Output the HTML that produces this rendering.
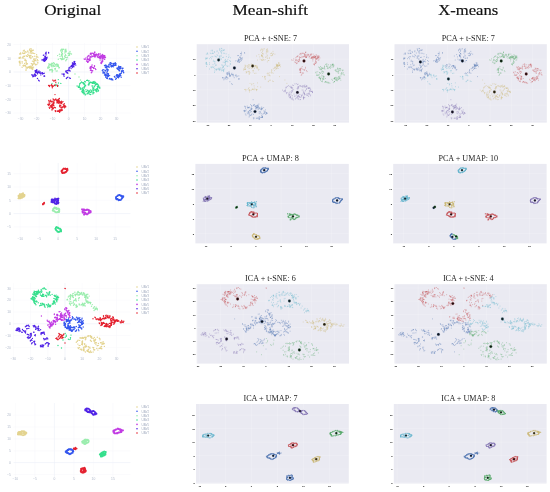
<!DOCTYPE html>
<html lang="en"><head><meta charset="utf-8"><title>Clustering comparison</title>
<style>html,body{margin:0;padding:0;background:#fff}svg{display:block}</style></head>
<body>
<svg width="550" height="492" viewBox="0 0 550 492">
<rect width="550" height="492" fill="#fff"/>
<g font-family="'Liberation Serif', serif" font-size="15.2" fill="#111" stroke="#111" stroke-width="0.18">
<text x="44.2" y="15.2" textLength="57" lengthAdjust="spacingAndGlyphs">Original</text>
<text x="232.6" y="15.2" textLength="75.4" lengthAdjust="spacingAndGlyphs">Mean-shift</text>
<text x="438.2" y="15.2" textLength="60" lengthAdjust="spacingAndGlyphs">X-means</text>
</g>
<g>
<g stroke="#f6f7fb" stroke-width="0.5">
<line x1="20.6" y1="43" x2="20.6" y2="117"/>
<line x1="36.6" y1="43" x2="36.6" y2="117"/>
<line x1="52.6" y1="43" x2="52.6" y2="117"/>
<line x1="84.6" y1="43" x2="84.6" y2="117"/>
<line x1="100.6" y1="43" x2="100.6" y2="117"/>
<line x1="116.6" y1="43" x2="116.6" y2="117"/>
<line x1="13.5" y1="44.6" x2="130.5" y2="44.6"/>
<line x1="13.5" y1="58.3" x2="130.5" y2="58.3"/>
<line x1="13.5" y1="85.7" x2="130.5" y2="85.7"/>
<line x1="13.5" y1="99.4" x2="130.5" y2="99.4"/>
<line x1="13.5" y1="113.1" x2="130.5" y2="113.1"/>
</g>
<g stroke="#ebeff7" stroke-width="0.6">
<line x1="68.6" y1="43" x2="68.6" y2="117"/>
<line x1="13.5" y1="72" x2="130.5" y2="72"/>
</g>
<g font-family="'Liberation Sans', sans-serif" font-size="3.3" fill="#b0b9ca">
<text x="20.6" y="119.8" text-anchor="middle">−30</text>
<text x="36.6" y="119.8" text-anchor="middle">−20</text>
<text x="52.6" y="119.8" text-anchor="middle">−10</text>
<text x="68.6" y="119.8" text-anchor="middle">0</text>
<text x="84.6" y="119.8" text-anchor="middle">10</text>
<text x="100.6" y="119.8" text-anchor="middle">20</text>
<text x="116.6" y="119.8" text-anchor="middle">30</text>
<text x="10.8" y="45.8" text-anchor="end">20</text>
<text x="10.8" y="59.5" text-anchor="end">10</text>
<text x="10.8" y="73.2" text-anchor="end">0</text>
<text x="10.8" y="86.9" text-anchor="end">−10</text>
<text x="10.8" y="100.6" text-anchor="end">−20</text>
<text x="10.8" y="114.3" text-anchor="end">−30</text>
</g>
<path d="M36.8 64.5h0M20.1 63.3h0M36 58.6h0M25 59.3h0M27.5 67.5h0M24.2 50.3h0M24.3 51.1h0M26 62h0M26.4 62.9h0M26 70.2h0M26.1 68.9h0M29.8 67.2h0M29.4 66.5h0M30.9 58.6h0M20.4 53.2h0M29.4 68h0M32.1 56.9h0M19.2 58.4h0M20.2 58h0M24.6 53h0M30.2 67.3h0M30.8 68h0M23.1 65.5h0M23.6 66.1h0M22.1 67.2h0M28.9 52.9h0M22.9 56.9h0M22.1 61.7h0M24.8 53.3h0M24.2 53.2h0M19.7 61.9h0M19.8 61.3h0M19.9 65h0M32.4 68.3h0M31.3 68.8h0M22.2 63.1h0M23.2 53.5h0M22.6 53h0M26.2 60.7h0M25.8 60.3h0M35.5 64.9h0M35.3 64.2h0M19.8 58h0M20.1 57.4h0M36.5 57h0M36.9 56.3h0M34.1 61.6h0M33.4 61.6h0M23.9 56.3h0M24.6 56.2h0M37.9 57.2h0M32.5 53h0M33.4 53.2h0M30.7 55.7h0M25.9 66.9h0M27.8 51.7h0M27.8 50.9h0M32.4 64.8h0M32.4 65.6h0M25.5 65.2h0M25.1 65.9h0M31.9 66.1h0M32.4 65.5h0M19.5 62.8h0M19.9 61.8h0M30.4 51.8h0M31.5 51.4h0M19.2 61.8h0M34.7 53.6h0M31.4 49.1h0M30.9 48.8h0M37.8 62.3h0M37.8 63h0M27 67.1h0M27.5 68.1h0M31.1 50.7h0M29.9 50.4h0M33.6 67.1h0M32.8 67.5h0M34.1 62.6h0M34.2 63.5h0M31 52.4h0M31.1 53.5h0M20.8 54h0M32.2 50.4h0M32.9 50.4h0M35.4 60h0M24.9 60.4h0M20.4 57.2h0M33.4 50.1h0M32.5 50.5h0M32 63.8h0M31.3 63.6h0M26.2 55.6h0M29.6 68.1h0M32.7 68.2h0M32.1 68.3h0M30 57.1h0M29.5 57.6h0M19.2 57.4h0M34.1 58.6h0M32.9 68.7h0M32.6 69.5h0M32.7 56.8h0M20.3 62.9h0M30.9 55.5h0M23.3 50.9h0M23.7 58.1h0M34 60.9h0M29.5 56.2h0M29.7 55.5h0M34.5 60h0M34.5 60.5h0M32.4 61.1h0M36 60.8h0M35.2 60.4h0M26.1 52.3h0M25.7 51.7h0M32.7 64.8h0M19.7 54h0M33.7 59.3h0M37.9 60.4h0M37.4 59.6h0M34.8 56.2h0M29.6 49.2h0M29.9 50.2h0M20.6 53h0M34 60.7h0M27.4 63.7h0M26.7 64.2h0M30.9 58h0M26.5 56.1h0M27.5 56.4h0M23.9 65.3h0M24.5 65.4h0M31.5 67.2h0M22.2 58h0M27.8 54.5h0M28.3 55.2h0M30.6 66.1h0M24.7 63.4h0M36.6 54.6h0M33.5 63.9h0M29.2 67.6h0M28.9 66.7h0M27 67.7h0M28.1 67.2h0" stroke="#e3d38f" stroke-width="1.4" stroke-linecap="round" fill="none"/>
<path d="M110.6 79.1h0M122.1 70.5h0M108.8 66.4h0M113.6 64.7h0M105.2 75.1h0M104.5 75h0M116.3 75.9h0M123.3 70.7h0M118.2 76.3h0M117.5 75.5h0M118.2 76.8h0M120 75.7h0M105.7 67.4h0M116.4 78.5h0M120.3 73.7h0M121.3 73.3h0M123 68.3h0M122.2 68.1h0M106.8 66.9h0M106.7 67.6h0M114.4 76.4h0M108.3 70h0M107.8 69.4h0M109.2 79.1h0M109.5 78.7h0M105.2 67.1h0M106 67.1h0M105.8 77.2h0M106 76.3h0M106.2 67.9h0M117.2 68h0M110.2 64.7h0M110.8 64.8h0M116.3 75.9h0M119.2 67.5h0M120.1 68.1h0M118.9 77h0M119.4 76.4h0M120.8 66.7h0M108.9 65.1h0M107.7 66.3h0M121.5 71.3h0M102.6 69.9h0M102.3 70.5h0M108 66.8h0M107.4 75.8h0M108 76.6h0M108.9 64.5h0M114.9 77.2h0M107 66.2h0M121.5 72h0M120.6 68.7h0M120.5 66.7h0M119.8 66.6h0M115.3 63.5h0M114.8 63.1h0M107.3 66.6h0M111.9 63.4h0M117.3 68.8h0M116.9 68.2h0M116 63.7h0M106 71.1h0M105.4 70.5h0M111.3 65.5h0M111 66.5h0M120.9 67.9h0M115.6 79.3h0M104.6 73h0M103.7 73h0M107.6 69.8h0M106.7 69.8h0M119.4 69h0M118.4 69.2h0M110.8 62.8h0M118.7 75.4h0M106 75.9h0M114.8 63.3h0M115.1 63.8h0M117.5 77.3h0M117.8 69.2h0M106.9 72.7h0M107.7 73.4h0M108.8 66.2h0M109.2 67.3h0M116.4 75.4h0M118.6 66.3h0M118.8 66.9h0M106.3 74.2h0M105.2 74.2h0M105.2 65.8h0M104.5 65.5h0M118.3 67.8h0M107.1 68.9h0M112.9 79.9h0M120.5 75h0M110.7 64.3h0M116.2 75.9h0M103.1 71.7h0M102.8 72.9h0M123.6 72.2h0M123.7 72.7h0M108.4 76.3h0M112.5 65.3h0M113.5 65.4h0M116.4 78.6h0M111.5 78.8h0M115.3 63.3h0M115.3 62.6h0M106.4 65.7h0M105.8 64.9h0M108.5 74.2h0M119.7 76.2h0M120 75.8h0M118.5 69.7h0M119.4 69.1h0M111 79.5h0M115.4 64.9h0M115.9 64.4h0M120.8 75.6h0M109.6 75.6h0M119.3 74.7h0M120 74.6h0M114.6 65.6h0M104 72.4h0M104.8 72.1h0M108.1 75.4h0M105.2 75h0M117 75h0M117.6 74.6h0M121.2 77.2h0M108.4 75.3h0M115.9 65.4h0M116.2 78.2h0M119.5 74h0M117.2 76.4h0M112 79.8h0M112.3 79.2h0M107.8 74.4h0M108.5 73.9h0M118.1 75.2h0M107.5 71.2h0M117.8 77.2h0M118.5 77.8h0M103.8 69.7h0M105.1 70.4h0M113.4 63.5h0M114.3 63.8h0M116.2 75.7h0M116.7 74.8h0M119.6 70.8h0M119.2 70.7h0M108.3 73.7h0M106.2 75.3h0M105.7 75.9h0M107.4 78.5h0M107.2 77.7h0M110.5 62.8h0M109.6 63.1h0M112.8 65.8h0M107.5 76.3h0M113.3 66.7h0M112.1 66.3h0M111.5 66.9h0M121.8 70.6h0M122.4 71.6h0M122.4 68.7h0M106.7 78.2h0M105.6 75.6h0M109.7 78.4h0M110.1 78.6h0" stroke="#3557ee" stroke-width="1.4" stroke-linecap="round" fill="none"/>
<path d="M67.4 57.2h0M67.2 57.7h0M64.9 53.1h0M60.7 50.9h0M60.9 50h0M62.5 57.2h0M65.6 57.4h0M61.5 49.3h0M66.2 50.9h0M65.2 50.4h0M57.6 55.6h0M66.2 51.8h0M65.6 51.9h0M65.8 50.3h0M65.3 49.7h0M62.2 53.5h0M62.6 53.9h0M64.2 58.8h0M69.1 52.9h0M62.1 51.4h0M62.4 50.7h0M62.1 55h0M61.7 56h0M61.5 55.1h0M61.9 55.8h0M59.4 54.3h0M62.3 53.3h0M64.6 56.9h0M64.8 56h0M69 55.3h0M62.1 59.6h0M61.3 59.5h0M63.2 59.3h0M62.9 58.8h0M68.1 53.5h0M68.8 53.2h0M60 56.4h0M61.6 52.5h0M66.1 57.6h0M65 51.2h0M65.1 51.9h0M68.4 55.2h0M60.3 58.4h0M69.6 54.3h0M69.5 55.2h0M66.4 59.6h0M66.8 59.6h0M62 49.7h0M62.7 49.3h0M69.9 54h0M70.2 53.2h0M63.7 49.2h0M61.4 55.3h0M61.4 54.5h0M58.3 59.2h0M65.8 60.8h0M61.5 55.3h0M62.3 56.3h0M65.5 54.7h0M65.9 55.5h0M65.9 49.3h0M61.3 58.8h0M62.2 58.6h0M57.3 65.1h0M50 70.3h0M49.8 70.6h0M49.8 69.4h0M51.9 64.9h0M51.3 65.4h0M51 64.3h0M50.4 64.4h0M50.9 65.7h0M53.3 65.4h0M54 64.7h0M49.1 67.5h0M48.5 67h0M59.4 67.6h0M59 68.1h0M52 66.8h0M56.5 64.1h0M57.2 64.2h0M58.2 65.2h0M47.7 67.2h0M50.6 69.7h0M51.5 69.4h0M52.2 69.7h0M57.6 66.3h0M49.4 67.3h0M52 69.1h0M58.4 66h0M58.6 66.9h0M48.7 67.7h0M49.3 67.3h0M55.6 64.7h0M55.8 65.2h0M52.7 70.4h0M47.9 68.2h0M58 64.5h0M56.9 64.4h0M51.9 63.9h0M56.2 71.1h0M56.6 64.3h0M57 64.7h0M53.6 62.7h0M54.5 63.5h0M51.9 70.8h0M52.4 71.3h0M56.1 66.6h0M57.2 70.9h0M54.5 66.2h0M53.7 66.6h0M49 65.4h0M49 64.6h0M52.6 63.5h0M51.8 63.2h0M48.7 65.8h0M52.1 66.3h0M55.1 69.7h0M54.8 68.6h0M57.4 65.7h0M58.2 66h0M49 63.8h0M49.5 64.5h0M55.4 68.5h0M52.1 72.1h0M75 74h0M79 77h0M80.5 80h0M70 51.5h0M71.5 54h0" stroke="#9bedae" stroke-width="1.4" stroke-linecap="round" fill="none"/>
<path d="M90.7 94.4h0M94.2 86.9h0M78.9 86.3h0M78.3 87h0M90.4 90h0M89.1 84.3h0M88.8 85.1h0M96.7 91.7h0M97.1 88.7h0M84 84.1h0M83.4 83.7h0M86.4 91.5h0M93.8 89.2h0M94.9 83.3h0M83.3 91.7h0M82.4 90.7h0M84.7 81.5h0M85.5 81.9h0M88.9 92.2h0M88.8 91.2h0M84.6 93.9h0M83.9 93.9h0M84.1 88.3h0M84.2 87.6h0M92.7 86h0M92 85.9h0M94.7 82.9h0M82.9 87.6h0M82.1 89.7h0M91.7 90.7h0M92.1 90.1h0M94.2 90h0M96 84.2h0M95.3 84.8h0M84.8 91.1h0M87.7 90.3h0M86.8 91.3h0M93.6 90.4h0M88.5 81.1h0M89 80.7h0M95.3 82.1h0M90.3 92.3h0M89.9 91.9h0M89.4 82.9h0M95.7 82.4h0M95.5 82.7h0M85.2 94.2h0M85.3 94.9h0M93.8 82.5h0M94 83.4h0M82.8 92.8h0M83.3 92.9h0M79.7 84.2h0M86.6 80.4h0M87.6 80.3h0M87 94h0M87.4 93.4h0M79.6 87.5h0M78.5 87.4h0M88.5 91.7h0M89.4 91.1h0M90.3 92.1h0M91.1 92.6h0M88.8 83.1h0M88.9 83.7h0M94 89.6h0M93.8 88.8h0M83.6 90.5h0M81.8 91.2h0M95.5 89.6h0M96.4 89h0M95.8 90.5h0M96.5 90.4h0M96.8 84.5h0M97.5 84.4h0M89 93.8h0M93.3 82h0M92.3 82.1h0M83 92.3h0M82.3 92.2h0M93.2 93.1h0M92.9 93.9h0M97.4 86.4h0M97.6 87.3h0M89.2 94h0M84.9 84.2h0M84.5 83.9h0M93.1 92.1h0M98.5 90.4h0M97.7 89.8h0M92.9 92.7h0M93.3 92h0M91.5 91.6h0M79.3 86.6h0M79.4 85.8h0M96.9 84.4h0M83.7 84h0M84.1 83.3h0M94 92.7h0M93.4 92.9h0M80.8 88.3h0M80.3 89.2h0M92 90.9h0M90.1 82.1h0M94.6 86.2h0M98 84.4h0M92.1 83h0M95.7 90.9h0M82.3 88.4h0M89.4 91.7h0M89.1 90.6h0M99.8 88.3h0M82 89.6h0M82.5 90.2h0M97.7 88.7h0M96.9 89.4h0M95.2 85.4h0M93.6 88.5h0M92.8 88.9h0M96.7 83.7h0M97.5 84h0M83.5 89.5h0M84.6 87h0M81.6 82h0M80.9 82.7h0M98.1 91.2h0M88.7 92.9h0M87.9 92.6h0M84.7 93h0M83.5 92.5h0M83.5 82.6h0M82.7 82.7h0M90.8 82.2h0M84.6 86.5h0M89.5 83.3h0M99.7 87.7h0M99.1 87.3h0M94.1 81.5h0M85.9 89.6h0M90.4 94.6h0M79.9 83.5h0M80.3 83.3h0M98.2 87.1h0M98.6 85.8h0M98.2 85.2h0M92.6 83.4h0M93.3 82.7h0M88.3 84.8h0M88.8 84.3h0M99 87.1h0M80.4 88.1h0M98.1 86.8h0M99.7 87.1h0M99.8 87.9h0M93 93.8h0M84.2 86.6h0M90.7 82.5h0M91.6 82.6h0M85.6 85.7h0M84.8 85.2h0M77.1 86h0M93.2 88.2h0M92.9 87.4h0M58.1 85.5h0M60.8 83.4h0M55.9 85.6h0M52 83.8h0M58.3 79.6h0M56 84.3h0M55.2 85.5h0M58.5 83h0" stroke="#36df8d" stroke-width="1.4" stroke-linecap="round" fill="none"/>
<path d="M89.9 59.1h0M90.3 60h0M98.5 54.6h0M98.7 55.3h0M88.4 61.8h0M87.6 59.8h0M87 59.5h0M88.1 58.9h0M99 54h0M99.4 57.6h0M100 58.4h0M92.7 53.2h0M102.5 57.9h0M93 56.3h0M93.6 56h0M99 56.7h0M99.8 56.5h0M88.8 59.8h0M89 60.3h0M98.7 53.8h0M85.1 59.4h0M84.2 59h0M99.1 56.6h0M87 61.3h0M94.2 54.9h0M99.9 56.9h0M99.1 57.1h0M93.8 54.1h0M93.7 54.6h0M98.1 57.6h0M100.6 56.6h0M100.8 57h0M101.3 57.1h0M94.6 52.5h0M94.8 52h0M96.2 54.1h0M101.7 56.1h0M102 55.8h0M87.2 57.2h0M89.3 60.5h0M96.4 54.8h0M95.7 55.3h0M100.5 58.2h0M101.9 56.6h0M102.4 56.5h0M89.9 56.9h0M98.5 54.4h0M95 56.4h0M95.1 56.9h0M100.1 56.1h0M96.8 54.2h0M97.1 55.4h0M90.2 54h0M93.6 53.4h0M93.5 55.9h0M94.3 55.8h0M89.6 60.6h0M90.1 57.9h0M100.2 56.5h0M95 54.4h0M97.2 54.7h0M102.9 58.4h0M85.7 58.1h0M91.9 53.1h0M92.7 53.1h0M95.2 56.9h0M94.9 56.2h0M87.7 62.4h0M87.8 61.8h0M100.6 56.5h0M100.9 55.7h0M86.5 61h0M89.8 59.2h0M90.7 56.9h0M90.2 56.4h0M87.4 58.7h0M100.3 53.9h0M97.3 56.7h0M97.6 56.1h0M95.6 55.9h0M88.9 55.5h0M88.2 56h0M100.1 57.4h0M99.3 57.8h0M89.7 58.7h0M94.8 52.7h0M94.4 56.8h0M95.1 56.3h0M88.4 55.7h0M88 56.5h0M100.1 60h0M101.6 56.8h0M101.9 56h0M90.7 53.3h0M94.1 54.9h0M94.8 54.7h0M91.9 55.9h0M92.5 56.6h0M91.1 54.5h0M91.2 53.6h0M91.3 57.1h0M102.9 58.3h0M104.7 56h0M102.6 54.4h0M103 55.4h0M103.2 56.5h0M103.8 56.8h0M104 55.5h0M104.8 55.7h0M101.4 56.6h0M101.8 57.3h0M103.8 56.2h0M103.2 58h0M105.5 57.3h0M104.6 57.1h0M102.1 58.5h0M102.4 57.6h0M101.8 56.4h0M101.2 55.3h0M104.1 55.6h0M102 62.2h0M101.7 61.8h0M102.3 61.7h0M102.7 61.6h0M102.7 60.7h0M103.6 58h0M103.7 57.6h0M103.9 57.1h0M104.2 59.4h0M104.8 59h0M102.2 60.4h0M102.2 59.8h0M104.6 57.2h0M104.3 56.7h0M101.4 63.6h0M101.1 62.3h0M101.5 63.2h0M100.8 63.1h0M90.8 68.1h0M93.3 67.6h0M93.6 68.4h0M90.4 70.2h0M91 69.9h0M95.8 69.5h0M90 68.3h0M94.1 67.9h0M92.4 67.3h0M91 70.4h0M91 68.8h0M90.7 67.9h0M92.7 70.8h0M92 70.8h0M90.1 67.7h0M90.3 66.9h0M94.5 66.4h0M94.5 65.7h0M91.8 72.2h0M91.3 72.8h0M92.1 65h0M91 67.4h0M91.2 66.5h0M95.3 68.6h0M90.9 67.1h0M91.4 66.5h0M92.7 70.8h0" stroke="#c13be3" stroke-width="1.4" stroke-linecap="round" fill="none"/>
<path d="M44.2 58.1h0M44.2 58.7h0M44 59.2h0M44.8 60.7h0M44.7 61.4h0M43.4 60.5h0M46.4 58.1h0M45.4 60.4h0M44.9 59h0M48.6 53.1h0M48.6 52.5h0M43.4 55.2h0M46 53.4h0M46.2 52.2h0M44 60.2h0M44 55.1h0M43.4 60.8h0M44.2 61.1h0M46 57.4h0M45.9 58.4h0M46.1 53.8h0M45.5 53.3h0M45.9 55h0M45.2 56.8h0M44.8 56.7h0M44.7 59.3h0M47.1 57.3h0M45.4 56.6h0M46.4 59.6h0M45.6 59.1h0M41.9 59.9h0M42.9 59.7h0M45.5 58h0M46.8 58.5h0M43.8 59.3h0M44.1 59.8h0M35.5 72.4h0M39.4 72.1h0M36.8 71.2h0M37 70.6h0M37.3 72.4h0M40.2 72h0M41.8 73.2h0M42.4 72.7h0M43.3 73.6h0M44.2 73.3h0M39.4 72.4h0M39 71h0M38.6 71.8h0M42.5 74.1h0M36.6 70.6h0M36.8 69.6h0M35.5 71.8h0M36.1 72.2h0M40.5 73.3h0M39.9 73.3h0M37 71.3h0M37.2 72h0M37.5 73.8h0M37.2 72.9h0M41.9 72.6h0M38.5 72.3h0M37.8 73.1h0M44.2 75.7h0M44.1 76.4h0M40.8 74.9h0M35.3 71.5h0M35.1 70.8h0M35.7 70.9h0M35.9 70.5h0M44.7 76.1h0M37.8 72.9h0M37.6 73.8h0M34.7 74.5h0M35.4 74.9h0M31.9 74.8h0M34.5 74.3h0M35.1 73.9h0M32.9 76.8h0M36.1 75.4h0M35.2 74.7h0M32.3 74.9h0M32.3 75.5h0M34 75.4h0M33.8 76.2h0M35.2 76.3h0M33.7 75.2h0M38.6 80.3h0M39.3 80.9h0M37.5 78.5h0M71.6 66h0M72.2 65.3h0M69.3 70.3h0M68.9 70.8h0M62.1 74h0M63.9 73.7h0M63.5 74.5h0M74.4 64.7h0M73.7 64.4h0M70.1 71h0M73.2 63.5h0M69.1 67.7h0M64.1 74.4h0M63.9 73.8h0M73.9 64.1h0M74.5 64.1h0M74.5 62.9h0M74.8 63.6h0M74.2 62.4h0M74.1 61.5h0M75.8 65.1h0M67.1 72.8h0M66.2 72.6h0M65.7 71.3h0M66.2 70.8h0M71.6 66.2h0M71.4 65.5h0M73 66.5h0M72.8 66.7h0M72.3 67.5h0M73.3 65.2h0M72.9 64.4h0M69.1 68.6h0M68.8 69.3h0M67.8 73.3h0M67.3 72.6h0M73.2 63.7h0M66.8 71.2h0M67.7 70.4h0M70.2 67h0M70.9 66.6h0M73.1 66.1h0M73.9 66.7h0M72.7 64.3h0M73.6 64.6h0M74.9 64.1h0M75.4 63.6h0M71.1 68.6h0M74.8 64.2h0M74.6 63.6h0M72.4 63h0M72.9 64.2h0M73 64.6h0M74.8 61.8h0M73.1 64.5h0M73.5 63.8h0M72.8 62.9h0M73.4 63.4h0M67.9 77.1h0M64.3 76.1h0M69.6 77.9h0M66.7 78h0M66.4 78.5h0M70.3 78.4h0M63.9 76h0M67.7 77.4h0" stroke="#5023e6" stroke-width="1.4" stroke-linecap="round" fill="none"/>
<path d="M53.8 99.7h0M65 106.7h0M65.3 106h0M52.5 104.4h0M58.8 102.1h0M58.1 111.2h0M57.6 101.6h0M58 102.4h0M61.9 110h0M61.4 110.5h0M53.5 108.3h0M55.1 99.8h0M50.5 105.7h0M55.4 107.7h0M54.2 107.2h0M53.6 107.9h0M51.5 107.2h0M50.7 107.1h0M63.6 104.9h0M63.2 104.6h0M57.2 101.2h0M59 100.2h0M58.3 100.2h0M57.1 103.1h0M57 102.4h0M53.1 99h0M61.3 107.2h0M65.8 106.7h0M50.7 101.5h0M51.3 101.9h0M58.3 101.5h0M64.3 103.7h0M52.3 107.2h0M52 105.8h0M51.4 106.2h0M57.4 111.2h0M58.1 110.8h0M57.7 101.9h0M53.1 108.7h0M52.4 108.2h0M57.7 99.9h0M57.4 100.8h0M55.8 110.9h0M59.1 111.2h0M58.6 99.3h0M59.4 98.5h0M55.5 111.6h0M55.2 110.7h0M58.7 101.4h0M59.2 100.7h0M61.2 109h0M61.9 109.3h0M64 106.4h0M64.3 105.4h0M59.6 105.3h0M63 101.6h0M60.3 105.3h0M60.8 105.8h0M53 105.7h0M53.9 105.2h0M52.7 101.9h0M63.6 106.7h0M63.9 106h0M59.6 106.6h0M60.2 107.1h0M53.8 103.4h0M54.1 102.7h0M60 109.6h0M62 109.4h0M52 110h0M53.6 102.6h0M54.1 102.7h0M48.5 105.3h0M48.9 104.2h0M64.5 107.7h0M58 101.6h0M62 102.3h0M61.5 101.2h0M59.5 101.8h0M62.8 106.8h0M62.4 107.6h0M60.2 101.8h0M59.8 102.4h0M48.9 100.9h0M48.8 100.4h0M65.1 107h0M65.1 106.4h0M60.5 110.5h0M61.7 110.5h0M52.1 101.1h0M51.6 101.5h0M61.9 102.7h0M61.3 102.8h0M62.1 110.4h0M55.5 99.6h0M55.9 99.2h0M53.6 102.9h0M53 103.6h0M59.4 102.8h0M58.8 103.4h0M52.1 109.2h0M61.5 103.5h0M61.5 102.2h0M48.5 104.1h0M60 111.6h0M59.7 110.8h0M56.4 100.3h0M56.7 101h0M55.8 98.9h0M50.6 100.3h0M59.3 110.1h0M49.8 103.8h0M53.9 101.3h0M54.1 100.4h0M61.1 103.6h0M61.2 102.6h0M51.6 105h0M60.7 103h0M58.5 99.8h0M58.3 100.5h0M49.2 107.3h0M49.6 108.3h0M62.2 110.1h0M53.1 104.4h0M52.2 104.1h0M47.9 104.5h0M51.8 105.5h0M56.8 100.5h0M57.2 100h0M59.7 111.7h0M59.6 112.3h0M48.5 104.8h0M49.3 104.7h0M49.2 102.2h0M51.9 101.5h0M51 101.9h0M49.4 101.1h0M55 94.6h0M49.2 85.4h0M48.6 85.5h0M54.5 85.4h0M54.9 85h0M49.7 85.7h0M49.5 86.6h0M52.7 86.1h0M52.4 85.7h0M54.3 85.4h0M52 86.3h0M54 81.2h0M54.1 80.5h0M55.5 80.2h0M57.5 85.5h0M57.1 85.2h0M53.6 86.1h0M57.4 85.5h0M55.8 82.2h0M52.7 80.1h0M51.5 84.6h0M51.2 85.4h0M57.6 86.4h0M52.5 86.6h0M52.3 87.7h0" stroke="#e4212f" stroke-width="1.4" stroke-linecap="round" fill="none"/>
<g font-family="'Liberation Sans', sans-serif" font-size="3.0" fill="#a7b0c3">
<circle cx="137" cy="47" r="0.8" fill="#e3d38f"/>
<text x="141.5" y="48.3">UAV1</text>
<circle cx="137" cy="51.3" r="0.8" fill="#3557ee"/>
<text x="141.5" y="52.6">UAV2</text>
<circle cx="137" cy="55.7" r="0.8" fill="#9bedae"/>
<text x="141.5" y="57">UAV3</text>
<circle cx="137" cy="60" r="0.8" fill="#36df8d"/>
<text x="141.5" y="61.3">UAV4</text>
<circle cx="137" cy="64.4" r="0.8" fill="#c13be3"/>
<text x="141.5" y="65.7">UAV5</text>
<circle cx="137" cy="68.7" r="0.8" fill="#5023e6"/>
<text x="141.5" y="70">UAV6</text>
<circle cx="137" cy="73" r="0.8" fill="#e4212f"/>
<text x="141.5" y="74.3">UAV7</text>
</g>
</g>
<g>
<rect x="196.7" y="44.2" width="152.3" height="78.4" fill="#eaeaf2"/>
<g stroke="#fff" stroke-width="0.5" stroke-opacity="0.36">
<line x1="207.5" y1="44.2" x2="207.5" y2="122.6"/>
<line x1="228.7" y1="44.2" x2="228.7" y2="122.6"/>
<line x1="249.9" y1="44.2" x2="249.9" y2="122.6"/>
<line x1="271.1" y1="44.2" x2="271.1" y2="122.6"/>
<line x1="292.3" y1="44.2" x2="292.3" y2="122.6"/>
<line x1="313.5" y1="44.2" x2="313.5" y2="122.6"/>
<line x1="334.7" y1="44.2" x2="334.7" y2="122.6"/>
<line x1="196.7" y1="59.1" x2="349" y2="59.1"/>
<line x1="196.7" y1="74.4" x2="349" y2="74.4"/>
<line x1="196.7" y1="89.8" x2="349" y2="89.8"/>
<line x1="196.7" y1="105.1" x2="349" y2="105.1"/>
<line x1="196.7" y1="120.5" x2="349" y2="120.5"/>
</g>
<text x="243.9" y="40.8" textLength="53.2" lengthAdjust="spacingAndGlyphs" font-family="'Liberation Serif', serif" font-size="8" fill="#222">PCA + t-SNE: 7</text>
<g font-family="'Liberation Sans', sans-serif" font-size="2.4" font-weight="bold" fill="#111">
<text x="207.5" y="126" text-anchor="middle">-30</text>
<text x="228.7" y="126" text-anchor="middle">-20</text>
<text x="249.9" y="126" text-anchor="middle">-10</text>
<text x="271.1" y="126" text-anchor="middle">0</text>
<text x="292.3" y="126" text-anchor="middle">10</text>
<text x="313.5" y="126" text-anchor="middle">20</text>
<text x="334.7" y="126" text-anchor="middle">30</text>
<text x="195.5" y="60.2" text-anchor="end">10</text>
<text x="195.5" y="75.5" text-anchor="end">0</text>
<text x="195.5" y="90.8" text-anchor="end">-10</text>
<text x="195.5" y="106.2" text-anchor="end">-20</text>
<text x="195.5" y="121.5" text-anchor="end">-30</text>
</g>
<path d="M238.8 58.8h0M238.7 59.5h0M238.4 60.1h0M239.5 61.7h0M239.4 62.5h0M237.7 61.5h0M241.6 58.8h0M240.3 61.4h0M239.7 59.8h0M244.7 53.2h0M244.6 52.6h0M237.7 55.6h0M241.2 53.6h0M241.4 52.2h0M238.5 61.1h0M238.5 55.5h0M237.7 61.9h0M238.7 62.2h0M241.2 58h0M241 59.1h0M241.3 54h0M240.4 53.5h0M241 55.4h0M240.2 57.3h0M239.5 57.2h0M239.4 60.1h0M242.6 57.9h0M240.3 57.2h0M241.6 60.6h0M240.7 59.9h0M235.7 60.9h0M237.1 60.6h0M240.6 58.7h0M242.2 59.2h0M238.2 60.1h0M238.6 60.7h0M227.2 74.9h0M232.4 74.6h0M228.9 73.5h0M229.3 72.9h0M229.6 74.9h0M233.4 74.4h0M235.5 75.8h0M236.3 75.2h0M237.6 76.2h0M238.8 75.9h0M232.4 74.8h0M231.9 73.3h0M231.4 74.2h0M236.5 76.8h0M228.7 72.9h0M229 71.7h0M227.2 74.2h0M228.1 74.6h0M233.8 75.8h0M233.1 75.9h0M229.3 73.6h0M229.4 74.4h0M229.9 76.4h0M229.5 75.4h0M235.8 75h0M231.2 74.7h0M230.3 75.6h0M238.8 78.5h0M238.6 79.3h0M234.2 77.7h0M227 73.8h0M226.7 73h0M227.6 73.2h0M227.7 72.7h0M239.4 79h0M230.3 75.4h0M230 76.4h0M226.2 77.2h0M227.1 77.7h0M222.5 77.5h0M225.9 77h0M226.7 76.6h0M223.8 79.8h0M228 78.2h0M226.9 77.4h0M223.1 77.6h0M223 78.3h0M225.3 78.2h0M225 79.1h0M226.9 79.2h0M224.9 78h0M231.4 83.7h0M232.3 84.4h0M229.9 81.7h0" stroke="#4c72b0" stroke-width="0.9" stroke-linecap="round" fill="none" stroke-opacity="0.5"/>
<path d="M251.5 105.5h0M266.3 113.3h0M266.7 112.5h0M249.7 110.7h0M258.2 108.1h0M257.2 118.4h0M256.5 107.6h0M257 108.4h0M262.2 116.9h0M261.5 117.5h0M251 115.1h0M253.3 105.6h0M247.2 112.1h0M253.6 114.4h0M252 113.9h0M251.3 114.7h0M248.4 113.8h0M247.3 113.7h0M264.5 111.3h0M263.9 110.9h0M256 107.1h0M258.3 105.9h0M257.4 106h0M255.9 109.2h0M255.7 108.4h0M250.6 104.6h0M261.5 113.8h0M267.4 113.3h0M247.4 107.4h0M248.2 107.9h0M257.5 107.5h0M265.4 109.9h0M249.6 113.8h0M249.1 112.3h0M248.3 112.7h0M256.3 118.3h0M257.2 117.9h0M256.6 107.9h0M250.6 115.5h0M249.6 114.9h0M256.6 105.7h0M256.3 106.7h0M254.1 118h0M258.5 118.3h0M257.9 104.9h0M258.9 104.1h0M253.7 118.8h0M253.3 117.8h0M258 107.4h0M258.6 106.6h0M261.4 115.8h0M262.3 116.2h0M265 113h0M265.4 111.8h0M259.2 111.7h0M263.7 107.6h0M260.2 111.7h0M260.7 112.3h0M250.4 112.1h0M251.6 111.6h0M250 107.9h0M264.5 113.3h0M264.8 112.5h0M259.1 113.1h0M260 113.7h0M251.5 109.6h0M251.9 108.7h0M259.7 116.6h0M262.3 116.3h0M249.1 117h0M251.2 108.7h0M251.9 108.8h0M244.4 111.7h0M245 110.5h0M265.7 114.4h0M257 107.5h0M262.4 108.3h0M261.7 107.1h0M259 107.7h0M263.4 113.3h0M262.9 114.2h0M259.9 107.8h0M259.5 108.4h0M245 106.8h0M244.8 106.2h0M266.4 113.7h0M266.4 112.9h0M260.3 117.5h0M261.9 117.5h0M249.2 107h0M248.6 107.5h0M262.2 108.9h0M261.4 108.9h0M262.5 117.5h0M253.7 105.3h0M254.3 104.9h0M251.2 109h0M250.5 109.8h0M258.9 108.9h0M258.1 109.6h0M249.3 116h0M261.7 109.6h0M261.7 108.2h0M244.5 110.4h0M259.7 118.7h0M259.3 117.9h0M254.9 106.2h0M255.3 106.9h0M254.1 104.5h0M247.2 106.1h0M258.8 117.1h0M246.2 110h0M251.6 107.2h0M251.9 106.2h0M261.1 109.8h0M261.3 108.7h0M248.6 111.4h0M260.6 109.1h0M257.7 105.5h0M257.5 106.4h0M245.3 114h0M246 115.1h0M262.6 117.1h0M250.5 110.7h0M249.4 110.4h0M243.7 110.8h0M248.8 112h0M255.4 106.3h0M256 105.8h0M259.3 118.9h0M259.1 119.5h0M244.5 111.2h0M245.5 111.1h0M245.4 108.3h0M249 107.5h0M247.8 108h0M245.7 107h0M253.1 99.7h0" stroke="#4c72b0" stroke-width="0.9" stroke-linecap="round" fill="none" stroke-opacity="0.5"/>
<path d="M229 66h0M206.8 64.7h0M227.9 59.4h0M213.4 60.2h0M216.7 69.4h0M212.2 50.1h0M212.4 50.9h0M214.7 63.2h0M215.2 64.2h0M214.6 72.4h0M214.8 71h0M219.7 69h0M219.2 68.2h0M221.1 59.4h0M207.2 53.3h0M219.2 69.9h0M222.7 57.5h0M205.6 59.1h0M207 58.7h0M212.9 53.1h0M220.2 69.1h0M221 69.9h0M210.8 67.1h0M211.4 67.7h0M209.5 69h0M218.5 53h0M210.6 57.4h0M209.5 62.8h0M213.1 53.5h0M212.3 53.3h0M206.4 63.1h0M206.4 62.4h0M206.6 66.5h0M223.1 70.2h0M221.6 70.8h0M209.6 64.4h0M211 53.6h0M210.2 53.1h0M215 61.8h0M214.4 61.3h0M227.3 66.5h0M227 65.7h0M206.4 58.7h0M206.8 58.1h0M228.6 57.6h0M229 56.8h0M225.4 62.8h0M224.5 62.7h0M211.8 56.8h0M212.8 56.7h0M230.4 57.8h0M223.3 53.2h0M224.4 53.3h0M220.9 56.1h0M214.5 68.7h0M217 51.7h0M217.1 50.8h0M223.1 66.3h0M223.1 67.3h0M214 66.8h0M213.5 67.6h0M222.5 67.8h0M223.2 67.2h0M206.1 64.1h0M206.6 63h0M220.5 51.7h0M221.9 51.3h0M205.7 63h0M226.1 53.8h0M221.8 48.7h0M221.2 48.4h0M230.3 63.6h0M230.3 64.3h0M216 68.9h0M216.6 70.1h0M221.4 50.5h0M219.8 50.2h0M224.7 68.9h0M223.7 69.4h0M225.4 63.9h0M225.5 64.9h0M221.3 52.5h0M221.4 53.7h0M207.8 54.2h0M222.9 50.2h0M223.8 50.2h0M227.1 61h0M213.3 61.4h0M207.2 57.9h0M224.5 49.9h0M223.3 50.3h0M222.7 65.2h0M221.7 65h0M214.9 56h0M219.5 70.1h0M223.6 70.2h0M222.7 70.3h0M219.9 57.7h0M219.3 58.3h0M205.6 58.1h0M225.4 59.4h0M223.8 70.8h0M223.4 71.6h0M223.5 57.3h0M207.1 64.2h0M221.1 55.9h0M211.1 50.8h0M211.6 58.8h0M225.2 61.9h0M219.3 56.7h0M219.5 56h0M225.9 60.9h0M225.9 61.5h0M223.2 62.2h0M227.9 61.9h0M226.8 61.4h0M214.7 52.4h0M214.3 51.6h0M223.5 66.3h0M206.3 54.2h0M224.9 60.2h0M230.5 61.4h0M229.8 60.5h0M226.3 56.6h0M219.4 48.8h0M219.9 49.9h0M207.5 53.1h0M225.3 61.8h0M216.5 65.1h0M215.5 65.6h0M221.1 58.7h0M215.4 56.6h0M216.6 56.9h0M211.9 66.9h0M212.6 67h0M221.9 69h0M209.6 58.7h0M217 54.8h0M217.8 55.6h0M220.8 67.8h0M213 64.7h0M228.8 54.9h0M224.5 65.3h0M218.8 69.5h0M218.6 68.4h0M215.9 69.6h0M217.4 69h0" stroke="#64b5cd" stroke-width="0.9" stroke-linecap="round" fill="none" stroke-opacity="0.5"/>
<path d="M326.7 82.3h0M342 72.7h0M324.3 68.1h0M330.8 66.2h0M319.6 77.9h0M318.7 77.7h0M334.3 78.8h0M343.5 72.9h0M336.8 79.2h0M335.9 78.3h0M336.8 79.7h0M339.2 78.5h0M320.2 69.2h0M334.5 81.6h0M339.7 76.3h0M340.9 75.9h0M343.2 70.2h0M342.1 70h0M321.7 68.7h0M321.6 69.5h0M331.8 79.3h0M323.7 72.2h0M323.1 71.5h0M324.9 82.3h0M325.3 81.9h0M319.5 68.9h0M320.7 68.9h0M320.4 80.2h0M320.6 79.2h0M320.9 69.8h0M335.4 69.9h0M326.3 66.3h0M327 66.3h0M334.3 78.8h0M338.2 69.4h0M339.4 70h0M337.7 80h0M338.4 79.3h0M340.3 68.5h0M324.5 66.7h0M322.9 68h0M341.1 73.6h0M316.2 72h0M315.7 72.7h0M323.2 68.6h0M322.5 78.6h0M323.3 79.5h0M324.5 66h0M332.4 80.3h0M322 67.9h0M341.2 74.4h0M340 70.7h0M339.8 68.5h0M339 68.4h0M333 64.9h0M332.3 64.4h0M322.4 68.4h0M328.4 64.8h0M335.7 70.9h0M335 70.2h0M333.9 65.1h0M320.7 73.4h0M319.9 72.7h0M327.6 67.1h0M327.3 68.2h0M340.4 69.8h0M333.3 82.6h0M318.8 75.6h0M317.6 75.5h0M322.7 71.9h0M321.6 72h0M338.4 71h0M337.1 71.3h0M327 64.1h0M337.5 78.2h0M320.6 78.7h0M332.3 64.7h0M332.7 65.2h0M335.9 80.3h0M336.3 71.2h0M321.8 75.2h0M322.9 75.9h0M324.3 67.9h0M324.9 69.1h0M334.5 78.2h0M337.4 68.1h0M337.7 68.7h0M321.1 76.9h0M319.6 76.9h0M319.6 67.5h0M318.7 67.1h0M336.9 69.7h0M322.1 70.9h0M329.9 83.3h0M339.8 77.7h0M326.9 65.8h0M334.2 78.8h0M316.8 74.1h0M316.5 75.4h0M343.9 74.6h0M344.2 75.1h0M323.9 79.2h0M329.2 66.9h0M330.6 67h0M334.5 81.7h0M327.9 82.1h0M333 64.6h0M333 63.9h0M321.2 67.4h0M320.4 66.5h0M324 76.9h0M338.9 79.1h0M339.2 78.7h0M337.2 71.8h0M338.4 71.2h0M327.3 82.8h0M333.1 66.4h0M333.8 65.9h0M340.2 78.4h0M325.4 78.5h0M338.2 77.4h0M339.2 77.3h0M332 67.3h0M318 74.8h0M319.1 74.5h0M323.4 78.2h0M319.6 77.7h0M335.2 77.8h0M336 77.3h0M340.8 80.2h0M323.8 78.1h0M333.7 67h0M334.2 81.4h0M338.6 76.6h0M335.5 79.4h0M328.6 83.1h0M328.9 82.5h0M323 77.1h0M323.9 76.6h0M336.7 78h0M322.7 73.5h0M336.3 80.3h0M337.2 80.8h0M317.8 71.8h0M319.4 72.7h0M330.5 64.9h0M331.7 65.2h0M334.2 78.5h0M334.8 77.5h0M338.7 73.1h0M338.1 72.9h0M323.7 76.3h0M320.9 78.1h0M320.2 78.7h0M322.6 81.7h0M322.3 80.8h0M326.6 64.1h0M325.4 64.4h0M329.6 67.5h0M322.6 79.2h0M330.3 68.4h0M328.7 68h0M327.9 68.6h0M341.6 72.9h0M342.3 73.9h0M342.4 70.7h0M321.6 81.4h0M320.1 78.4h0M325.6 81.6h0M326.1 81.8h0" stroke="#55a868" stroke-width="0.9" stroke-linecap="round" fill="none" stroke-opacity="0.5"/>
<path d="M300.4 99.5h0M305.1 91.1h0M284.8 90.4h0M283.9 91.2h0M299.9 94.5h0M298.3 88.2h0M297.8 89.1h0M308.4 96.4h0M308.9 93.1h0M291.6 88h0M290.8 87.5h0M294.6 96.2h0M304.5 93.7h0M305.9 87h0M290.5 96.5h0M289.4 95.3h0M292.4 85.1h0M293.5 85.5h0M297.9 97h0M297.9 95.9h0M292.2 98.9h0M291.4 98.9h0M291.7 92.6h0M291.8 91.9h0M303.1 90.1h0M302.1 90h0M305.7 86.6h0M290.1 91.9h0M289 94.2h0M301.6 95.4h0M302.2 94.7h0M305.1 94.6h0M307.3 88.1h0M306.5 88.7h0M292.5 95.8h0M296.4 95h0M295.2 96h0M304.2 95h0M297.4 84.6h0M298.1 84.2h0M306.5 85.7h0M299.8 97.1h0M299.3 96.7h0M298.7 86.6h0M307 86.1h0M306.7 86.4h0M293 99.3h0M293.2 100.1h0M304.5 86.2h0M304.8 87.2h0M289.9 97.7h0M290.6 97.9h0M285.9 88.1h0M294.9 83.9h0M296.3 83.7h0M295.4 99h0M296 98.4h0M285.6 91.7h0M284.2 91.7h0M297.5 96.4h0M298.7 95.8h0M299.8 96.9h0M300.9 97.5h0M297.9 86.8h0M298 87.5h0M304.7 94.2h0M304.5 93.3h0M291 95.2h0M288.6 95.9h0M306.7 94.1h0M307.9 93.5h0M307.2 95.1h0M308 95h0M308.5 88.5h0M309.3 88.3h0M298.1 98.8h0M303.8 85.6h0M302.5 85.8h0M290.2 97.1h0M289.3 97h0M303.7 98h0M303.4 98.9h0M309.3 90.5h0M309.6 91.6h0M298.3 99.1h0M292.7 88.1h0M292.1 87.7h0M303.6 97h0M310.7 95h0M309.6 94.3h0M303.3 97.5h0M303.8 96.9h0M301.4 96.4h0M285.2 90.7h0M285.4 89.9h0M308.6 88.3h0M291.2 87.9h0M291.7 87.1h0M304.8 97.5h0M304 97.9h0M287.2 92.7h0M286.6 93.6h0M302.1 95.6h0M299.6 85.8h0M305.5 90.3h0M310.1 88.2h0M302.3 86.7h0M307 95.5h0M289.2 92.8h0M298.7 96.4h0M298.3 95.2h0M312.4 92.6h0M288.9 94.1h0M289.5 94.8h0M309.6 93.2h0M308.7 93.9h0M306.4 89.4h0M304.2 92.9h0M303.2 93.3h0M308.3 87.5h0M309.4 87.8h0M290.9 94h0M292.3 91.2h0M288.4 85.6h0M287.4 86.4h0M310.3 95.9h0M297.7 97.8h0M296.7 97.4h0M292.4 97.9h0M290.8 97.3h0M290.9 86.3h0M289.8 86.4h0M300.6 85.8h0M292.3 90.7h0M298.7 87.1h0M312.4 92h0M311.6 91.5h0M304.9 85.1h0M294 94.1h0M300 99.7h0M286 87.3h0M286.6 87.1h0M310.4 91.3h0M310.8 89.9h0M310.3 89.2h0M302.9 87.2h0M303.9 86.4h0M297.1 88.7h0M297.9 88.2h0M311.4 91.4h0M286.7 92.5h0M310.2 90.9h0M312.3 91.3h0M312.4 92.2h0M303.4 98.8h0M291.8 90.7h0M300.3 86.1h0M301.5 86.3h0M293.7 89.7h0M292.6 89.2h0M282.4 90.1h0M303.7 92.6h0M303.3 91.6h0" stroke="#8172b2" stroke-width="0.9" stroke-linecap="round" fill="none" stroke-opacity="0.5"/>
<path d="M299.3 59.9h0M299.9 60.9h0M310.7 54.9h0M310.9 55.7h0M297.4 63h0M296.3 60.7h0M295.5 60.4h0M296.9 59.8h0M311.4 54.2h0M311.9 58.2h0M312.7 59.2h0M303 53.3h0M316 58.6h0M303.5 56.8h0M304.2 56.5h0M311.3 57.3h0M312.5 57h0M297.8 60.7h0M298.1 61.2h0M311 54h0M293 60.3h0M291.7 59.9h0M311.5 57.2h0M295.4 62.4h0M305 55.3h0M312.6 57.4h0M311.5 57.7h0M304.5 54.3h0M304.3 54.9h0M310.2 58.3h0M313.6 57.1h0M313.8 57.6h0M314.4 57.7h0M305.6 52.6h0M305.8 51.9h0M307.7 54.3h0M315 56.6h0M315.4 56.2h0M295.8 57.8h0M298.6 61.5h0M307.9 55.1h0M307.1 55.6h0M313.3 58.9h0M315.3 57.2h0M315.9 57h0M299.3 57.4h0M310.8 54.7h0M306.1 57h0M306.2 57.5h0M312.9 56.6h0M308.5 54.4h0M308.9 55.8h0M299.7 54.2h0M304.2 53.5h0M304.1 56.4h0M305.2 56.3h0M298.9 61.7h0M299.6 58.6h0M313 57h0M306 54.7h0M309 55h0M316.6 59.1h0M293.8 58.9h0M302 53.2h0M303 53.3h0M306.3 57.5h0M305.9 56.7h0M296.3 63.6h0M296.6 63h0M313.5 57h0M313.8 56.1h0M294.8 62h0M299.2 60h0M300.4 57.5h0M299.7 56.9h0M295.9 59.5h0M313.1 54.1h0M309.1 57.2h0M309.5 56.5h0M306.9 56.3h0M298.1 55.9h0M297.1 56.5h0M312.8 58h0M311.7 58.5h0M299 59.5h0M305.8 52.7h0M305.3 57.4h0M306.2 56.9h0M297.4 56.2h0M296.8 57h0M312.9 60.9h0M314.9 57.4h0M315.3 56.5h0M300.4 53.4h0M304.8 55.2h0M305.8 55h0M302 56.4h0M302.7 57.1h0M300.9 54.8h0M301.1 53.8h0M301.2 57.7h0M316.6 59h0M318.9 56.5h0M316.2 54.7h0M316.7 55.8h0M317 57.1h0M317.7 57.4h0M318 55.9h0M319.1 56.1h0M314.5 57.1h0M315.1 58h0M317.7 56.7h0M316.9 58.7h0M319.9 57.9h0M318.7 57.8h0M315.5 59.3h0M315.9 58.3h0M315.1 56.9h0M314.3 55.7h0M318.1 56h0M315.4 63.5h0M315 62.9h0M315.8 62.9h0M316.3 62.7h0M316.3 61.7h0M317.4 58.7h0M317.7 58.2h0M317.9 57.7h0M318.2 60.2h0M319 59.8h0M315.6 61.4h0M315.7 60.7h0M318.8 57.8h0M318.4 57.3h0M314.6 65h0M314.1 63.5h0M314.6 64.5h0M313.8 64.5h0M300.6 70.1h0M303.9 69.5h0M304.2 70.4h0M300 72.4h0M300.7 72h0M307.1 71.6h0M299.4 70.2h0M304.8 69.8h0M302.7 69.1h0M300.7 72.6h0M300.7 70.8h0M300.4 69.8h0M303 73h0M302.1 73.1h0M299.5 69.6h0M299.9 68.7h0M305.4 68.2h0M305.4 67.3h0M301.8 74.6h0M301.2 75.3h0M302.2 66.6h0M300.8 69.2h0M301 68.2h0M306.5 70.6h0M300.6 68.9h0M301.3 68.2h0M303.1 73.1h0" stroke="#c44e52" stroke-width="0.9" stroke-linecap="round" fill="none" stroke-opacity="0.5"/>
<path d="M275.1 67.7h0M275.8 66.9h0M272 72.5h0M271.4 73h0M262.5 76.6h0M264.9 76.3h0M264.4 77.3h0M278.7 66.2h0M277.8 65.9h0M273.1 73.3h0M277.1 64.9h0M271.7 69.6h0M265.2 77h0M264.9 76.5h0M278.1 65.6h0M278.9 65.5h0M279 64.2h0M279.4 65h0M278.5 63.7h0M278.4 62.6h0M280.6 66.7h0M269.1 75.3h0M267.9 75.1h0M267.2 73.6h0M267.9 73h0M275.1 67.9h0M274.8 67.1h0M276.9 68.2h0M276.6 68.5h0M275.9 69.4h0M277.3 66.8h0M276.8 65.9h0M271.8 70.5h0M271.4 71.4h0M270.1 75.8h0M269.3 75h0M277.2 65.1h0M268.8 73.6h0M269.9 72.6h0M273.3 68.8h0M274.2 68.3h0M277.1 67.8h0M278.2 68.5h0M276.5 65.8h0M277.7 66.1h0M279.5 65.5h0M280.2 64.9h0M274.5 70.6h0M279.3 65.6h0M279 65h0M276.2 64.3h0M276.8 65.7h0M276.9 66.1h0M279.3 63h0M277 66h0M277.6 65.2h0M276.7 64.3h0M277.4 64.7h0M270.1 80.1h0M265.4 79h0M272.4 81h0M268.6 81.2h0M268.2 81.7h0M273.3 81.5h0M264.9 78.9h0M269.9 80.4h0M269.5 57.8h0M269.3 58.3h0M266.2 53.2h0M260.7 50.7h0M261 49.7h0M263.1 57.8h0M267.1 58h0M261.7 49h0M267.9 50.8h0M266.6 50.2h0M256.5 56h0M267.9 51.8h0M267.2 51.9h0M267.4 50.1h0M266.7 49.4h0M262.7 53.6h0M263.2 54.1h0M265.2 59.6h0M271.8 53h0M262.5 51.4h0M262.9 50.5h0M262.5 55.3h0M262 56.5h0M261.7 55.4h0M262.3 56.2h0M258.9 54.6h0M262.8 53.4h0M265.7 57.5h0M266.1 56.5h0M271.6 55.7h0M262.5 60.5h0M261.4 60.3h0M263.9 60.2h0M263.5 59.6h0M270.4 53.7h0M271.4 53.4h0M259.7 56.9h0M261.8 52.5h0M267.7 58.3h0M266.3 51.1h0M266.5 51.9h0M270.9 55.6h0M260.1 59.2h0M272.4 54.6h0M272.3 55.5h0M268.2 60.5h0M268.8 60.5h0M262.3 49.4h0M263.3 49h0M272.8 54.2h0M273.3 53.4h0M264.6 48.8h0M261.6 55.7h0M261.5 54.8h0M257.4 60h0M267.3 61.9h0M261.7 55.7h0M262.8 56.8h0M267 55h0M267.5 55.9h0M267.5 48.9h0M261.5 59.6h0M262.7 59.3h0M256.1 66.7h0M246.5 72.5h0M246.2 72.9h0M246.2 71.5h0M249 66.5h0M248.2 67.1h0M247.8 65.8h0M247 65.9h0M247.6 67.3h0M250.9 67h0M251.8 66.3h0M245.2 69.4h0M244.5 68.8h0M259 69.5h0M258.4 70.1h0M249.1 68.6h0M255 65.5h0M256 65.6h0M257.3 66.8h0M243.4 69h0M247.3 71.8h0M248.4 71.5h0M249.3 71.9h0M256.6 68h0M245.7 69.2h0M249.1 71.2h0M257.6 67.7h0M257.8 68.7h0M244.7 69.5h0M245.5 69.1h0M253.9 66.2h0M254.2 66.8h0M250 72.6h0M243.7 70.1h0M257.1 66h0M255.7 65.8h0M249 65.3h0M254.7 73.4h0M255.2 65.7h0M255.7 66.2h0M251.3 64h0M252.4 64.8h0M248.9 73h0M249.7 73.6h0M254.6 68.4h0M256 73.2h0M252.4 67.9h0M251.3 68.3h0M245.2 67h0M245.2 66.1h0M249.8 64.9h0M248.8 64.6h0M244.8 67.5h0M249.2 68h0M253.2 71.9h0M252.8 70.6h0M256.2 67.3h0M257.3 67.7h0M245.1 65.2h0M245.8 66h0M253.6 70.4h0M249.2 74.5h0M279.6 76.6h0M284.9 80h0M286.9 83.4h0M273 51.4h0M274.9 54.2h0M245.4 89.4h0M244.6 89.5h0M252.4 89.4h0M252.9 88.9h0M246.1 89.7h0M245.8 90.8h0M250 90.2h0M249.6 89.7h0M252.2 89.4h0M249.1 90.4h0M251.7 84.8h0M251.9 83.9h0M253.7 83.6h0M256.4 89.6h0M255.8 89.1h0M251.3 90.2h0M256.3 89.6h0M254.1 85.9h0M250 83.4h0M248.4 88.5h0M248 89.4h0M256.6 90.6h0M249.7 90.8h0M249.5 92h0M257.2 89.6h0M260.7 87.1h0M254.3 89.7h0M249.1 87.6h0M257.5 82.9h0M254.3 88.1h0M253.4 89.6h0M257.7 86.7h0" stroke="#ccb974" stroke-width="0.9" stroke-linecap="round" fill="none" stroke-opacity="0.5"/>
<circle cx="218.6" cy="60" r="1.4" fill="#101c20" stroke="#64b5cd" stroke-width="0.4" stroke-opacity="0.55"/>
<circle cx="234.4" cy="68" r="1.4" fill="#0c121c" stroke="#4c72b0" stroke-width="0.4" stroke-opacity="0.55"/>
<circle cx="252.6" cy="66" r="1.4" fill="#201d12" stroke="#ccb974" stroke-width="0.4" stroke-opacity="0.55"/>
<circle cx="255" cy="111.6" r="1.4" fill="#0c121c" stroke="#4c72b0" stroke-width="0.4" stroke-opacity="0.55"/>
<circle cx="304" cy="61" r="1.4" fill="#1f0c0d" stroke="#c44e52" stroke-width="0.4" stroke-opacity="0.55"/>
<circle cx="328.6" cy="74" r="1.4" fill="#0d1a10" stroke="#55a868" stroke-width="0.4" stroke-opacity="0.55"/>
<circle cx="297.4" cy="92.4" r="1.4" fill="#14121c" stroke="#8172b2" stroke-width="0.4" stroke-opacity="0.55"/>
</g>
<g>
<rect x="394.5" y="44.2" width="152.3" height="78.4" fill="#eaeaf2"/>
<g stroke="#fff" stroke-width="0.5" stroke-opacity="0.36">
<line x1="405.3" y1="44.2" x2="405.3" y2="122.6"/>
<line x1="426.5" y1="44.2" x2="426.5" y2="122.6"/>
<line x1="447.7" y1="44.2" x2="447.7" y2="122.6"/>
<line x1="468.9" y1="44.2" x2="468.9" y2="122.6"/>
<line x1="490.1" y1="44.2" x2="490.1" y2="122.6"/>
<line x1="511.3" y1="44.2" x2="511.3" y2="122.6"/>
<line x1="532.5" y1="44.2" x2="532.5" y2="122.6"/>
<line x1="394.5" y1="59.1" x2="546.8" y2="59.1"/>
<line x1="394.5" y1="74.4" x2="546.8" y2="74.4"/>
<line x1="394.5" y1="89.8" x2="546.8" y2="89.8"/>
<line x1="394.5" y1="105.1" x2="546.8" y2="105.1"/>
<line x1="394.5" y1="120.5" x2="546.8" y2="120.5"/>
</g>
<text x="441.7" y="40.8" textLength="53.2" lengthAdjust="spacingAndGlyphs" font-family="'Liberation Serif', serif" font-size="8" fill="#222">PCA + t-SNE: 7</text>
<g font-family="'Liberation Sans', sans-serif" font-size="2.4" font-weight="bold" fill="#111">
<text x="405.3" y="126" text-anchor="middle">-30</text>
<text x="426.5" y="126" text-anchor="middle">-20</text>
<text x="447.7" y="126" text-anchor="middle">-10</text>
<text x="468.9" y="126" text-anchor="middle">0</text>
<text x="490.1" y="126" text-anchor="middle">10</text>
<text x="511.3" y="126" text-anchor="middle">20</text>
<text x="532.5" y="126" text-anchor="middle">30</text>
<text x="393.3" y="60.2" text-anchor="end">10</text>
<text x="393.3" y="75.5" text-anchor="end">0</text>
<text x="393.3" y="90.8" text-anchor="end">-10</text>
<text x="393.3" y="106.2" text-anchor="end">-20</text>
<text x="393.3" y="121.5" text-anchor="end">-30</text>
</g>
<path d="M426.8 66h0M404.6 64.7h0M425.7 59.4h0M411.2 60.2h0M414.5 69.4h0M410 50.1h0M410.2 50.9h0M412.5 63.2h0M413 64.2h0M412.4 72.4h0M412.6 71h0M417.5 69h0M417 68.2h0M418.9 59.4h0M405 53.3h0M417 69.9h0M420.5 57.5h0M403.4 59.1h0M404.8 58.7h0M410.7 53.1h0M418 69.1h0M418.8 69.9h0M408.6 67.1h0M409.2 67.7h0M407.3 69h0M416.3 53h0M408.4 57.4h0M407.3 62.8h0M410.9 53.5h0M410.1 53.3h0M404.2 63.1h0M404.2 62.4h0M404.4 66.5h0M420.9 70.2h0M419.4 70.8h0M407.4 64.4h0M408.8 53.6h0M408 53.1h0M412.8 61.8h0M412.2 61.3h0M425.1 66.5h0M424.8 65.7h0M404.2 58.7h0M404.6 58.1h0M426.4 57.6h0M426.8 56.8h0M423.2 62.8h0M422.3 62.7h0M409.6 56.8h0M410.6 56.7h0M428.2 57.8h0M421.1 53.2h0M422.2 53.3h0M418.7 56.1h0M412.3 68.7h0M414.8 51.7h0M414.9 50.8h0M420.9 66.3h0M420.9 67.3h0M411.8 66.8h0M411.3 67.6h0M420.3 67.8h0M421 67.2h0M403.9 64.1h0M404.4 63h0M418.3 51.7h0M419.7 51.3h0M403.5 63h0M423.9 53.8h0M419.6 48.7h0M419 48.4h0M428.1 63.6h0M428.1 64.3h0M413.8 68.9h0M414.4 70.1h0M419.2 50.5h0M417.6 50.2h0M422.5 68.9h0M421.5 69.4h0M423.2 63.9h0M423.3 64.9h0M419.1 52.5h0M419.2 53.7h0M405.6 54.2h0M420.7 50.2h0M421.6 50.2h0M424.9 61h0M411.1 61.4h0M405 57.9h0M422.3 49.9h0M421.1 50.3h0M420.5 65.2h0M419.5 65h0M412.7 56h0M417.3 70.1h0M421.4 70.2h0M420.5 70.3h0M417.7 57.7h0M417.1 58.3h0M403.4 58.1h0M423.2 59.4h0M421.6 70.8h0M421.2 71.6h0M421.3 57.3h0M404.9 64.2h0M418.9 55.9h0M408.9 50.8h0M409.4 58.8h0M423 61.9h0M417.1 56.7h0M417.3 56h0M423.7 60.9h0M423.7 61.5h0M421 62.2h0M425.7 61.9h0M424.6 61.4h0M412.5 52.4h0M412.1 51.6h0M421.3 66.3h0M404.1 54.2h0M422.7 60.2h0M428.3 61.4h0M427.6 60.5h0M424.1 56.6h0M417.2 48.8h0M417.7 49.9h0M405.3 53.1h0M423.1 61.8h0M414.3 65.1h0M413.3 65.6h0M418.9 58.7h0M413.2 56.6h0M414.4 56.9h0M409.7 66.9h0M410.4 67h0M419.7 69h0M407.4 58.7h0M414.8 54.8h0M415.6 55.6h0M418.6 67.8h0M410.8 64.7h0M426.6 54.9h0M422.3 65.3h0M416.6 69.5h0M416.4 68.4h0M413.7 69.6h0M415.2 69h0M436.6 58.8h0M436.5 59.5h0M436.2 60.1h0M437.3 61.7h0M437.2 62.5h0M435.5 61.5h0M439.4 58.8h0M438.1 61.4h0M437.5 59.8h0M435.5 55.6h0M439 53.6h0M439.2 52.2h0M436.3 61.1h0M436.3 55.5h0M435.5 61.9h0M436.5 62.2h0M439 58h0M438.8 59.1h0M439.1 54h0M438.2 53.5h0M438.8 55.4h0M438 57.3h0M437.3 57.2h0M437.2 60.1h0M440.4 57.9h0M438.1 57.2h0M439.4 60.6h0M438.5 59.9h0M433.5 60.9h0M434.9 60.6h0M438.4 58.7h0M440 59.2h0M436 60.1h0M436.4 60.7h0M425 74.9h0M426.7 73.5h0M427.1 72.9h0M427.4 74.9h0M429.7 73.3h0M429.2 74.2h0M426.5 72.9h0M426.8 71.7h0M425 74.2h0M425.9 74.6h0M427.1 73.6h0M427.2 74.4h0M427.3 75.4h0M429 74.7h0M428.1 75.6h0M424.8 73.8h0M424.5 73h0M425.4 73.2h0M425.5 72.7h0M428.1 75.4h0M424 77.2h0M424.9 77.7h0M420.3 77.5h0M423.7 77h0M424.5 76.6h0M421.6 79.8h0M424.7 77.4h0M420.9 77.6h0M420.8 78.3h0M423.1 78.2h0M422.8 79.1h0M422.7 78h0" stroke="#4c72b0" stroke-width="0.9" stroke-linecap="round" fill="none" stroke-opacity="0.5"/>
<path d="M442.5 53.2h0M442.4 52.6h0M472.9 67.7h0M473.6 66.9h0M469.8 72.5h0M469.2 73h0M476.5 66.2h0M475.6 65.9h0M470.9 73.3h0M474.9 64.9h0M469.5 69.6h0M475.9 65.6h0M476.7 65.5h0M476.8 64.2h0M477.2 65h0M476.3 63.7h0M476.2 62.6h0M478.4 66.7h0M465 73.6h0M465.7 73h0M472.9 67.9h0M472.6 67.1h0M474.7 68.2h0M474.4 68.5h0M473.7 69.4h0M475.1 66.8h0M474.6 65.9h0M469.6 70.5h0M469.2 71.4h0M475 65.1h0M466.6 73.6h0M467.7 72.6h0M471.1 68.8h0M472 68.3h0M474.9 67.8h0M476 68.5h0M474.3 65.8h0M475.5 66.1h0M477.3 65.5h0M478 64.9h0M472.3 70.6h0M477.1 65.6h0M476.8 65h0M474 64.3h0M474.6 65.7h0M474.7 66.1h0M477.1 63h0M474.8 66h0M475.4 65.2h0M474.5 64.3h0M475.2 64.7h0M467.3 57.8h0M467.1 58.3h0M464 53.2h0M458.5 50.7h0M458.8 49.7h0M460.9 57.8h0M464.9 58h0M459.5 49h0M465.7 50.8h0M464.4 50.2h0M454.3 56h0M465.7 51.8h0M465 51.9h0M465.2 50.1h0M464.5 49.4h0M460.5 53.6h0M461 54.1h0M463 59.6h0M469.6 53h0M460.3 51.4h0M460.7 50.5h0M460.3 55.3h0M459.8 56.5h0M459.5 55.4h0M460.1 56.2h0M456.7 54.6h0M460.6 53.4h0M463.5 57.5h0M463.9 56.5h0M469.4 55.7h0M460.3 60.5h0M459.2 60.3h0M461.7 60.2h0M461.3 59.6h0M468.2 53.7h0M469.2 53.4h0M457.5 56.9h0M459.6 52.5h0M465.5 58.3h0M464.1 51.1h0M464.3 51.9h0M468.7 55.6h0M457.9 59.2h0M470.2 54.6h0M470.1 55.5h0M466 60.5h0M466.6 60.5h0M460.1 49.4h0M461.1 49h0M470.6 54.2h0M471.1 53.4h0M462.4 48.8h0M459.4 55.7h0M459.3 54.8h0M455.2 60h0M465.1 61.9h0M459.5 55.7h0M460.6 56.8h0M464.8 55h0M465.3 55.9h0M465.3 48.9h0M459.3 59.6h0M460.5 59.3h0M453.9 66.7h0M446.8 66.5h0M445.6 65.8h0M448.7 67h0M449.6 66.3h0M456.8 69.5h0M456.2 70.1h0M452.8 65.5h0M453.8 65.6h0M455.1 66.8h0M454.4 68h0M455.4 67.7h0M455.6 68.7h0M451.7 66.2h0M452 66.8h0M454.9 66h0M453.5 65.8h0M446.8 65.3h0M453 65.7h0M453.5 66.2h0M449.1 64h0M450.2 64.8h0M452.4 68.4h0M447.6 64.9h0M446.6 64.6h0M454 67.3h0M455.1 67.7h0M477.4 76.6h0M470.8 51.4h0M472.7 54.2h0" stroke="#4c72b0" stroke-width="0.9" stroke-linecap="round" fill="none" stroke-opacity="0.5"/>
<path d="M430.2 74.6h0M431.2 74.4h0M433.3 75.8h0M434.1 75.2h0M435.4 76.2h0M436.6 75.9h0M430.2 74.8h0M434.3 76.8h0M431.6 75.8h0M430.9 75.9h0M427.7 76.4h0M433.6 75h0M436.6 78.5h0M436.4 79.3h0M432 77.7h0M437.2 79h0M427.8 76.4h0M425.8 78.2h0M424.7 79.2h0M429.2 83.7h0M430.1 84.4h0M427.7 81.7h0M460.3 76.6h0M462.7 76.3h0M462.2 77.3h0M463 77h0M462.7 76.5h0M466.9 75.3h0M465.7 75.1h0M467.9 75.8h0M467.1 75h0M467.9 80.1h0M463.2 79h0M470.2 81h0M466.4 81.2h0M466 81.7h0M471.1 81.5h0M462.7 78.9h0M467.7 80.4h0M444.3 72.5h0M444 72.9h0M444 71.5h0M446 67.1h0M444.8 65.9h0M445.4 67.3h0M443 69.4h0M442.3 68.8h0M446.9 68.6h0M441.2 69h0M445.1 71.8h0M446.2 71.5h0M447.1 71.9h0M443.5 69.2h0M446.9 71.2h0M442.5 69.5h0M443.3 69.1h0M447.8 72.6h0M441.5 70.1h0M452.5 73.4h0M446.7 73h0M447.5 73.6h0M453.8 73.2h0M450.2 67.9h0M449.1 68.3h0M443 67h0M443 66.1h0M442.6 67.5h0M447 68h0M451 71.9h0M450.6 70.6h0M442.9 65.2h0M443.6 66h0M451.4 70.4h0M447 74.5h0M443.2 89.4h0M442.4 89.5h0M450.2 89.4h0M450.7 88.9h0M443.9 89.7h0M443.6 90.8h0M447.8 90.2h0M447.4 89.7h0M450 89.4h0M446.9 90.4h0M449.5 84.8h0M449.7 83.9h0M451.5 83.6h0M454.2 89.6h0M453.6 89.1h0M449.1 90.2h0M454.1 89.6h0M451.9 85.9h0M447.8 83.4h0M446.2 88.5h0M445.8 89.4h0M454.4 90.6h0M447.5 90.8h0M447.3 92h0M455 89.6h0M458.5 87.1h0M452.1 89.7h0M446.9 87.6h0M455.3 82.9h0M452.1 88.1h0M451.2 89.6h0M455.5 86.7h0" stroke="#64b5cd" stroke-width="0.9" stroke-linecap="round" fill="none" stroke-opacity="0.5"/>
<path d="M497.1 59.9h0M497.7 60.9h0M508.5 54.9h0M508.7 55.7h0M495.2 63h0M494.1 60.7h0M493.3 60.4h0M494.7 59.8h0M509.2 54.2h0M509.7 58.2h0M510.5 59.2h0M500.8 53.3h0M513.8 58.6h0M501.3 56.8h0M502 56.5h0M509.1 57.3h0M510.3 57h0M495.6 60.7h0M495.9 61.2h0M508.8 54h0M490.8 60.3h0M489.5 59.9h0M509.3 57.2h0M493.2 62.4h0M502.8 55.3h0M510.4 57.4h0M509.3 57.7h0M502.3 54.3h0M502.1 54.9h0M508 58.3h0M511.4 57.1h0M511.6 57.6h0M512.2 57.7h0M503.4 52.6h0M503.6 51.9h0M505.5 54.3h0M512.8 56.6h0M513.2 56.2h0M493.6 57.8h0M496.4 61.5h0M505.7 55.1h0M504.9 55.6h0M511.1 58.9h0M513.1 57.2h0M513.7 57h0M497.1 57.4h0M508.6 54.7h0M503.9 57h0M504 57.5h0M510.7 56.6h0M506.3 54.4h0M506.7 55.8h0M497.5 54.2h0M502 53.5h0M501.9 56.4h0M503 56.3h0M496.7 61.7h0M497.4 58.6h0M510.8 57h0M503.8 54.7h0M506.8 55h0M514.4 59.1h0M491.6 58.9h0M499.8 53.2h0M500.8 53.3h0M504.1 57.5h0M503.7 56.7h0M494.1 63.6h0M494.4 63h0M511.3 57h0M511.6 56.1h0M492.6 62h0M497 60h0M498.2 57.5h0M497.5 56.9h0M493.7 59.5h0M510.9 54.1h0M506.9 57.2h0M507.3 56.5h0M504.7 56.3h0M495.9 55.9h0M494.9 56.5h0M510.6 58h0M509.5 58.5h0M496.8 59.5h0M503.6 52.7h0M503.1 57.4h0M504 56.9h0M495.2 56.2h0M494.6 57h0M510.7 60.9h0M512.7 57.4h0M513.1 56.5h0M498.2 53.4h0M502.6 55.2h0M503.6 55h0M499.8 56.4h0M500.5 57.1h0M498.7 54.8h0M498.9 53.8h0M499 57.7h0M514.4 59h0M516.7 56.5h0M514 54.7h0M514.5 55.8h0M514.8 57.1h0M515.5 57.4h0M515.8 55.9h0M516.9 56.1h0M512.3 57.1h0M512.9 58h0M515.5 56.7h0M514.7 58.7h0M517.7 57.9h0M516.5 57.8h0M513.3 59.3h0M513.7 58.3h0M512.9 56.9h0M512.1 55.7h0M515.9 56h0M513.2 63.5h0M512.8 62.9h0M513.6 62.9h0M514.1 62.7h0M514.1 61.7h0M515.2 58.7h0M515.5 58.2h0M515.7 57.7h0M516 60.2h0M516.8 59.8h0M513.4 61.4h0M513.5 60.7h0M516.6 57.8h0M516.2 57.3h0M512.4 65h0M511.9 63.5h0M512.4 64.5h0M511.6 64.5h0M498.4 70.1h0M501.7 69.5h0M502 70.4h0M497.8 72.4h0M498.5 72h0M504.9 71.6h0M497.2 70.2h0M502.6 69.8h0M500.5 69.1h0M498.5 72.6h0M498.5 70.8h0M498.2 69.8h0M500.8 73h0M499.9 73.1h0M497.3 69.6h0M497.7 68.7h0M503.2 68.2h0M503.2 67.3h0M499.6 74.6h0M499 75.3h0M500 66.6h0M498.6 69.2h0M498.8 68.2h0M504.3 70.6h0M498.4 68.9h0M499.1 68.2h0M500.9 73.1h0" stroke="#55a868" stroke-width="0.9" stroke-linecap="round" fill="none" stroke-opacity="0.5"/>
<path d="M449.3 105.5h0M464.1 113.3h0M464.5 112.5h0M447.5 110.7h0M456 108.1h0M455 118.4h0M454.3 107.6h0M454.8 108.4h0M460 116.9h0M459.3 117.5h0M448.8 115.1h0M451.1 105.6h0M445 112.1h0M451.4 114.4h0M449.8 113.9h0M449.1 114.7h0M446.2 113.8h0M445.1 113.7h0M462.3 111.3h0M461.7 110.9h0M453.8 107.1h0M456.1 105.9h0M455.2 106h0M453.7 109.2h0M453.5 108.4h0M448.4 104.6h0M459.3 113.8h0M465.2 113.3h0M445.2 107.4h0M446 107.9h0M455.3 107.5h0M463.2 109.9h0M447.4 113.8h0M446.9 112.3h0M446.1 112.7h0M454.1 118.3h0M455 117.9h0M454.4 107.9h0M448.4 115.5h0M447.4 114.9h0M454.4 105.7h0M454.1 106.7h0M451.9 118h0M456.3 118.3h0M455.7 104.9h0M456.7 104.1h0M451.5 118.8h0M451.1 117.8h0M455.8 107.4h0M456.4 106.6h0M459.2 115.8h0M460.1 116.2h0M462.8 113h0M463.2 111.8h0M457 111.7h0M461.5 107.6h0M458 111.7h0M458.5 112.3h0M448.2 112.1h0M449.4 111.6h0M447.8 107.9h0M462.3 113.3h0M462.6 112.5h0M456.9 113.1h0M457.8 113.7h0M449.3 109.6h0M449.7 108.7h0M457.5 116.6h0M460.1 116.3h0M446.9 117h0M449 108.7h0M449.7 108.8h0M442.2 111.7h0M442.8 110.5h0M463.5 114.4h0M454.8 107.5h0M460.2 108.3h0M459.5 107.1h0M456.8 107.7h0M461.2 113.3h0M460.7 114.2h0M457.7 107.8h0M457.3 108.4h0M442.8 106.8h0M442.6 106.2h0M464.2 113.7h0M464.2 112.9h0M458.1 117.5h0M459.7 117.5h0M447 107h0M446.4 107.5h0M460 108.9h0M459.2 108.9h0M460.3 117.5h0M451.5 105.3h0M452.1 104.9h0M449 109h0M448.3 109.8h0M456.7 108.9h0M455.9 109.6h0M447.1 116h0M459.5 109.6h0M459.5 108.2h0M442.3 110.4h0M457.5 118.7h0M457.1 117.9h0M452.7 106.2h0M453.1 106.9h0M451.9 104.5h0M445 106.1h0M456.6 117.1h0M444 110h0M449.4 107.2h0M449.7 106.2h0M458.9 109.8h0M459.1 108.7h0M446.4 111.4h0M458.4 109.1h0M455.5 105.5h0M455.3 106.4h0M443.1 114h0M443.8 115.1h0M460.4 117.1h0M448.3 110.7h0M447.2 110.4h0M441.5 110.8h0M446.6 112h0M453.2 106.3h0M453.8 105.8h0M457.1 118.9h0M456.9 119.5h0M442.3 111.2h0M443.3 111.1h0M443.2 108.3h0M446.8 107.5h0M445.6 108h0M443.5 107h0M450.9 99.7h0" stroke="#8172b2" stroke-width="0.9" stroke-linecap="round" fill="none" stroke-opacity="0.5"/>
<path d="M524.5 82.3h0M539.8 72.7h0M522.1 68.1h0M528.6 66.2h0M517.4 77.9h0M516.5 77.7h0M532.1 78.8h0M541.3 72.9h0M534.6 79.2h0M533.7 78.3h0M534.6 79.7h0M537 78.5h0M518 69.2h0M532.3 81.6h0M537.5 76.3h0M538.7 75.9h0M541 70.2h0M539.9 70h0M519.5 68.7h0M519.4 69.5h0M529.6 79.3h0M521.5 72.2h0M520.9 71.5h0M522.7 82.3h0M523.1 81.9h0M517.3 68.9h0M518.5 68.9h0M518.2 80.2h0M518.4 79.2h0M518.7 69.8h0M533.2 69.9h0M524.1 66.3h0M524.8 66.3h0M532.1 78.8h0M536 69.4h0M537.2 70h0M535.5 80h0M536.2 79.3h0M538.1 68.5h0M522.3 66.7h0M520.7 68h0M538.9 73.6h0M514 72h0M513.5 72.7h0M521 68.6h0M520.3 78.6h0M521.1 79.5h0M522.3 66h0M530.2 80.3h0M519.8 67.9h0M539 74.4h0M537.8 70.7h0M537.6 68.5h0M536.8 68.4h0M530.8 64.9h0M530.1 64.4h0M520.2 68.4h0M526.2 64.8h0M533.5 70.9h0M532.8 70.2h0M531.7 65.1h0M518.5 73.4h0M517.7 72.7h0M525.4 67.1h0M525.1 68.2h0M538.2 69.8h0M531.1 82.6h0M516.6 75.6h0M515.4 75.5h0M520.5 71.9h0M519.4 72h0M536.2 71h0M534.9 71.3h0M524.8 64.1h0M535.3 78.2h0M518.4 78.7h0M530.1 64.7h0M530.5 65.2h0M533.7 80.3h0M534.1 71.2h0M519.6 75.2h0M520.7 75.9h0M522.1 67.9h0M522.7 69.1h0M532.3 78.2h0M535.2 68.1h0M535.5 68.7h0M518.9 76.9h0M517.4 76.9h0M517.4 67.5h0M516.5 67.1h0M534.7 69.7h0M519.9 70.9h0M527.7 83.3h0M537.6 77.7h0M524.7 65.8h0M532 78.8h0M514.6 74.1h0M514.3 75.4h0M541.7 74.6h0M542 75.1h0M521.7 79.2h0M527 66.9h0M528.4 67h0M532.3 81.7h0M525.7 82.1h0M530.8 64.6h0M530.8 63.9h0M519 67.4h0M518.2 66.5h0M521.8 76.9h0M536.7 79.1h0M537 78.7h0M535 71.8h0M536.2 71.2h0M525.1 82.8h0M530.9 66.4h0M531.6 65.9h0M538 78.4h0M523.2 78.5h0M536 77.4h0M537 77.3h0M529.8 67.3h0M515.8 74.8h0M516.9 74.5h0M521.2 78.2h0M517.4 77.7h0M533 77.8h0M533.8 77.3h0M538.6 80.2h0M521.6 78.1h0M531.5 67h0M532 81.4h0M536.4 76.6h0M533.3 79.4h0M526.4 83.1h0M526.7 82.5h0M520.8 77.1h0M521.7 76.6h0M534.5 78h0M520.5 73.5h0M534.1 80.3h0M535 80.8h0M515.6 71.8h0M517.2 72.7h0M528.3 64.9h0M529.5 65.2h0M532 78.5h0M532.6 77.5h0M536.5 73.1h0M535.9 72.9h0M521.5 76.3h0M518.7 78.1h0M518 78.7h0M520.4 81.7h0M520.1 80.8h0M524.4 64.1h0M523.2 64.4h0M527.4 67.5h0M520.4 79.2h0M528.1 68.4h0M526.5 68h0M525.7 68.6h0M539.4 72.9h0M540.1 73.9h0M540.2 70.7h0M519.4 81.4h0M517.9 78.4h0M523.4 81.6h0M523.9 81.8h0" stroke="#c44e52" stroke-width="0.9" stroke-linecap="round" fill="none" stroke-opacity="0.5"/>
<path d="M482.7 80h0M484.7 83.4h0M498.2 99.5h0M502.9 91.1h0M482.6 90.4h0M481.7 91.2h0M497.7 94.5h0M496.1 88.2h0M495.6 89.1h0M506.2 96.4h0M506.7 93.1h0M489.4 88h0M488.6 87.5h0M492.4 96.2h0M502.3 93.7h0M503.7 87h0M488.3 96.5h0M487.2 95.3h0M490.2 85.1h0M491.3 85.5h0M495.7 97h0M495.7 95.9h0M490 98.9h0M489.2 98.9h0M489.5 92.6h0M489.6 91.9h0M500.9 90.1h0M499.9 90h0M503.5 86.6h0M487.9 91.9h0M486.8 94.2h0M499.4 95.4h0M500 94.7h0M502.9 94.6h0M505.1 88.1h0M504.3 88.7h0M490.3 95.8h0M494.2 95h0M493 96h0M502 95h0M495.2 84.6h0M495.9 84.2h0M504.3 85.7h0M497.6 97.1h0M497.1 96.7h0M496.5 86.6h0M504.8 86.1h0M504.5 86.4h0M490.8 99.3h0M491 100.1h0M502.3 86.2h0M502.6 87.2h0M487.7 97.7h0M488.4 97.9h0M483.7 88.1h0M492.7 83.9h0M494.1 83.7h0M493.2 99h0M493.8 98.4h0M483.4 91.7h0M482 91.7h0M495.3 96.4h0M496.5 95.8h0M497.6 96.9h0M498.7 97.5h0M495.7 86.8h0M495.8 87.5h0M502.5 94.2h0M502.3 93.3h0M488.8 95.2h0M486.4 95.9h0M504.5 94.1h0M505.7 93.5h0M505 95.1h0M505.8 95h0M506.3 88.5h0M507.1 88.3h0M495.9 98.8h0M501.6 85.6h0M500.3 85.8h0M488 97.1h0M487.1 97h0M501.5 98h0M501.2 98.9h0M507.1 90.5h0M507.4 91.6h0M496.1 99.1h0M490.5 88.1h0M489.9 87.7h0M501.4 97h0M508.5 95h0M507.4 94.3h0M501.1 97.5h0M501.6 96.9h0M499.2 96.4h0M483 90.7h0M483.2 89.9h0M506.4 88.3h0M489 87.9h0M489.5 87.1h0M502.6 97.5h0M501.8 97.9h0M485 92.7h0M484.4 93.6h0M499.9 95.6h0M497.4 85.8h0M503.3 90.3h0M507.9 88.2h0M500.1 86.7h0M504.8 95.5h0M487 92.8h0M496.5 96.4h0M496.1 95.2h0M510.2 92.6h0M486.7 94.1h0M487.3 94.8h0M507.4 93.2h0M506.5 93.9h0M504.2 89.4h0M502 92.9h0M501 93.3h0M506.1 87.5h0M507.2 87.8h0M488.7 94h0M490.1 91.2h0M486.2 85.6h0M485.2 86.4h0M508.1 95.9h0M495.5 97.8h0M494.5 97.4h0M490.2 97.9h0M488.6 97.3h0M488.7 86.3h0M487.6 86.4h0M498.4 85.8h0M490.1 90.7h0M496.5 87.1h0M510.2 92h0M509.4 91.5h0M502.7 85.1h0M491.8 94.1h0M497.8 99.7h0M483.8 87.3h0M484.4 87.1h0M508.2 91.3h0M508.6 89.9h0M508.1 89.2h0M500.7 87.2h0M501.7 86.4h0M494.9 88.7h0M495.7 88.2h0M509.2 91.4h0M484.5 92.5h0M508 90.9h0M510.1 91.3h0M510.2 92.2h0M501.2 98.8h0M489.6 90.7h0M498.1 86.1h0M499.3 86.3h0M491.5 89.7h0M490.4 89.2h0M480.2 90.1h0M501.5 92.6h0M501.1 91.6h0" stroke="#ccb974" stroke-width="0.9" stroke-linecap="round" fill="none" stroke-opacity="0.5"/>
<circle cx="420.4" cy="62" r="1.4" fill="#0c121c" stroke="#4c72b0" stroke-width="0.4" stroke-opacity="0.55"/>
<circle cx="462.4" cy="61" r="1.4" fill="#0c121c" stroke="#4c72b0" stroke-width="0.4" stroke-opacity="0.55"/>
<circle cx="448.4" cy="79" r="1.4" fill="#101c20" stroke="#64b5cd" stroke-width="0.4" stroke-opacity="0.55"/>
<circle cx="452.4" cy="112" r="1.4" fill="#14121c" stroke="#8172b2" stroke-width="0.4" stroke-opacity="0.55"/>
<circle cx="501.2" cy="61" r="1.4" fill="#0d1a10" stroke="#55a868" stroke-width="0.4" stroke-opacity="0.55"/>
<circle cx="526.2" cy="74" r="1.4" fill="#1f0c0d" stroke="#c44e52" stroke-width="0.4" stroke-opacity="0.55"/>
<circle cx="494.4" cy="92" r="1.4" fill="#201d12" stroke="#ccb974" stroke-width="0.4" stroke-opacity="0.55"/>
</g>
<g>
<g stroke="#f6f7fb" stroke-width="0.5">
<line x1="20.2" y1="163" x2="20.2" y2="237"/>
<line x1="39.2" y1="163" x2="39.2" y2="237"/>
<line x1="77.2" y1="163" x2="77.2" y2="237"/>
<line x1="96.2" y1="163" x2="96.2" y2="237"/>
<line x1="115.2" y1="163" x2="115.2" y2="237"/>
<line x1="13.5" y1="173.7" x2="130.5" y2="173.7"/>
<line x1="13.5" y1="187" x2="130.5" y2="187"/>
<line x1="13.5" y1="200.3" x2="130.5" y2="200.3"/>
<line x1="13.5" y1="226.9" x2="130.5" y2="226.9"/>
</g>
<g stroke="#ebeff7" stroke-width="0.6">
<line x1="58.2" y1="163" x2="58.2" y2="237"/>
<line x1="13.5" y1="213.6" x2="130.5" y2="213.6"/>
</g>
<g font-family="'Liberation Sans', sans-serif" font-size="3.3" fill="#b0b9ca">
<text x="20.2" y="239.8" text-anchor="middle">−10</text>
<text x="39.2" y="239.8" text-anchor="middle">−5</text>
<text x="58.2" y="239.8" text-anchor="middle">0</text>
<text x="77.2" y="239.8" text-anchor="middle">5</text>
<text x="96.2" y="239.8" text-anchor="middle">10</text>
<text x="115.2" y="239.8" text-anchor="middle">15</text>
<text x="10.8" y="174.9" text-anchor="end">15</text>
<text x="10.8" y="188.2" text-anchor="end">10</text>
<text x="10.8" y="201.5" text-anchor="end">5</text>
<text x="10.8" y="214.8" text-anchor="end">0</text>
<text x="10.8" y="228.1" text-anchor="end">−5</text>
</g>
<path d="M23.9 196.5h0M23.7 196.7h0M23.1 197.1h0M22.9 197.1h0M22.3 197.6h0M22.2 197.8h0M21.8 197.7h0M21.6 198h0M21.3 198h0M20.5 198.3h0M20.3 198.3h0M20 198.4h0M19.6 198.4h0M19.2 198.2h0M18.3 198.3h0M19.2 197.8h0M18.8 197.7h0M19 197.4h0M19.4 197.4h0M19.6 196.8h0M19.4 196.8h0M18.9 196.9h0M18.6 196.6h0M18.5 196.4h0M18.6 195.9h0M18.4 195.6h0M18.9 195.3h0M19.3 195.2h0M19.8 195.1h0M20.1 194.9h0M20.3 194.5h0M21.1 194.6h0M21.2 194.5h0M21.6 193.8h0M22.2 193.5h0M22.5 194h0M22.7 194.4h0M23 194.5h0M23.1 194.7h0M23.3 195.2h0M23.4 195.1h0M23.6 195h0M23.8 195.1h0M24.4 195.1h0M24.7 195.1h0M24.8 195.1h0M24.7 195.2h0M24.5 195.9h0M24.1 196.1h0M24.2 196.4h0M21.3 197h0M21 197.2h0M20.1 197h0M20 196.7h0M19.9 196.9h0M20.4 197h0M20.3 196.6h0M20.4 196.2h0M20.3 196.7h0M20.5 196.1h0M20.7 196.2h0M20.7 196.3h0M20.9 195.6h0M21.5 195.7h0M21.4 195.6h0M21.7 195.6h0M22.1 195.1h0M22.7 195.2h0M22.6 195.4h0M22.7 195.3h0M22.5 195.5h0M22.8 195.7h0M23.1 195.9h0M23.1 195.9h0M22.8 195.8h0M22.9 196.1h0M22.9 195.7h0M22.5 196.2h0M22.5 196.2h0M22.3 196.5h0M22.1 196.7h0M22 196.8h0M21.7 196.6h0M21.3 196.7h0M21 196.8h0M23.4 194h0M19.7 194.5h0M22.6 193.8h0M20.1 194.7h0M22.4 193.9h0M23.1 193.1h0M19.9 193.9h0M20.4 194.4h0M22.6 194h0M20.3 194.2h0" stroke="#e3d38f" stroke-width="1.7" stroke-linecap="round" fill="none"/>
<path d="M120.2 195.3h0M120.2 195.3h0M120.5 195.4h0M120.7 195.5h0M120.6 195.7h0M121.1 196h0M121.1 196.1h0M121.4 196.1h0M121.2 195.9h0M121.4 195.7h0M122.1 196h0M122.3 196h0M122.7 196.3h0M123 196.5h0M123.4 196h0M123.2 196.3h0M123.4 196.6h0M123.4 196.7h0M122.8 197h0M122.8 197.4h0M122.6 197.5h0M122.5 197.6h0M122 197.7h0M121.9 198h0M122.2 198.3h0M121.8 198.5h0M121.7 198.8h0M121.4 199.1h0M121.5 199.1h0M121.3 199.1h0M121.1 199.5h0M121 199.8h0M120.7 199.9h0M120 200.2h0M119.5 199.9h0M119.4 199.8h0M119.1 200.1h0M118.7 199.7h0M118.6 200.3h0M118.3 199.6h0M118.3 199.7h0M117.9 199.3h0M117.7 199.2h0M117.3 199.1h0M117.4 199.2h0M117.5 199h0M117 199.4h0M116.6 199.3h0M116.4 198.9h0M116.5 198.9h0M116.1 198.9h0M116.4 198.7h0M116 198.4h0M115.9 198.4h0M115.9 198.3h0M115.9 197.7h0M115.9 197.9h0M115.8 197.5h0M116.2 197.3h0M116 197.1h0M116.2 196.9h0M116.3 196.5h0M116.2 196.6h0M116.7 196.3h0M117.1 196.2h0M117.3 196h0M117.1 196.1h0M117.9 195.6h0M117.9 195.3h0M118.2 195.2h0M118.3 195.4h0M119 195.1h0M119.1 195h0M119.8 195.1h0M119.7 195.1h0" stroke="#3557ee" stroke-width="1.7" stroke-linecap="round" fill="none"/>
<path d="M59.3 209h0M59.3 209.4h0M59.4 209.4h0M59.3 209.6h0M59.2 210h0M59.1 210.1h0M58.8 210.7h0M59.4 210.9h0M59.2 211.2h0M59.3 211.4h0M58.9 211.3h0M58.9 211.7h0M58.9 211.8h0M59 212.2h0M58.2 212h0M58.2 212h0M57.9 212.2h0M57.5 212.2h0M57.3 212.1h0M56.8 212.2h0M56.8 212.4h0M56.2 212.4h0M55.8 212.1h0M55.6 212.1h0M55.3 212h0M55.2 211.9h0M55.1 211.6h0M54.5 211.5h0M54.5 211.1h0M54.8 211.3h0M54.4 211h0M53.7 210.8h0M53.8 210.8h0M53.2 210.9h0M52.6 210.5h0M52.9 210.2h0M52.9 209.9h0M53.3 209.3h0M53 209.4h0M53.2 209.4h0M53.3 208.8h0M53.9 208.8h0M53.5 208.7h0M53.2 208.7h0M53.7 208.1h0M54.2 208h0M54.3 207.9h0M54.5 207.8h0M54.9 207.8h0M55.9 207.8h0M56 208.5h0M56.3 208.9h0M56.9 208.7h0M56.5 209.2h0M56.8 208.4h0M56.9 209h0M57.5 208.9h0M57.9 208.6h0M58.6 208.7h0M58.9 208.7h0M54.6 207.4h0M55.4 208.1h0M56.6 208h0M56.7 207.9h0M56.4 208.1h0M56.1 207.7h0M55.1 207.5h0M55.3 207.6h0" stroke="#9bedae" stroke-width="1.7" stroke-linecap="round" fill="none"/>
<path d="M55.9 230h0M56 229.7h0M55.6 229.5h0M55.6 229.2h0M55.4 229.1h0M55.5 228.7h0M55.3 228.6h0M55.6 228.6h0M55.8 228.4h0M55.9 228.2h0M55.8 227.7h0M56 227.7h0M56.2 227.5h0M56.5 227.4h0M56.2 227.1h0M56.6 227.2h0M56.5 227.4h0M57 227.1h0M57.2 227.4h0M57.6 227.5h0M58.2 227.7h0M58 228.2h0M58.2 228h0M58.5 228.3h0M58.6 228.4h0M58.8 228.4h0M59.4 228.6h0M59.6 228.5h0M59.5 228.8h0M60.1 228.6h0M60.3 229.1h0M60.4 229h0M60.6 229.2h0M60.7 229.7h0M61 229.6h0M61.1 230.2h0M60.8 230.4h0M61 230.5h0M61.2 230.7h0M60.9 231.1h0M61 230.8h0M60.7 231.3h0M61.2 231.4h0M59.9 231.2h0M60.1 231.5h0M60.2 231.5h0M59.8 231.6h0M59.7 231.8h0M59.3 231.7h0M59.4 231.5h0M59.5 231.9h0M58.9 231.9h0M58.9 231.8h0M58.6 231.8h0M58.2 232h0M58.2 232.1h0M57.5 231.7h0M57.3 231.5h0M57.4 231.2h0M57.2 231.2h0M56.9 230.8h0M56.9 230.8h0M56.5 230.6h0M56.4 230.2h0M56.1 229.9h0" stroke="#36df8d" stroke-width="1.7" stroke-linecap="round" fill="none"/>
<path d="M87.4 214.2h0M87.2 214.4h0M86.9 214.5h0M86.4 214.1h0M86.3 214h0M86.1 213.9h0M86.1 213.6h0M85.7 213.2h0M85.6 213.2h0M85.5 212.7h0M85.2 213h0M84.9 212.4h0M84.8 213h0M84.4 213.1h0M83.9 213h0M83.4 212.7h0M82.6 212.4h0M82.7 212.7h0M82.5 212.2h0M82.5 212h0M82.4 211.7h0M82.4 211.3h0M82.8 211.6h0M83.2 211h0M83.2 210.9h0M83.4 210.8h0M83.7 210.3h0M84.1 210.4h0M83.9 210.7h0M84.2 210.1h0M84.5 210.3h0M84.4 210.1h0M84.9 210.3h0M85.8 210.1h0M85.6 210.2h0M86.3 210h0M86.1 210.2h0M86.2 209.8h0M86.6 209.8h0M87.1 209.6h0M87 209.3h0M87.5 209.7h0M88 209.7h0M87.8 209.8h0M88.2 210.1h0M88.4 209.9h0M88.5 210.3h0M88.8 210.8h0M89.2 210.2h0M89.2 210.8h0M89.6 210.8h0M89.8 210.5h0M89.8 211.1h0M90.3 211.2h0M90.8 211h0M90.4 211.7h0M90.7 211.8h0M90.9 212.1h0M90.4 212.4h0M89.7 212.8h0M89.7 212.5h0M89.4 212.5h0M88.7 212.5h0M88.5 212.7h0M88.4 212.8h0M88.3 213.2h0M88.3 213.4h0M88.2 213.4h0M87.7 213.9h0M87.6 214.1h0M83.8 209.6h0M82 209.2h0M84.6 209.6h0M83.7 209.8h0M83 209.6h0M81.9 209.5h0M84.6 210h0M83.9 209.4h0M83.3 209.4h0M84.8 210.4h0M85.5 213.2h0M84.5 214.5h0M83.9 214.6h0M84.6 214.3h0M84.4 214.6h0M84 214.8h0" stroke="#c13be3" stroke-width="1.7" stroke-linecap="round" fill="none"/>
<path d="M56.4 201.4h0M56.6 201.8h0M56.7 202.5h0M56.5 202.5h0M57 203.4h0M56.7 203.3h0M56.6 204.1h0M56 203.9h0M55.9 204h0M55.1 203.7h0M54.9 203.5h0M54.6 202.9h0M54.1 202.6h0M54.5 202.2h0M54.3 202.1h0M54.3 202h0M53.6 202.4h0M53.3 202.3h0M52.8 202.5h0M52.2 202.3h0M52 202.2h0M51.7 202h0M51.3 201.9h0M51.7 201.8h0M51.7 201.3h0M52.2 201.3h0M52.2 201.1h0M52.1 201.1h0M52.1 200.9h0M51.9 200.2h0M51.9 200.2h0M51.7 199.3h0M51.7 199.7h0M52.1 199.5h0M52.8 199.5h0M53.1 199.7h0M53.8 199.8h0M53.8 199.8h0M54.6 200.2h0M54.3 200.4h0M54.8 200.5h0M55 200.4h0M55 199.8h0M55.4 200.1h0M55.6 199.8h0M56.1 199.3h0M56.8 199.3h0M57.2 199.3h0M57.6 199.8h0M57.6 199.9h0M58.2 200.2h0M57.8 200.5h0M58 200.5h0M58 200.6h0M57.7 200.9h0M57.6 201.4h0M57.1 201.6h0M56.9 201.8h0M56.3 201.7h0M56.3 201.8h0M55.5 199.3h0M58.5 198.7h0M51.6 199.9h0M54.1 199.9h0M54.1 199.8h0M57.3 198.7h0M53.7 200.5h0M56.1 199.3h0M58.6 198.6h0M51.5 199.9h0M53.3 199.6h0M52.4 199.6h0M52.1 199.5h0M53.8 199.8h0M51.7 200.4h0M53.3 199.9h0M54.8 199.3h0M55 198.4h0M58.6 202.6h0M58.1 201.9h0M58.2 202.8h0M56.4 199.4h0M58.3 200.8h0M57.8 201.3h0M58.3 203.4h0M57.2 200.4h0M57.6 201.8h0M57.1 199h0M57.2 199.5h0M58.1 202.7h0" stroke="#5023e6" stroke-width="1.7" stroke-linecap="round" fill="none"/>
<path d="M62.9 169.3h0M63 169.1h0M63.3 169h0M63.5 168.7h0M63.7 168.6h0M64.1 168.8h0M64.3 169h0M65 168.6h0M65 168.8h0M65.2 168.4h0M65.1 168.7h0M65.5 169h0M65.8 169.2h0M66.1 168.9h0M66 169h0M66.8 169h0M66.7 169.2h0M66.8 169.2h0M67.3 169.2h0M67.4 168.7h0M67.5 169.5h0M67.5 169.2h0M67.6 169.8h0M67.7 170h0M66.9 170.1h0M67 170.7h0M67 170.4h0M66.8 170.7h0M66.9 170.9h0M66.7 171.2h0M66.6 171.1h0M66.7 171h0M66.3 171.9h0M66.3 171.6h0M65.9 171.8h0M65.8 172h0M65.3 172.2h0M65.2 172.3h0M65.2 172.2h0M64.7 172.6h0M64.6 172.6h0M64.7 172.9h0M63.9 172.4h0M63.9 172.8h0M63.4 172.9h0M63.3 172.8h0M63.1 173.1h0M62.7 173.2h0M62.3 172.7h0M62.3 172.6h0M61.9 172.7h0M62.1 172.4h0M62.1 172.1h0M62.1 172.1h0M61.8 171.8h0M61.8 172h0M61.6 171.5h0M61.8 171.4h0M61.4 171.3h0M61.6 171.3h0M61.9 171.1h0M61.8 170.8h0M61.5 170.7h0M61.6 170.7h0M62.2 170.4h0M62.1 170.1h0M62.6 170.1h0M62.2 170.1h0M62.6 169.7h0M62.7 169.5h0M43.4 203.7h0M42.8 204.5h0M44.2 202.7h0M44.3 203.1h0M44.1 203.3h0M43.5 203.9h0M43 203.8h0M44.1 203.2h0M43.8 203.9h0M43.7 203.2h0M43.7 203h0M43.7 203.3h0M43 204.4h0M43.2 203.8h0M43.9 203.5h0M42.8 203.9h0" stroke="#e4212f" stroke-width="1.7" stroke-linecap="round" fill="none"/>
<g font-family="'Liberation Sans', sans-serif" font-size="3.0" fill="#a7b0c3">
<circle cx="137" cy="167" r="0.8" fill="#e3d38f"/>
<text x="141.5" y="168.3">UAV1</text>
<circle cx="137" cy="171.3" r="0.8" fill="#3557ee"/>
<text x="141.5" y="172.6">UAV2</text>
<circle cx="137" cy="175.7" r="0.8" fill="#9bedae"/>
<text x="141.5" y="177">UAV3</text>
<circle cx="137" cy="180" r="0.8" fill="#36df8d"/>
<text x="141.5" y="181.3">UAV4</text>
<circle cx="137" cy="184.4" r="0.8" fill="#c13be3"/>
<text x="141.5" y="185.7">UAV5</text>
<circle cx="137" cy="188.7" r="0.8" fill="#5023e6"/>
<text x="141.5" y="190">UAV6</text>
<circle cx="137" cy="193" r="0.8" fill="#e4212f"/>
<text x="141.5" y="194.3">UAV7</text>
</g>
</g>
<g>
<rect x="195.4" y="163.9" width="153.4" height="79.5" fill="#eaeaf2"/>
<g stroke="#fff" stroke-width="0.5" stroke-opacity="0.36">
<line x1="205.6" y1="163.9" x2="205.6" y2="243.4"/>
<line x1="230.8" y1="163.9" x2="230.8" y2="243.4"/>
<line x1="256" y1="163.9" x2="256" y2="243.4"/>
<line x1="281.2" y1="163.9" x2="281.2" y2="243.4"/>
<line x1="306.4" y1="163.9" x2="306.4" y2="243.4"/>
<line x1="331.6" y1="163.9" x2="331.6" y2="243.4"/>
<line x1="195.4" y1="173.6" x2="348.8" y2="173.6"/>
<line x1="195.4" y1="188.6" x2="348.8" y2="188.6"/>
<line x1="195.4" y1="203.6" x2="348.8" y2="203.6"/>
<line x1="195.4" y1="218.6" x2="348.8" y2="218.6"/>
<line x1="195.4" y1="233.6" x2="348.8" y2="233.6"/>
</g>
<text x="242.1" y="160.8" textLength="56.9" lengthAdjust="spacingAndGlyphs" font-family="'Liberation Serif', serif" font-size="8" fill="#222">PCA + UMAP: 8</text>
<g font-family="'Liberation Sans', sans-serif" font-size="2.4" font-weight="bold" fill="#111">
<text x="205.6" y="246.8" text-anchor="middle">-10</text>
<text x="230.8" y="246.8" text-anchor="middle">-5</text>
<text x="256" y="246.8" text-anchor="middle">0</text>
<text x="281.2" y="246.8" text-anchor="middle">5</text>
<text x="306.4" y="246.8" text-anchor="middle">10</text>
<text x="331.6" y="246.8" text-anchor="middle">15</text>
<text x="194.2" y="174.7" text-anchor="end">15</text>
<text x="194.2" y="189.7" text-anchor="end">10</text>
<text x="194.2" y="204.7" text-anchor="end">5</text>
<text x="194.2" y="219.7" text-anchor="end">0</text>
<text x="194.2" y="234.7" text-anchor="end">-5</text>
</g>
<path d="M262.3 168.7h0M262.3 168.5h0M262.8 168.3h0M263 167.9h0M263.3 167.8h0M263.8 168.1h0M264.2 168.3h0M265 167.8h0M265 168h0M265.3 167.7h0M265.1 167.9h0M265.7 168.3h0M266.1 168.5h0M266.4 168.2h0M266.4 168.3h0M267.5 168.2h0M267.3 168.5h0M267.4 168.5h0M268 168.5h0M268.2 168h0M268.4 168.8h0M268.4 168.6h0M268.5 169.2h0M268.5 169.4h0M267.6 169.5h0M267.7 170.2h0M267.7 169.9h0M267.5 170.2h0M267.6 170.5h0M267.3 170.8h0M267.1 170.6h0M267.3 170.5h0M266.8 171.5h0M266.7 171.2h0M266.2 171.5h0M266.1 171.6h0M265.4 171.9h0M265.3 172h0M265.2 171.9h0M264.6 172.3h0M264.5 172.4h0M264.6 172.7h0M263.6 172.2h0M263.5 172.6h0M262.9 172.7h0M262.7 172.6h0M262.5 172.9h0M262 173h0M261.5 172.5h0M261.4 172.4h0M260.9 172.5h0M261.2 172.1h0M261.1 171.8h0M261.2 171.8h0M260.7 171.5h0M260.8 171.6h0M260.4 171.1h0M260.8 171h0M260.3 170.9h0M260.5 170.9h0M260.9 170.7h0M260.7 170.3h0M260.4 170.3h0M260.5 170.2h0M261.3 169.9h0M261.2 169.5h0M261.9 169.6h0M261.3 169.6h0M261.9 169.1h0M261.9 168.9h0" stroke="#4c72b0" stroke-width="0.92" stroke-linecap="round" fill="none" stroke-opacity="0.85"/>
<path d="M338.3 197.9h0M338.3 198h0M338.6 198.1h0M338.9 198.2h0M338.7 198.4h0M339.4 198.7h0M339.4 198.9h0M339.8 198.9h0M339.6 198.6h0M339.8 198.4h0M340.8 198.7h0M341.1 198.8h0M341.5 199.1h0M341.9 199.3h0M342.4 198.8h0M342.3 199.1h0M342.5 199.5h0M342.5 199.6h0M341.7 199.9h0M341.7 200.3h0M341.4 200.5h0M341.3 200.6h0M340.6 200.7h0M340.5 201h0M340.8 201.3h0M340.3 201.6h0M340.2 201.9h0M339.9 202.2h0M340 202.3h0M339.6 202.3h0M339.5 202.7h0M339.3 203h0M338.9 203.1h0M337.9 203.4h0M337.4 203.2h0M337.2 203.1h0M336.8 203.4h0M336.3 202.9h0M336.1 203.6h0M335.8 202.8h0M335.7 202.9h0M335.2 202.5h0M335 202.4h0M334.4 202.2h0M334.6 202.3h0M334.6 202.2h0M334 202.6h0M333.4 202.5h0M333.2 202h0M333.3 202h0M332.8 202h0M333.2 201.8h0M332.7 201.5h0M332.6 201.5h0M332.5 201.3h0M332.6 200.7h0M332.6 200.9h0M332.4 200.4h0M333 200.2h0M332.7 200h0M332.9 199.8h0M333 199.4h0M333 199.4h0M333.5 199.1h0M334.1 198.9h0M334.4 198.8h0M334.1 198.8h0M335.2 198.3h0M335.2 198h0M335.6 197.9h0M335.7 198.1h0M336.6 197.7h0M336.8 197.7h0M337.7 197.7h0M337.6 197.8h0" stroke="#4c72b0" stroke-width="0.92" stroke-linecap="round" fill="none" stroke-opacity="0.85"/>
<path d="M253.7 204.8h0M253.9 205.3h0M254 206.1h0M253.8 206.1h0M254.4 207.1h0M254 207h0M253.9 207.9h0M253.1 207.6h0M253 207.8h0M251.8 207.5h0M251.6 207.3h0M251.2 206.5h0M250.6 206.2h0M251 205.8h0M250.8 205.6h0M250.8 205.5h0M249.9 205.9h0M249.5 205.9h0M248.9 206h0M248 205.9h0M247.7 205.8h0M247.4 205.6h0M246.8 205.5h0M247.4 205.3h0M247.4 204.7h0M248 204.7h0M248.1 204.5h0M247.9 204.5h0M247.9 204.3h0M247.6 203.5h0M247.6 203.5h0M247.4 202.5h0M247.4 202.9h0M247.9 202.7h0M248.9 202.7h0M249.2 202.9h0M250.2 203h0M250.2 203.1h0M251.2 203.5h0M250.9 203.7h0M251.5 203.9h0M251.8 203.7h0M251.8 203h0M252.3 203.4h0M252.6 203.1h0M253.2 202.4h0M254.2 202.5h0M254.7 202.5h0M255.3 203h0M255.3 203.2h0M255.9 203.5h0M255.4 203.8h0M255.7 203.8h0M255.7 204h0M255.3 204.3h0M255.2 204.9h0M254.6 205.1h0M254.2 205.3h0M253.5 205.2h0M253.5 205.2h0M252.4 202.5h0M256.3 201.8h0M247.2 203.2h0M250.6 203.1h0M250.5 203h0M254.9 201.8h0M250.1 203.8h0M253.2 202.5h0M256.5 201.7h0M247.1 203.2h0M249.6 202.8h0M248.3 202.8h0M247.9 202.7h0M250.1 203.1h0M247.4 203.7h0M249.5 203.2h0M251.5 202.5h0M251.7 201.5h0M256.5 206.2h0M255.8 205.4h0M256.1 206.4h0M253.6 202.6h0M256.1 204.1h0M255.5 204.7h0M256.1 207.1h0M254.7 203.8h0M255.2 205.3h0M254.5 202.1h0M254.6 202.7h0M255.9 206.3h0" stroke="#64b5cd" stroke-width="0.92" stroke-linecap="round" fill="none" stroke-opacity="0.85"/>
<path d="M236.3 207.4h0M235.6 208.3h0M237.4 206.3h0M237.6 206.8h0M237.2 207h0M236.5 207.6h0M235.9 207.6h0M237.3 206.8h0M236.8 207.6h0M236.8 206.8h0M236.8 206.7h0M236.8 207h0M235.8 208.2h0M236.1 207.6h0M237 207.2h0M235.6 207.7h0" stroke="#55a868" stroke-width="0.92" stroke-linecap="round" fill="none" stroke-opacity="0.85"/>
<path d="M294.8 219.3h0M294.5 219.5h0M294 219.7h0M293.4 219.2h0M293.2 219h0M293 218.9h0M293 218.6h0M292.5 218.1h0M292.3 218.2h0M292.2 217.6h0M291.7 217.9h0M291.4 217.2h0M291.3 217.9h0M290.8 218.1h0M290.1 217.9h0M289.4 217.6h0M288.3 217.2h0M288.5 217.6h0M288.2 217h0M288.3 216.8h0M288.2 216.5h0M288 216.1h0M288.6 216.3h0M289.2 215.7h0M289.2 215.5h0M289.4 215.4h0M289.9 214.9h0M290.4 214.9h0M290.1 215.3h0M290.4 214.7h0M290.9 214.9h0M290.8 214.6h0M291.4 214.9h0M292.7 214.7h0M292.3 214.7h0M293.3 214.5h0M293 214.7h0M293.1 214.3h0M293.7 214.3h0M294.4 214.1h0M294.2 213.8h0M294.8 214.2h0M295.5 214.2h0M295.3 214.3h0M295.7 214.6h0M296.1 214.5h0M296.2 214.9h0M296.6 215.4h0M297.1 214.8h0M297.1 215.4h0M297.6 215.4h0M297.9 215.1h0M297.9 215.8h0M298.5 215.8h0M299.2 215.7h0M298.8 216.5h0M299.1 216.6h0M299.3 216.9h0M298.7 217.2h0M297.8 217.7h0M297.7 217.4h0M297.4 217.4h0M296.5 217.4h0M296.2 217.6h0M296.1 217.7h0M296 218.1h0M295.9 218.3h0M295.7 218.4h0M295.1 218.9h0M295 219.2h0M289.9 214.1h0M287.5 213.6h0M291.1 214.1h0M289.9 214.3h0M288.9 214.1h0M287.5 214h0M291 214.5h0M290 213.8h0M289.3 213.9h0M291.3 214.9h0M292.2 218.1h0M290.9 219.6h0M290.1 219.7h0M291 219.4h0M290.7 219.7h0M290.2 220h0" stroke="#55a868" stroke-width="0.92" stroke-linecap="round" fill="none" stroke-opacity="0.85"/>
<path d="M210.5 199.3h0M210.2 199.6h0M209.4 199.9h0M209.2 200h0M208.4 200.5h0M208.3 200.8h0M207.7 200.7h0M207.4 201h0M207.1 201h0M205.9 201.3h0M205.8 201.4h0M205.3 201.4h0M204.8 201.5h0M204.3 201.2h0M203.1 201.4h0M204.3 200.8h0M203.8 200.7h0M204 200.4h0M204.6 200.3h0M204.7 199.7h0M204.5 199.6h0M203.8 199.7h0M203.5 199.5h0M203.4 199.2h0M203.5 198.7h0M203.2 198.3h0M203.9 197.9h0M204.3 197.8h0M205 197.8h0M205.5 197.5h0M205.7 197h0M206.8 197.2h0M206.9 197h0M207.5 196.3h0M208.2 195.9h0M208.7 196.5h0M209 196.9h0M209.3 197.1h0M209.4 197.2h0M209.7 197.8h0M209.8 197.7h0M210.1 197.6h0M210.4 197.7h0M211.2 197.8h0M211.5 197.7h0M211.8 197.8h0M211.5 197.9h0M211.4 198.6h0M210.7 198.8h0M211 199.3h0M207 199.8h0M206.6 200.1h0M205.4 199.9h0M205.4 199.5h0M205.2 199.8h0M205.8 199.9h0M205.8 199.4h0M205.9 199h0M205.7 199.5h0M206.1 198.9h0M206.2 198.9h0M206.2 199.1h0M206.5 198.3h0M207.3 198.5h0M207.2 198.3h0M207.6 198.3h0M208.1 197.8h0M208.9 197.9h0M208.8 198h0M209 198h0M208.7 198.1h0M209.1 198.5h0M209.5 198.6h0M209.5 198.6h0M209.1 198.5h0M209.2 198.8h0M209.2 198.4h0M208.7 199h0M208.6 199h0M208.4 199.3h0M208.1 199.5h0M208 199.7h0M207.6 199.5h0M207.1 199.6h0M206.7 199.6h0M209.8 196.5h0M204.9 197h0M208.7 196.2h0M205.4 197.2h0M208.5 196.4h0M209.5 195.5h0M205.2 196.4h0M205.9 196.9h0M208.8 196.5h0M205.7 196.8h0" stroke="#8172b2" stroke-width="0.92" stroke-linecap="round" fill="none" stroke-opacity="0.85"/>
<path d="M257.4 213.5h0M257.5 213.8h0M257.6 213.8h0M257.5 214.1h0M257.4 214.6h0M257.3 214.6h0M256.8 215.4h0M257.6 215.6h0M257.4 215.9h0M257.5 216.1h0M256.9 216h0M257 216.4h0M256.9 216.5h0M257.1 217h0M256 216.8h0M255.9 216.8h0M255.6 217h0M255 217h0M254.8 216.9h0M254.1 217h0M254.2 217.2h0M253.3 217.3h0M252.9 216.9h0M252.5 216.9h0M252.1 216.8h0M252 216.7h0M251.9 216.4h0M251.1 216.2h0M251.1 215.8h0M251.4 216h0M250.9 215.7h0M250 215.5h0M250.2 215.5h0M249.4 215.5h0M248.5 215.1h0M249 214.7h0M249 214.4h0M249.4 213.8h0M249.2 213.8h0M249.3 213.9h0M249.5 213.2h0M250.2 213.1h0M249.8 213h0M249.4 213h0M250.1 212.4h0M250.6 212.2h0M250.8 212.1h0M251.1 212.1h0M251.7 212h0M253 212h0M253 212.8h0M253.5 213.3h0M254.2 213.1h0M253.7 213.6h0M254.1 212.8h0M254.3 213.4h0M255.1 213.3h0M255.6 213h0M256.5 213.1h0M256.9 213.1h0M251.3 211.6h0M252.3 212.4h0M253.9 212.3h0M254 212.2h0M253.7 212.4h0M253.2 212h0M251.8 211.8h0M252.2 211.8h0" stroke="#c44e52" stroke-width="0.92" stroke-linecap="round" fill="none" stroke-opacity="0.85"/>
<path d="M253 237.1h0M253.1 236.8h0M252.5 236.6h0M252.5 236.2h0M252.3 236.1h0M252.4 235.6h0M252.2 235.6h0M252.6 235.5h0M252.8 235.3h0M252.9 235.1h0M252.9 234.5h0M253.1 234.5h0M253.4 234.3h0M253.7 234.2h0M253.4 233.9h0M253.8 233.9h0M253.8 234.2h0M254.4 233.9h0M254.6 234.2h0M255.2 234.3h0M256.1 234.5h0M255.8 235h0M256 234.8h0M256.4 235.2h0M256.6 235.2h0M256.8 235.3h0M257.5 235.6h0M257.8 235.5h0M257.8 235.7h0M258.5 235.6h0M258.8 236h0M259 236h0M259.1 236.2h0M259.3 236.7h0M259.7 236.6h0M259.8 237.3h0M259.5 237.5h0M259.7 237.7h0M260 237.9h0M259.5 238.4h0M259.7 238h0M259.3 238.5h0M260 238.7h0M258.3 238.5h0M258.5 238.7h0M258.6 238.7h0M258.1 238.8h0M258 239.1h0M257.5 239h0M257.7 238.8h0M257.7 239.2h0M257 239.2h0M256.9 239.2h0M256.6 239.1h0M255.9 239.3h0M256 239.5h0M255.1 239.1h0M254.8 238.8h0M255 238.4h0M254.7 238.4h0M254.2 238h0M254.3 238h0M253.8 237.8h0M253.6 237.3h0M253.2 237h0" stroke="#ccb974" stroke-width="0.92" stroke-linecap="round" fill="none" stroke-opacity="0.85"/>
<circle cx="264.2" cy="170.2" r="1.15" fill="#0c121c" stroke="#4c72b0" stroke-width="0.4" stroke-opacity="0.55"/>
<circle cx="207.3" cy="198.7" r="1.15" fill="#14121c" stroke="#8172b2" stroke-width="0.4" stroke-opacity="0.55"/>
<circle cx="236.6" cy="207.3" r="1.15" fill="#0d1a10" stroke="#55a868" stroke-width="0.4" stroke-opacity="0.55"/>
<circle cx="251.8" cy="204.3" r="1.15" fill="#101c20" stroke="#64b5cd" stroke-width="0.4" stroke-opacity="0.55"/>
<circle cx="253.3" cy="214.4" r="1.15" fill="#1f0c0d" stroke="#c44e52" stroke-width="0.4" stroke-opacity="0.55"/>
<circle cx="293" cy="216.4" r="1.15" fill="#0d1a10" stroke="#55a868" stroke-width="0.4" stroke-opacity="0.55"/>
<circle cx="256" cy="236.8" r="1.15" fill="#201d12" stroke="#ccb974" stroke-width="0.4" stroke-opacity="0.55"/>
<circle cx="337.1" cy="200.5" r="1.15" fill="#0c121c" stroke="#4c72b0" stroke-width="0.4" stroke-opacity="0.55"/>
</g>
<g>
<rect x="393.2" y="163.9" width="153.4" height="79.5" fill="#eaeaf2"/>
<g stroke="#fff" stroke-width="0.5" stroke-opacity="0.36">
<line x1="403.4" y1="163.9" x2="403.4" y2="243.4"/>
<line x1="428.6" y1="163.9" x2="428.6" y2="243.4"/>
<line x1="453.8" y1="163.9" x2="453.8" y2="243.4"/>
<line x1="479" y1="163.9" x2="479" y2="243.4"/>
<line x1="504.2" y1="163.9" x2="504.2" y2="243.4"/>
<line x1="529.4" y1="163.9" x2="529.4" y2="243.4"/>
<line x1="393.2" y1="173.6" x2="546.6" y2="173.6"/>
<line x1="393.2" y1="188.6" x2="546.6" y2="188.6"/>
<line x1="393.2" y1="203.6" x2="546.6" y2="203.6"/>
<line x1="393.2" y1="218.6" x2="546.6" y2="218.6"/>
<line x1="393.2" y1="233.6" x2="546.6" y2="233.6"/>
</g>
<text x="438.4" y="160.8" textLength="59.8" lengthAdjust="spacingAndGlyphs" font-family="'Liberation Serif', serif" font-size="8" fill="#222">PCA + UMAP: 10</text>
<g font-family="'Liberation Sans', sans-serif" font-size="2.4" font-weight="bold" fill="#111">
<text x="403.4" y="246.8" text-anchor="middle">-10</text>
<text x="428.6" y="246.8" text-anchor="middle">-5</text>
<text x="453.8" y="246.8" text-anchor="middle">0</text>
<text x="479" y="246.8" text-anchor="middle">5</text>
<text x="504.2" y="246.8" text-anchor="middle">10</text>
<text x="529.4" y="246.8" text-anchor="middle">15</text>
<text x="392" y="174.7" text-anchor="end">15</text>
<text x="392" y="189.7" text-anchor="end">10</text>
<text x="392" y="204.7" text-anchor="end">5</text>
<text x="392" y="219.7" text-anchor="end">0</text>
<text x="392" y="234.7" text-anchor="end">-5</text>
</g>
<path d="M434.1 207.4h0M433.4 208.3h0M433.7 207.6h0M433.6 208.2h0M433.9 207.6h0M433.4 207.7h0" stroke="#4c72b0" stroke-width="0.92" stroke-linecap="round" fill="none" stroke-opacity="0.85"/>
<path d="M450.8 237.1h0M450.9 236.8h0M450.3 236.6h0M450.3 236.2h0M450.1 236.1h0M450.2 235.6h0M450 235.6h0M450.4 235.5h0M450.6 235.3h0M450.7 235.1h0M450.7 234.5h0M450.9 234.5h0M451.2 234.3h0M451.5 234.2h0M451.2 233.9h0M451.6 233.9h0M451.6 234.2h0M452.2 233.9h0M452.4 234.2h0M455.9 238.8h0M455.8 239.1h0M455.3 239h0M455.5 238.8h0M455.5 239.2h0M454.8 239.2h0M454.7 239.2h0M454.4 239.1h0M453.7 239.3h0M453.8 239.5h0M452.9 239.1h0M452.6 238.8h0M452.8 238.4h0M452.5 238.4h0M452 238h0M452.1 238h0M451.6 237.8h0M451.4 237.3h0M451 237h0" stroke="#4c72b0" stroke-width="0.92" stroke-linecap="round" fill="none" stroke-opacity="0.85"/>
<path d="M460.1 168.7h0M460.1 168.5h0M460.6 168.3h0M460.8 167.9h0M461.1 167.8h0M461.6 168.1h0M462 168.3h0M462.8 167.8h0M462.8 168h0M463.1 167.7h0M462.9 167.9h0M463.5 168.3h0M463.9 168.5h0M464.2 168.2h0M464.2 168.3h0M465.3 168.2h0M465.1 168.5h0M465.2 168.5h0M465.8 168.5h0M466 168h0M466.2 168.8h0M466.2 168.6h0M466.3 169.2h0M466.3 169.4h0M465.4 169.5h0M465.5 170.2h0M465.5 169.9h0M465.3 170.2h0M465.4 170.5h0M465.1 170.8h0M464.9 170.6h0M465.1 170.5h0M464.6 171.5h0M464.5 171.2h0M464 171.5h0M463.9 171.6h0M463.2 171.9h0M463.1 172h0M463 171.9h0M462.4 172.3h0M462.3 172.4h0M462.4 172.7h0M461.4 172.2h0M461.3 172.6h0M460.7 172.7h0M460.5 172.6h0M460.3 172.9h0M459.8 173h0M459.3 172.5h0M459.2 172.4h0M458.7 172.5h0M459 172.1h0M458.9 171.8h0M459 171.8h0M458.5 171.5h0M458.6 171.6h0M458.2 171.1h0M458.6 171h0M458.1 170.9h0M458.3 170.9h0M458.7 170.7h0M458.5 170.3h0M458.2 170.3h0M458.3 170.2h0M459.1 169.9h0M459 169.5h0M459.7 169.6h0M459.1 169.6h0M459.7 169.1h0M459.7 168.9h0" stroke="#64b5cd" stroke-width="0.92" stroke-linecap="round" fill="none" stroke-opacity="0.85"/>
<path d="M408.3 199.3h0M408 199.6h0M407.2 199.9h0M407 200h0M406.2 200.5h0M406.1 200.8h0M405.5 200.7h0M405.2 201h0M404.9 201h0M403.7 201.3h0M403.6 201.4h0M403.1 201.4h0M402.6 201.5h0M402.1 201.2h0M400.9 201.4h0M402.1 200.8h0M401.6 200.7h0M401.8 200.4h0M402.4 200.3h0M402.5 199.7h0M402.3 199.6h0M401.6 199.7h0M401.3 199.5h0M401.2 199.2h0M401.3 198.7h0M401 198.3h0M401.7 197.9h0M402.1 197.8h0M402.8 197.8h0M403.3 197.5h0M403.5 197h0M404.6 197.2h0M404.7 197h0M405.3 196.3h0M406 195.9h0M406.5 196.5h0M406.8 196.9h0M407.1 197.1h0M407.2 197.2h0M407.5 197.8h0M407.6 197.7h0M407.9 197.6h0M408.2 197.7h0M409 197.8h0M409.3 197.7h0M409.6 197.8h0M409.3 197.9h0M409.2 198.6h0M408.5 198.8h0M408.8 199.3h0M404.8 199.8h0M404.4 200.1h0M403.2 199.9h0M403.2 199.5h0M403 199.8h0M403.6 199.9h0M403.6 199.4h0M403.7 199h0M403.5 199.5h0M403.9 198.9h0M404 198.9h0M404 199.1h0M404.3 198.3h0M405.1 198.5h0M405 198.3h0M405.4 198.3h0M405.9 197.8h0M406.7 197.9h0M406.6 198h0M406.8 198h0M406.5 198.1h0M406.9 198.5h0M407.3 198.6h0M407.3 198.6h0M406.9 198.5h0M407 198.8h0M407 198.4h0M406.5 199h0M406.4 199h0M406.2 199.3h0M405.9 199.5h0M405.8 199.7h0M405.4 199.5h0M404.9 199.6h0M404.5 199.6h0M407.6 196.5h0M402.7 197h0M406.5 196.2h0M403.2 197.2h0M406.3 196.4h0M407.3 195.5h0M403 196.4h0M403.7 196.9h0M406.6 196.5h0M403.5 196.8h0" stroke="#64b5cd" stroke-width="0.92" stroke-linecap="round" fill="none" stroke-opacity="0.85"/>
<path d="M435.2 206.3h0M435.4 206.8h0M435 207h0M434.3 207.6h0M435.1 206.8h0M434.6 207.6h0M434.6 206.8h0M434.6 206.7h0M434.6 207h0M434.8 207.2h0" stroke="#55a868" stroke-width="0.92" stroke-linecap="round" fill="none" stroke-opacity="0.85"/>
<path d="M453 234.3h0M453.9 234.5h0M453.6 235h0M453.8 234.8h0M454.2 235.2h0M454.4 235.2h0M454.6 235.3h0M455.3 235.6h0M455.6 235.5h0M455.6 235.7h0M456.3 235.6h0M456.6 236h0M456.8 236h0M456.9 236.2h0M457.1 236.7h0M457.5 236.6h0M457.6 237.3h0M457.3 237.5h0M457.5 237.7h0M457.8 237.9h0M457.3 238.4h0M457.5 238h0M457.1 238.5h0M457.8 238.7h0M456.1 238.5h0M456.3 238.7h0M456.4 238.7h0" stroke="#55a868" stroke-width="0.92" stroke-linecap="round" fill="none" stroke-opacity="0.85"/>
<path d="M536.1 197.9h0M536.1 198h0M536.4 198.1h0M536.7 198.2h0M536.5 198.4h0M537.2 198.7h0M537.2 198.9h0M537.6 198.9h0M537.4 198.6h0M537.6 198.4h0M538.6 198.7h0M538.9 198.8h0M539.3 199.1h0M539.7 199.3h0M540.2 198.8h0M540.1 199.1h0M540.3 199.5h0M540.3 199.6h0M539.5 199.9h0M539.5 200.3h0M539.2 200.5h0M539.1 200.6h0M538.4 200.7h0M538.3 201h0M538.6 201.3h0M538.1 201.6h0M538 201.9h0M537.7 202.2h0M537.8 202.3h0M537.4 202.3h0M537.3 202.7h0M537.1 203h0M536.7 203.1h0M535.7 203.4h0M535.2 203.2h0M535 203.1h0M534.6 203.4h0M534.1 202.9h0M533.9 203.6h0M533.6 202.8h0M533.5 202.9h0M533 202.5h0M532.8 202.4h0M532.2 202.2h0M532.4 202.3h0M532.4 202.2h0M531.8 202.6h0M531.2 202.5h0M531 202h0M531.1 202h0M530.6 202h0M531 201.8h0M530.5 201.5h0M530.4 201.5h0M530.3 201.3h0M530.4 200.7h0M530.4 200.9h0M530.2 200.4h0M530.8 200.2h0M530.5 200h0M530.7 199.8h0M530.8 199.4h0M530.8 199.4h0M531.3 199.1h0M531.9 198.9h0M532.2 198.8h0M531.9 198.8h0M533 198.3h0M533 198h0M533.4 197.9h0M533.5 198.1h0M534.4 197.7h0M534.6 197.7h0M535.5 197.7h0M535.4 197.8h0" stroke="#8172b2" stroke-width="0.92" stroke-linecap="round" fill="none" stroke-opacity="0.85"/>
<path d="M455.2 213.5h0M455.3 213.8h0M455.4 213.8h0M455.3 214.1h0M455.2 214.6h0M455.1 214.6h0M454.6 215.4h0M455.4 215.6h0M455.2 215.9h0M455.3 216.1h0M454.7 216h0M454.8 216.4h0M454.7 216.5h0M454.9 217h0M453.8 216.8h0M453.7 216.8h0M453.4 217h0M452.8 217h0M452.6 216.9h0M451.9 217h0M452 217.2h0M451.1 217.3h0M450.7 216.9h0M450.3 216.9h0M449.9 216.8h0M449.8 216.7h0M449.7 216.4h0M448.9 216.2h0M448.9 215.8h0M449.2 216h0M448.7 215.7h0M447.8 215.5h0M448 215.5h0M447.2 215.5h0M446.3 215.1h0M446.8 214.7h0M446.8 214.4h0M447.2 213.8h0M447 213.8h0M447.1 213.9h0M447.3 213.2h0M448 213.1h0M447.6 213h0M447.2 213h0M447.9 212.4h0M448.4 212.2h0M448.6 212.1h0M448.9 212.1h0M449.5 212h0M450.8 212h0M450.8 212.8h0M451.3 213.3h0M452 213.1h0M451.5 213.6h0M451.9 212.8h0M452.1 213.4h0M452.9 213.3h0M453.4 213h0M454.3 213.1h0M454.7 213.1h0M449.1 211.6h0M450.1 212.4h0M451.7 212.3h0M451.8 212.2h0M451.5 212.4h0M451 212h0M449.6 211.8h0M450 211.8h0" stroke="#c44e52" stroke-width="0.92" stroke-linecap="round" fill="none" stroke-opacity="0.85"/>
<path d="M492.6 219.3h0M492.3 219.5h0M491.8 219.7h0M491.2 219.2h0M491 219h0M490.8 218.9h0M490.8 218.6h0M490.3 218.1h0M490.1 218.2h0M490 217.6h0M489.5 217.9h0M489.2 217.2h0M489.1 217.9h0M488.6 218.1h0M487.9 217.9h0M487.2 217.6h0M486.1 217.2h0M486.3 217.6h0M486 217h0M486.1 216.8h0M486 216.5h0M485.8 216.1h0M486.4 216.3h0M487 215.7h0M487 215.5h0M487.2 215.4h0M487.7 214.9h0M488.2 214.9h0M487.9 215.3h0M488.2 214.7h0M488.7 214.9h0M488.6 214.6h0M489.2 214.9h0M490.5 214.7h0M490.1 214.7h0M491.1 214.5h0M490.8 214.7h0M490.9 214.3h0M491.5 214.3h0M492.2 214.1h0M492 213.8h0M492.6 214.2h0M493.3 214.2h0M493.1 214.3h0M493.5 214.6h0M493.9 214.5h0M494 214.9h0M494.4 215.4h0M494.9 214.8h0M494.9 215.4h0M495.4 215.4h0M495.7 215.1h0M495.7 215.8h0M496.3 215.8h0M497 215.7h0M496.6 216.5h0M496.9 216.6h0M497.1 216.9h0M496.5 217.2h0M495.6 217.7h0M495.5 217.4h0M495.2 217.4h0M494.3 217.4h0M494 217.6h0M493.9 217.7h0M493.8 218.1h0M493.7 218.3h0M493.5 218.4h0M492.9 218.9h0M492.8 219.2h0M487.7 214.1h0M485.3 213.6h0M488.9 214.1h0M487.7 214.3h0M486.7 214.1h0M485.3 214h0M488.8 214.5h0M487.8 213.8h0M487.1 213.9h0M489.1 214.9h0M490 218.1h0M488.7 219.6h0M487.9 219.7h0M488.8 219.4h0M488.5 219.7h0M488 220h0" stroke="#c44e52" stroke-width="0.92" stroke-linecap="round" fill="none" stroke-opacity="0.85"/>
<path d="M451.5 204.8h0M451.7 205.3h0M451.8 206.1h0M451.6 206.1h0M452.2 207.1h0M451.8 207h0M451.7 207.9h0M450.9 207.6h0M450.8 207.8h0M449.6 207.5h0M449.4 207.3h0M449 206.5h0M448.4 206.2h0M448.8 205.8h0M448.6 205.6h0M448.6 205.5h0M447.7 205.9h0M447.3 205.9h0M446.7 206h0M445.8 205.9h0M445.5 205.8h0M445.2 205.6h0M444.6 205.5h0M445.2 205.3h0M445.2 204.7h0M445.8 204.7h0M445.9 204.5h0M445.7 204.5h0M445.7 204.3h0M445.4 203.5h0M445.4 203.5h0M445.2 202.5h0M445.2 202.9h0M445.7 202.7h0M446.7 202.7h0M447 202.9h0M448 203h0M448 203.1h0M449 203.5h0M448.7 203.7h0M449.3 203.9h0M449.6 203.7h0M449.6 203h0M450.1 203.4h0M450.4 203.1h0M451 202.4h0M452 202.5h0M452.5 202.5h0M453.1 203h0M453.1 203.2h0M453.7 203.5h0M453.2 203.8h0M453.5 203.8h0M453.5 204h0M453.1 204.3h0M453 204.9h0M452.4 205.1h0M452 205.3h0M451.3 205.2h0M451.3 205.2h0M450.2 202.5h0M454.1 201.8h0M445 203.2h0M448.4 203.1h0M448.3 203h0M452.7 201.8h0M447.9 203.8h0M451 202.5h0M454.3 201.7h0M444.9 203.2h0M447.4 202.8h0M446.1 202.8h0M445.7 202.7h0M447.9 203.1h0M445.2 203.7h0M447.3 203.2h0M449.3 202.5h0M449.5 201.5h0M454.3 206.2h0M453.6 205.4h0M453.9 206.4h0M451.4 202.6h0M453.9 204.1h0M453.3 204.7h0M453.9 207.1h0M452.5 203.8h0M453 205.3h0M452.3 202.1h0M452.4 202.7h0M453.7 206.3h0" stroke="#ccb974" stroke-width="0.92" stroke-linecap="round" fill="none" stroke-opacity="0.85"/>
<circle cx="462" cy="170.2" r="1.15" fill="#101c20" stroke="#64b5cd" stroke-width="0.4" stroke-opacity="0.55"/>
<circle cx="405.1" cy="198.7" r="1.15" fill="#101c20" stroke="#64b5cd" stroke-width="0.4" stroke-opacity="0.55"/>
<circle cx="433.7" cy="207.8" r="1.15" fill="#0c121c" stroke="#4c72b0" stroke-width="0.4" stroke-opacity="0.55"/>
<circle cx="434.8" cy="207" r="1.15" fill="#0d1a10" stroke="#55a868" stroke-width="0.4" stroke-opacity="0.55"/>
<circle cx="449.6" cy="204.3" r="1.15" fill="#201d12" stroke="#ccb974" stroke-width="0.4" stroke-opacity="0.55"/>
<circle cx="451.1" cy="214.4" r="1.15" fill="#1f0c0d" stroke="#c44e52" stroke-width="0.4" stroke-opacity="0.55"/>
<circle cx="490.8" cy="216.4" r="1.15" fill="#1f0c0d" stroke="#c44e52" stroke-width="0.4" stroke-opacity="0.55"/>
<circle cx="452.3" cy="236.9" r="1.15" fill="#0c121c" stroke="#4c72b0" stroke-width="0.4" stroke-opacity="0.55"/>
<circle cx="456.1" cy="236.6" r="1.15" fill="#0d1a10" stroke="#55a868" stroke-width="0.4" stroke-opacity="0.55"/>
<circle cx="534.9" cy="200.5" r="1.15" fill="#14121c" stroke="#8172b2" stroke-width="0.4" stroke-opacity="0.55"/>
</g>
<g>
<g stroke="#f6f7fb" stroke-width="0.5">
<line x1="13.4" y1="283" x2="13.4" y2="357"/>
<line x1="30.6" y1="283" x2="30.6" y2="357"/>
<line x1="47.8" y1="283" x2="47.8" y2="357"/>
<line x1="82.2" y1="283" x2="82.2" y2="357"/>
<line x1="99.4" y1="283" x2="99.4" y2="357"/>
<line x1="116.6" y1="283" x2="116.6" y2="357"/>
<line x1="13.5" y1="288.4" x2="130.5" y2="288.4"/>
<line x1="13.5" y1="300.2" x2="130.5" y2="300.2"/>
<line x1="13.5" y1="312" x2="130.5" y2="312"/>
<line x1="13.5" y1="335.6" x2="130.5" y2="335.6"/>
<line x1="13.5" y1="347.4" x2="130.5" y2="347.4"/>
</g>
<g stroke="#ebeff7" stroke-width="0.6">
<line x1="65" y1="283" x2="65" y2="357"/>
<line x1="13.5" y1="323.8" x2="130.5" y2="323.8"/>
</g>
<g font-family="'Liberation Sans', sans-serif" font-size="3.3" fill="#b0b9ca">
<text x="13.4" y="359.8" text-anchor="middle">−30</text>
<text x="30.6" y="359.8" text-anchor="middle">−20</text>
<text x="47.8" y="359.8" text-anchor="middle">−10</text>
<text x="65" y="359.8" text-anchor="middle">0</text>
<text x="82.2" y="359.8" text-anchor="middle">10</text>
<text x="99.4" y="359.8" text-anchor="middle">20</text>
<text x="116.6" y="359.8" text-anchor="middle">30</text>
<text x="10.8" y="289.6" text-anchor="end">30</text>
<text x="10.8" y="301.4" text-anchor="end">20</text>
<text x="10.8" y="313.2" text-anchor="end">10</text>
<text x="10.8" y="325" text-anchor="end">0</text>
<text x="10.8" y="336.8" text-anchor="end">−10</text>
<text x="10.8" y="348.6" text-anchor="end">−20</text>
</g>
<path d="M89.8 347.1h0M92.9 347.5h0M93.7 347.7h0M84.1 350.9h0M83.3 350.4h0M94.1 350h0M94.7 349.7h0M95.5 342.7h0M94.9 343.2h0M78.1 347.8h0M78.4 348.6h0M91.6 336.4h0M100.7 342.7h0M84.2 346.9h0M82.5 341.3h0M91.3 336.8h0M90.9 337.4h0M103 344.1h0M82.9 338.4h0M83.8 338h0M93.7 349.8h0M85.6 338.3h0M94.3 337.4h0M103.7 343.9h0M104.2 343.5h0M89.8 335.9h0M90.5 336.3h0M96.8 348.5h0M90 351.8h0M79.7 340.4h0M76.3 342.3h0M83.5 347.4h0M88.4 351.3h0M85.9 338.9h0M81.7 344.4h0M82.4 343.8h0M86 337.6h0M86.2 337.2h0M82 338h0M82.8 337.4h0M82.5 344.7h0M82.4 342.7h0M85.3 339.7h0M91.4 352.3h0M88.4 335.7h0M88.1 336.6h0M80.9 337.8h0M81 338.2h0M77.3 341.2h0M95.1 340.4h0M92 338.4h0M83.9 349.3h0M83.7 348.7h0M88.4 346.7h0M97.2 345.7h0M98.2 345.4h0M100.6 342.7h0M101.2 342.4h0M89.1 352.4h0M90 352.6h0M83.1 338.4h0M82.4 341.7h0M81.8 341.9h0M82.5 340.9h0M94.1 341.2h0M93.8 340.2h0M95.9 344.6h0M97.9 350.1h0M93.5 348.1h0M104.4 346.4h0M81.4 350h0M94.5 340h0M79.5 347.6h0M100.4 348.2h0M87.2 351.2h0M87.6 350.5h0M97.3 337.3h0M95.5 339.1h0M95.6 339.6h0M77.9 344.1h0M90.4 335.6h0M84.8 337.3h0M85.4 337.5h0M85.4 352h0M86.7 346.6h0M86.1 346.5h0M91.4 341.3h0M91 337.5h0M83.1 349.2h0M103.1 341.7h0M93.5 338.6h0M83.7 349.6h0M91.8 337.7h0M91.6 337.5h0M89.2 347.9h0M90.1 348.1h0M99.1 348.4h0M99.8 348.3h0M78.1 340.3h0M100.9 347h0M101.6 346.5h0M96.4 342.7h0M80.2 349.2h0M81.3 349.3h0M85.3 346.1h0M86.1 345.2h0M85.1 347.3h0M101.8 344h0M79.1 345.6h0M80 345.4h0M84.7 343.8h0M84.6 344.6h0M102.9 344.3h0M95 342.2h0M99.3 338.3h0M99.9 338.6h0M90.5 350.9h0M84.2 349h0M83.9 349.9h0M98.4 343.4h0M87.6 336.1h0M87.7 351.2h0M87 350.5h0M103.4 343.5h0M102.7 342.9h0M91 340.9h0M90.4 340.3h0M81.8 344h0M82.4 343.6h0M88.6 349.4h0M88.1 349.8h0M82.4 342.7h0M82.7 343.3h0M101.8 348.8h0M101 348.5h0M100 339.7h0M79.9 337.9h0M93.1 352h0" stroke="#e3d38f" stroke-width="1.4" stroke-linecap="round" fill="none"/>
<path d="M76.3 326.5h0M69.7 320.4h0M70.5 320.5h0M64.5 323.1h0M69.1 321.1h0M68.6 320.7h0M75.4 319.4h0M77.7 319.7h0M69.5 328h0M69.3 327.3h0M76.1 331h0M75.4 331.2h0M79.4 320.7h0M66.5 321.7h0M66.9 321.2h0M67.8 328.1h0M68.1 325.2h0M66.2 321.2h0M72.3 318.5h0M74 327.5h0M74.8 326.9h0M79.4 320.2h0M70.1 321.3h0M83.2 327h0M80.2 319.8h0M79.4 319.6h0M66 319.3h0M66.9 319.7h0M80 325.8h0M65.2 327.4h0M81.3 328h0M80.7 327.5h0M78.9 324.6h0M65.2 325.5h0M64.4 325.6h0M71.4 327.2h0M70.7 327h0M71.2 330.3h0M71.4 330.8h0M83.2 320.7h0M65.6 324.6h0M79.4 327.3h0M80.3 327.7h0M79.8 317.8h0M79.2 318.7h0M67.4 321h0M81.4 322.9h0M81.5 324h0M73.8 327h0M68.7 323.4h0M73.1 329.7h0M71.8 330.1h0M72.7 330.2h0M68.3 327.8h0M68 328.9h0M69.3 322.7h0M78.6 321.3h0M79.5 321.8h0M74.6 319h0M73.8 319h0M78.3 327.8h0M82.5 324.3h0M81.2 320.2h0M80.5 319.8h0M71.5 330.3h0M70.5 330.2h0M73.1 327.2h0M63.9 323.8h0M64.6 324.5h0M72.2 331.2h0M71.5 331.3h0M72 330.4h0M72.2 331h0M69.8 326.7h0M70.5 327.5h0M83.4 323.3h0M83.4 322.9h0M69.1 327.7h0M70.5 329.8h0M66.3 320h0M70.3 327.6h0M72.3 330.1h0M67.8 323.9h0M68.5 325.2h0M68.2 325.7h0M82 322.2h0M82.5 321.8h0M69 327.1h0M82 318.9h0M82.1 318.1h0M79 325.5h0M66.6 320.8h0M76.9 319.1h0M74.2 329.6h0M79.3 319.6h0M68.6 327.6h0M64.7 324.5h0M64.1 323.9h0M69 321.6h0M72.1 327.7h0M72 331h0M71.3 331h0M69.6 328.4h0M73.6 329.2h0M73 329.6h0M72.4 316.7h0M73 317.5h0M64 322.2h0M76.3 330.7h0M76.6 329.9h0M81.5 324.3h0M80.8 325.4h0M68.4 327.9h0M68.7 318h0M78.1 318.3h0M77.4 318.6h0M74.9 328.2h0M70.6 327.7h0M67 327.8h0M74.5 327.9h0M78.3 322.3h0M77.5 322.6h0M65.4 323.4h0M75.5 319.5h0M75.8 320.3h0M65.7 327.2h0M69.3 329h0M70 329h0M68.5 325.7h0M68.9 326.1h0M65.3 326.4h0M67.5 328.2h0M67 327.3h0M79.1 327h0M79.8 326.6h0M76.5 317.3h0M81.7 328.2h0M70.1 319.9h0M70.5 320.7h0M70 323h0M69.6 322h0M69.2 330.2h0M68.4 319.3h0M67.8 319.7h0M67.5 321.2h0M82.2 323.7h0M68.6 326.9h0M67.8 326.8h0M71.3 320h0M71.7 319.8h0M68.4 324.9h0M70.4 325.8h0M80.9 322.4h0M80.2 322.4h0M80.6 322.3h0M64.5 322.3h0M69.7 328.6h0M70.5 328.9h0M64 325.3h0M66.6 328.5h0M78 317.4h0M70.9 320.6h0M81.7 329.1h0M81.6 321.7h0M82 321.5h0M78.5 329.8h0M78.9 330.7h0M67.7 325.6h0M82.9 323.3h0M82.1 323.6h0" stroke="#3557ee" stroke-width="1.4" stroke-linecap="round" fill="none"/>
<path d="M86.6 294.5h0M86.3 302h0M86.2 301.3h0M84 303.5h0M84.8 303.3h0M77 293.8h0M77.1 293h0M85.3 297.1h0M85.7 296.7h0M84.6 297.3h0M70.5 294.7h0M70.3 295.2h0M79.4 294.4h0M79.3 295.1h0M86.1 296.7h0M68.3 296.9h0M70.3 299.3h0M69.8 298.8h0M70 303.9h0M69.5 303.8h0M75.9 305.3h0M81.6 304.7h0M89.8 302.1h0M82.5 303.5h0M86.2 300.1h0M85.5 299.9h0M83.1 293.2h0M88 301.5h0M87.3 302h0M80.3 294.4h0M80.4 293.4h0M74.9 294.2h0M75.6 294.5h0M70.3 304h0M70.6 305.1h0M89.2 296.1h0M76.5 306.2h0M75.9 307.1h0M77.8 291.8h0M78 292.7h0M74.9 292.3h0M85.9 297.3h0M85.3 297.4h0M83.2 304.8h0M83.7 304.4h0M83.3 292.8h0M83.5 293.9h0M72.8 295.4h0M76.9 305.8h0M74.9 292.1h0M88.2 302.2h0M87.8 301.3h0M70.8 295h0M69.2 301.1h0M77.6 294.7h0M76.8 294.6h0M78.6 295h0M84.2 295.1h0M73.1 303h0M79.1 303.9h0M79.3 304.7h0M70.2 296.7h0M76.8 307.1h0M77.3 306.4h0M87.5 301.2h0M86.9 301.2h0M74.5 304h0M74.3 304.5h0M70.9 296h0M70.8 295.1h0M83.2 304.9h0M82.6 304.4h0M84.1 293.2h0M89.4 302.4h0M84.4 304.1h0M69.8 302.9h0M79.5 292.8h0M87.3 298.1h0M87.9 298.2h0M70.6 297.8h0M82.9 305.7h0M83.5 305.5h0M85.8 298.7h0M84.9 294.1h0M85.1 296.5h0M67.2 299.9h0M73.4 297.5h0M72.6 296.9h0M85.9 295.8h0M86.6 295.8h0M87.2 297.1h0M87.8 297.2h0M73.1 295.7h0M72.1 295.7h0M72.6 293.9h0M73.2 293.4h0M79.5 304.3h0M79.3 304.9h0M76 305.5h0M67.5 299.4h0M67.1 299.5h0M84.7 295.3h0M85.4 295.2h0M85.1 303.5h0M81.5 293.3h0M81.4 292.5h0M69.1 295.9h0M73.4 302h0M76.5 305h0M81.5 304.8h0M81 305h0M87.8 294.2h0M78.4 292.2h0M78.1 291.4h0M73.5 305.2h0M82.6 295h0M81.9 294.5h0M71.7 303.3h0M84.5 295h0M84.9 295.7h0M88.5 302.6h0M88 303.3h0M75.5 295.7h0M75 295.1h0M70.8 301.5h0M84.8 305.7h0M85.3 305.9h0M82.4 303.2h0M90.3 303.8h0M93.9 307.4h0M94.4 306.6h0M95.9 308.9h0M96.5 308.4h0M91.5 306.3h0M92.3 304.6h0M95.2 308.4h0M95 309.3h0M97.2 308.8h0M97.1 308.4h0M90.4 303.2h0M90.8 302.5h0M97.4 309.7h0M96.1 307.1h0M94.1 310.5h0M93.3 308.2h0M96.3 308.9h0M95.5 309.6h0M75.7 299.6h0M76 300.2h0M76.2 301h0M78.7 298.2h0M79.4 297.7h0M75.7 298.7h0M78.6 300.1h0M74.8 300.2h0M73.9 300.5h0" stroke="#9bedae" stroke-width="1.4" stroke-linecap="round" fill="none"/>
<path d="M49.8 306.3h0M50.2 305.6h0M36.4 301.6h0M35.9 301.8h0M55 302.4h0M56 296.8h0M56.8 296.9h0M37 301.4h0M36.2 300.9h0M33.3 297.3h0M33.8 297.9h0M33.4 294.6h0M32.6 294.1h0M42.3 304.2h0M42.1 303.1h0M53.6 302.1h0M34.8 301.8h0M53.4 301.5h0M54.3 301.8h0M31.8 299h0M31 298.7h0M34 293.8h0M54.5 300.9h0M32.8 298.1h0M53.5 303.8h0M52.9 304.3h0M39.6 292.3h0M40.4 293.1h0M34.7 303.5h0M49.9 306.9h0M53.1 302.9h0M55.5 296.2h0M54.9 296.4h0M40.6 305.2h0M38.2 292.5h0M37.5 292h0M56.8 298.8h0M40.7 303.5h0M32.2 299.6h0M48.9 305.3h0M49.5 306.4h0M36.7 291.5h0M35.9 291.7h0M38.2 302.7h0M54.6 302.4h0M36.4 301.9h0M36.1 301.3h0M58.6 297.5h0M33.6 294.9h0M31.9 298.5h0M37.7 293.8h0M37.9 294.1h0M55.3 304.1h0M44.4 304.8h0M44 303.9h0M34.1 299.4h0M34.6 300.6h0M52.3 303.9h0M34.4 298.7h0M38.3 293h0M35.1 295.6h0M41.5 292.2h0M53.5 301h0M35.2 294.9h0M44.6 305.4h0M43.7 304.7h0M50.5 306.2h0M34.2 298.8h0M33.7 299.5h0M54.7 296h0M47.3 305.2h0M46.4 304.6h0M33.9 301.3h0M34.5 300.8h0M56.5 300.8h0M35.9 296.5h0M36.6 296.6h0M48.5 304.7h0M48.4 304h0M34.7 294.5h0M32.3 297.6h0M32.1 298.5h0M36 294.5h0M35.9 293.8h0M32.6 296.8h0M32 297.6h0M56.2 295.1h0M33.5 300.8h0M38 292.9h0M33.5 300.5h0M34.4 300.4h0M39.7 305.7h0M49.5 305.9h0M49.3 305.1h0M41.8 305.3h0M54.7 303h0M37.5 293.4h0M36.7 293.2h0M37.8 293.6h0M41.6 290.8h0M44.5 306.8h0M45.3 307.1h0M54.9 298.9h0M55.7 299.6h0M36.1 294.8h0M36.9 294.5h0M48.3 306.6h0M47.7 307h0M33.9 301.9h0M34.2 302.7h0M41.9 291.7h0M42.8 303.7h0M35.5 291.8h0M34.6 297.4h0M33.8 297.1h0M33.3 299.4h0M33.2 300.3h0M42.1 305h0M42 304.7h0M54.6 295.4h0M54.2 295.4h0M57.8 296.2h0M57.5 296.7h0M38.9 292.8h0M38.8 292h0M35.5 295.7h0M35.1 295.5h0M55.8 298.9h0M56.9 298.5h0M35.9 295.8h0M56.9 301.8h0M58.3 297.7h0M57.5 297.7h0M36.5 292.3h0M37.1 291.7h0M50.8 305.3h0M35.2 298.8h0M34.3 298.6h0M56.5 297.6h0M35.9 304.7h0M35.3 303.6h0M34.7 293.4h0M41.7 295.9h0M43.9 296.4h0M49.2 292.2h0M49.7 291.6h0M49.8 292.3h0M43 295.7h0M42.1 295.8h0M46.8 292.5h0M47.2 293.2h0M45.2 295.3h0M46.1 295.7h0M49.1 293h0M48.6 295.1h0M47.2 294.9h0M50.2 295.3h0M42.7 296.4h0M41.8 296.4h0M41.2 295.5h0M40.4 295h0M46.6 296.7h0M49.3 293.7h0M52.1 294.4h0M43.5 294.5h0M43 294.2h0M42.6 294.9h0M42.6 294.2h0M48.5 294.2h0M48.9 294.5h0M37.8 291.5h0M38.5 291.5h0M41.2 289.5h0M33.8 292.8h0M34.4 292.6h0M34.2 291.3h0M34.4 291.7h0M43 288.9h0M43.3 288.3h0M33.9 292.4h0M34 292.7h0M36.2 291.8h0M36.6 291.6h0M42.8 288.4h0M38.4 290.2h0M45.1 288.9h0M44.4 288h0M40.3 291.2h0M46 289.4h0M36.4 292.2h0M37 291.6h0M54.9 296.3h0M56.1 298.8h0M56.8 299.3h0M57.7 299.7h0M56 299.2h0M56.8 299.8h0M56.4 299h0M53.9 298.4h0M65.2 333.5h0M69.1 339.6h0M65.1 337.4h0M70.5 337.7h0M71 335.1h0M70.4 339.1h0M66.2 336.4h0M68.3 339.1h0M66.3 335.3h0M58 345.5h0M61.5 348h0M63 340h0" stroke="#36df8d" stroke-width="1.4" stroke-linecap="round" fill="none"/>
<path d="M51.8 321.9h0M60.8 319.4h0M61.4 320.4h0M67.1 311.7h0M67.7 311.1h0M53.8 320.5h0M52.3 324.7h0M52.9 324.3h0M69.7 315.1h0M68.4 314.4h0M69.1 313.9h0M55.6 324.2h0M50 324.6h0M64.6 318.4h0M50 328.1h0M60 316h0M60.5 318.6h0M51.9 324.1h0M51.3 322.1h0M65 314.3h0M57.6 314.5h0M50.4 325.4h0M62.4 317.3h0M50.4 324.5h0M50.6 323.5h0M50.2 325h0M59.8 318.7h0M59.9 319.4h0M53.5 324h0M52.9 323.2h0M60.2 316.1h0M60.4 315.3h0M53.5 321.4h0M66.6 307.9h0M65.8 307.7h0M64.6 318.7h0M65.1 319.6h0M65.2 313.7h0M65.6 313.2h0M55.4 317.2h0M54.9 317.7h0M57.2 320.5h0M57.2 321.3h0M51.5 324.1h0M50 323.5h0M49.6 327h0M50.3 326.9h0M55.6 322.2h0M52.2 324.8h0M51.2 324.9h0M60.7 316.4h0M54.7 317.4h0M60.5 317h0M64.7 308.9h0M64.9 309.6h0M53.6 323h0M67.4 311.7h0M68.2 311.7h0M63.4 315.9h0M69.7 312.4h0M57.9 315.5h0M56.8 315.6h0M61.4 316h0M60 311.6h0M59.1 311.8h0M56.4 319.8h0M56.2 319.5h0M60.6 315.1h0M59.9 315.6h0M57.4 317.8h0M48.1 324.7h0M61.5 316.5h0M47.4 321.1h0M47.2 320.2h0M66.3 315.8h0M65.7 315.9h0M49.2 322.6h0M49.9 322.7h0M69.3 317h0M70.1 317.5h0M61.9 317.6h0M61.4 317.2h0M60.7 314.5h0M68.2 314.6h0M54.9 321.7h0M55.8 321.8h0M57.2 318.7h0M64.1 314.2h0M66.2 310.2h0M67.1 311h0M54.9 320.8h0M53.2 324.1h0M53.2 320.5h0M62.4 317.3h0M63.9 320h0M54.3 314.5h0M54.4 313.9h0M64.4 317.1h0M68.1 310.9h0M68.9 310.4h0M69.4 315.6h0M69.9 315.6h0M54.4 321.7h0M53.6 321.1h0M67.5 312.4h0M66.8 308.4h0M66.3 308.8h0M57.4 315.7h0M61.8 314.6h0M61.1 314.9h0M60.7 313.7h0M61.6 313h0M60.3 316.1h0M64.6 315.6h0M65.5 315.5h0M49.4 327.6h0M49 326.6h0M55.6 321.8h0M60.1 318.9h0M59.6 318.8h0M51.9 324.4h0M52.8 324.8h0M62.2 315.5h0M66.6 317.1h0M60.9 317.4h0M51.7 322.2h0M57 317.5h0M56.2 317.9h0M50.7 326.5h0M50.4 325.7h0M69.7 313.6h0M69.4 312.8h0M49.2 321.2h0M48.4 321.4h0M62.5 315.5h0M63.4 316h0M68.3 314.8h0M51.9 325.9h0M50.6 325.8h0M58.5 319.6h0M57.8 319.9h0M67.9 313.3h0M67.8 312.5h0M57.9 319.2h0M58.5 319.5h0M62 319.5h0M62.7 320.3h0M64.1 318.1h0M63.4 317.9h0M47.9 325.3h0M56.8 314.5h0M41.4 316h0" stroke="#c13be3" stroke-width="1.4" stroke-linecap="round" fill="none"/>
<path d="M22.5 329.5h0M18.4 327.9h0M18.8 329.6h0M19.5 330.3h0M18.8 329h0M19.3 328.3h0M18 329.5h0M17.5 330.1h0M17.5 329.2h0M17.9 330h0M26 326.2h0M25.4 326.7h0M28.8 326h0M28.5 325.3h0M26.8 325.5h0M29.3 326.6h0M27.2 325.5h0M26.7 326.1h0M27.5 328.6h0M26.6 328.7h0M28.8 328.4h0M34.8 326.6h0M35.2 326.1h0M35.4 327h0M33.8 326.7h0M33.2 325.8h0M34.5 325.5h0M38.5 326.3h0M38.1 326.8h0M34.6 326.6h0M35.6 327.3h0M36.4 327.1h0M35.5 327.3h0M31.2 333.5h0M34.7 335.3h0M35.3 335.7h0M30.4 333.8h0M31 333.5h0M35.3 334.8h0M35 335.5h0M31.1 335.1h0M33.7 332.3h0M34 332.2h0M31.3 334.2h0M30.8 334.4h0M30.4 341h0M30.4 340.4h0M30.1 337.2h0M29.1 337.9h0M30.3 337.5h0M29.5 338h0M28.1 338.6h0M31.4 339.8h0M32.4 338.5h0M31.9 340.4h0M33.8 341.4h0M34.2 342.5h0M32 342.9h0M31.6 343.8h0M34.7 343.6h0M35 344.8h0M35.6 344.2h0M34.7 341.3h0M32.3 342.7h0M44.1 332.3h0M41.2 333.7h0M41 333.4h0M41.1 334.5h0M44.1 333.3h0M44.5 334.2h0M41.7 333.3h0M41.2 332.7h0M42.8 333.3h0M43.5 332.1h0M41 333.2h0M41.8 332.7h0M42.7 332.4h0M43.5 332.9h0M44.5 339.1h0M46.7 337.9h0M46 339.6h0M47.7 338.9h0M47.5 338.3h0M44.2 339.7h0M45.5 338.9h0M46.1 338.8h0M45.6 339.1h0M43.7 338.5h0M41.1 346.2h0M41.3 345.1h0M43 346.5h0M42.7 345.8h0M43 346.9h0M41.9 346.6h0M40.8 346.7h0M42.6 345h0M43.7 345.3h0M43.1 346.4h0M40.5 345.5h0M40.5 346.4h0M21.6 332.1h0M24.6 331.8h0M22.2 332.4h0M23.3 330.8h0M25.7 330.9h0M25.3 332.3h0M25.6 333h0M24.5 331.1h0M23.7 330.6h0M35.6 328.9h0M39 328.7h0M38.4 328.3h0M38.3 329.5h0M37.8 330.1h0M35.7 329.4h0M36.8 328.6h0M39.2 330.6h0M39 330.6h0M37.7 328.2h0M40.6 329.7h0M31.2 336.1h0M30.6 336h0M27.7 337.3h0M31.3 335.3h0M31 336h0M29.2 335.1h0M28.1 337h0M28.9 337.2h0M27.4 337.4h0M28.4 337h0M28.4 334.7h0M27.6 334.4h0M27.3 334.4h0M17.4 330.4h0M16.3 330.5h0M16.7 329h0M17.3 328.2h0M19 328.8h0M19.6 328.5h0M19.7 331.6h0M16 330.2h0M19.2 329.8h0M19.7 329.6h0M18.3 331.1h0M20.4 330.9h0M45.9 343.4h0M47.6 342.7h0M48.2 345.2h0M48.1 346.2h0M45.2 344.1h0M45.5 343.6h0M46.5 342.6h0M48.2 343h0M48.8 343.4h0M48.5 344.2h0M49.3 343.7h0" stroke="#5023e6" stroke-width="1.4" stroke-linecap="round" fill="none"/>
<path d="M65 288.4h0M65.3 288.6h0M103.2 318.7h0M102.5 318.4h0M114.8 320.1h0M113.8 319.6h0M110.8 323.5h0M111.7 324.2h0M101.9 319.6h0M99.2 323h0M109 317.6h0M104.2 326.5h0M100.4 320.2h0M100.8 319.8h0M100 318.6h0M100.1 317.7h0M112.2 322.2h0M111.4 325.4h0M110.8 324.8h0M104.5 318.9h0M104.8 318.2h0M108.3 324.1h0M111.6 320.6h0M111 321.1h0M106.2 326.8h0M107 326.4h0M112 320.2h0M112.6 319.8h0M106.8 316.7h0M107.5 316h0M111.1 323.1h0M111.4 323.8h0M104.6 323.4h0M113.4 317.4h0M112.9 316.7h0M109.1 318h0M112.4 317.9h0M113.7 322.8h0M102.1 324.3h0M102.5 324.6h0M114.7 322.8h0M113.3 317.5h0M109.6 323.4h0M103.5 315.7h0M103.5 316.6h0M99.5 323.5h0M100.7 318.8h0M100.5 319.5h0M101.3 323.1h0M102 322.6h0M111.2 320.3h0M111.6 320.2h0M109.4 325.7h0M109.7 326.8h0M110.8 323.4h0M111.5 323.3h0M107.8 316.6h0M107.9 315.5h0M109.9 315.6h0M110.1 316.6h0M100.9 319.3h0M101.9 325h0M110.3 326.2h0M106.2 324.1h0M106.7 323.5h0M102.2 324h0M102.3 323.2h0M103.6 318.1h0M100.7 320.7h0M100.2 319.7h0M101.4 322.5h0M109.6 317.3h0M109.5 316.6h0M111.4 324.6h0M111 325.2h0M113.8 324.2h0M114.2 323.6h0M106.1 323.8h0M105.7 324.7h0M104.8 317.9h0M100.4 317.9h0M108.7 317.9h0M112.4 322.3h0M101.3 324.5h0M108 317.4h0M107.1 317.7h0M102.2 324.6h0M105.6 315.8h0M106.2 315.2h0M105 325.5h0M103.4 322.5h0M103.7 323.2h0M110.2 325.6h0M111.9 318.4h0M111.1 318.5h0M106.2 324.3h0M106.3 325h0M110.7 319h0M110.6 320h0M109.2 326.9h0M109.9 327.5h0M107.9 325.2h0M106.7 324.3h0M107.2 324.6h0M108.2 326.7h0M108.7 326.8h0M102.8 323.4h0M103.7 322.8h0M105.4 317.5h0M106.3 325.5h0M105.8 326.2h0M99.5 323.3h0M113.8 318.9h0M104.8 326.3h0M98.9 319.3h0M99.4 319.8h0M114.1 322.7h0M105.2 317.8h0M105.9 318.5h0M111.2 321.7h0M111 322.3h0M113.1 319.5h0M113.4 320h0M102 325h0M100.9 325.5h0M108.9 317.8h0M108.5 317.2h0M95.3 317.5h0M94.9 317.2h0M98.4 319.7h0M96.3 319h0M95.9 318.9h0M97.8 318.7h0M95.9 319h0M93 318.8h0M96.8 319.6h0M96.2 319.1h0M120.9 322h0M123.2 322.5h0M122.8 322.4h0M118.2 321.3h0M118.8 320.9h0M120.9 322.9h0M121.6 322h0M123.8 321.2h0M116.9 321h0M118 320.5h0M114.8 320.8h0M114.4 320.9h0M120.1 322h0M121.7 320.4h0M115.3 321.5h0M114.2 321.3h0M114.3 320.5h0M115.4 320.4h0M115.9 320.8h0M117.4 321.4h0M116.2 320h0M117 319.8h0M122 321.5h0M114.6 321.9h0M115.3 321.7h0M63.2 337.5h0M62.2 337.1h0M56.4 338.1h0M63.5 334.8h0M58.9 333.5h0M57.3 339h0M57 339.2h0M60.8 334.6h0M58.2 336.9h0M62.4 338h0M61.6 338.1h0M63.9 334h0M61 336.1h0M61.9 336.4h0M61.7 335.2h0M62.7 335.5h0M59.6 338.2h0M60.2 337.9h0M55.9 338.4h0M56.7 338h0M58.9 336h0M58.7 339.1h0M57.9 339.8h0M60.6 336.6h0M60.5 337.4h0M59.7 334.2h0M59.3 335.1h0M65 343h0" stroke="#e4212f" stroke-width="1.4" stroke-linecap="round" fill="none"/>
<g font-family="'Liberation Sans', sans-serif" font-size="3.0" fill="#a7b0c3">
<circle cx="137" cy="287" r="0.8" fill="#e3d38f"/>
<text x="141.5" y="288.3">UAV1</text>
<circle cx="137" cy="291.3" r="0.8" fill="#3557ee"/>
<text x="141.5" y="292.6">UAV2</text>
<circle cx="137" cy="295.7" r="0.8" fill="#9bedae"/>
<text x="141.5" y="297">UAV3</text>
<circle cx="137" cy="300" r="0.8" fill="#36df8d"/>
<text x="141.5" y="301.3">UAV4</text>
<circle cx="137" cy="304.4" r="0.8" fill="#c13be3"/>
<text x="141.5" y="305.7">UAV5</text>
<circle cx="137" cy="308.7" r="0.8" fill="#5023e6"/>
<text x="141.5" y="310">UAV6</text>
<circle cx="137" cy="313" r="0.8" fill="#e4212f"/>
<text x="141.5" y="314.3">UAV7</text>
</g>
</g>
<g>
<rect x="196.7" y="284.2" width="152.3" height="79.4" fill="#eaeaf2"/>
<g stroke="#fff" stroke-width="0.5" stroke-opacity="0.36">
<line x1="197.6" y1="284.2" x2="197.6" y2="363.6"/>
<line x1="220.4" y1="284.2" x2="220.4" y2="363.6"/>
<line x1="243.2" y1="284.2" x2="243.2" y2="363.6"/>
<line x1="266" y1="284.2" x2="266" y2="363.6"/>
<line x1="288.8" y1="284.2" x2="288.8" y2="363.6"/>
<line x1="311.6" y1="284.2" x2="311.6" y2="363.6"/>
<line x1="334.4" y1="284.2" x2="334.4" y2="363.6"/>
<line x1="196.7" y1="288" x2="349" y2="288"/>
<line x1="196.7" y1="301.2" x2="349" y2="301.2"/>
<line x1="196.7" y1="314.4" x2="349" y2="314.4"/>
<line x1="196.7" y1="327.6" x2="349" y2="327.6"/>
<line x1="196.7" y1="340.8" x2="349" y2="340.8"/>
<line x1="196.7" y1="354" x2="349" y2="354"/>
</g>
<text x="245.1" y="280.8" textLength="50.8" lengthAdjust="spacingAndGlyphs" font-family="'Liberation Serif', serif" font-size="8" fill="#222">ICA + t-SNE: 6</text>
<g font-family="'Liberation Sans', sans-serif" font-size="2.4" font-weight="bold" fill="#111">
<text x="197.6" y="367" text-anchor="middle">-30</text>
<text x="220.4" y="367" text-anchor="middle">-20</text>
<text x="243.2" y="367" text-anchor="middle">-10</text>
<text x="266" y="367" text-anchor="middle">0</text>
<text x="288.8" y="367" text-anchor="middle">10</text>
<text x="311.6" y="367" text-anchor="middle">20</text>
<text x="334.4" y="367" text-anchor="middle">30</text>
<text x="195.5" y="289.1" text-anchor="end">30</text>
<text x="195.5" y="302.3" text-anchor="end">20</text>
<text x="195.5" y="315.5" text-anchor="end">10</text>
<text x="195.5" y="328.7" text-anchor="end">0</text>
<text x="195.5" y="341.9" text-anchor="end">-10</text>
<text x="195.5" y="355.1" text-anchor="end">-20</text>
</g>
<path d="M248.5 325.5h0M260.5 322.7h0M261.2 323.8h0M268.8 314.1h0M269.6 313.4h0M251.2 323.9h0M249.2 328.6h0M250 328.2h0M272.2 317.9h0M270.5 317.1h0M271.5 316.6h0M253.5 328.1h0M246.2 328.5h0M265.5 321.6h0M246.1 332.4h0M259.4 318.8h0M260.1 321.7h0M248.7 327.9h0M247.8 325.8h0M266 317h0M256.2 317.2h0M246.7 329.4h0M262.6 320.3h0M246.6 328.4h0M246.9 327.3h0M246.3 328.9h0M259.1 321.9h0M259.2 322.7h0M250.8 327.8h0M249.9 327h0M259.6 319h0M259.9 318.1h0M250.8 324.9h0M268.2 309.8h0M267.1 309.6h0M265.5 321.9h0M266.1 322.9h0M266.3 316.3h0M266.8 315.8h0M253.3 320.2h0M252.6 320.8h0M255.6 323.9h0M255.6 324.8h0M248.2 327.9h0M246.1 327.2h0M245.6 331.2h0M246.5 331.1h0M253.6 325.9h0M249 328.7h0M247.7 328.8h0M260.3 319.3h0M252.4 320.4h0M260.1 320h0M265.6 310.9h0M265.8 311.7h0M250.9 326.7h0M269.2 314h0M270.2 314.1h0M263.8 318.8h0M272.2 314.8h0M256.6 318.3h0M255.2 318.4h0M261.3 318.9h0M259.3 314h0M258.2 314.2h0M254.6 323.2h0M254.3 322.7h0M260.2 317.8h0M259.3 318.5h0M255.9 320.9h0M243.7 328.6h0M261.4 319.4h0M242.7 324.5h0M242.5 323.5h0M267.7 318.7h0M267 318.7h0M245 326.2h0M246 326.3h0M271.8 320h0M272.7 320.5h0M261.8 320.7h0M261.2 320.2h0M260.2 317.1h0M270.2 317.3h0M252.6 325.2h0M253.8 325.3h0M255.6 321.9h0M264.8 316.9h0M267.5 312.4h0M268.7 313.3h0M252.6 324.2h0M250.4 327.9h0M250.4 324h0M262.6 320.3h0M264.5 323.4h0M251.9 317.2h0M252 316.5h0M265.2 320.1h0M270.1 313.2h0M271.1 312.6h0M271.8 318.4h0M272.5 318.4h0M251.9 325.2h0M250.9 324.6h0M269.3 314.8h0M268.4 310.3h0M267.7 310.9h0M256 318.6h0M261.7 317.3h0M260.8 317.6h0M260.3 316.2h0M261.5 315.5h0M259.8 319h0M265.5 318.5h0M266.6 318.4h0M245.4 331.8h0M244.7 330.7h0M253.6 325.3h0M259.5 322.2h0M258.8 322h0M248.6 328.3h0M249.8 328.7h0M262.2 318.3h0M268.1 320.1h0M260.6 320.4h0M248.3 325.9h0M255.4 320.5h0M254.3 321h0M247 330.6h0M246.7 329.8h0M272.2 316.1h0M271.8 315.2h0M245.1 324.7h0M244 325h0M262.7 318.3h0M263.9 318.8h0M270.4 317.5h0M248.6 330h0M246.9 329.8h0M257.4 322.9h0M256.5 323.3h0M269.8 315.8h0M269.7 315h0M256.5 322.5h0M257.3 322.8h0M262 322.8h0M263 323.7h0M264.8 321.2h0M263.8 321h0M243.4 329.3h0M255.2 317.3h0M234.7 318.9h0M281 330.6h0M272.2 323.8h0M273.2 323.9h0M265.4 326.8h0M271.4 324.6h0M270.7 324.1h0M279.7 322.6h0M282.9 323h0M271.9 332.3h0M271.7 331.5h0M280.8 335.7h0M279.8 335.8h0M285.1 324.1h0M267.9 325.2h0M268.5 324.7h0M269.8 332.4h0M270.1 329.2h0M267.6 324.7h0M275.7 321.7h0M277.9 331.8h0M279 331.1h0M285 323.6h0M272.7 324.7h0M290.1 331.2h0M286.2 323.1h0M285 322.9h0M267.4 322.5h0M268.5 323h0M285.9 329.8h0M266.3 331.6h0M287.6 332.3h0M286.8 331.7h0M284.4 328.5h0M266.2 329.6h0M265.2 329.6h0M274.5 331.4h0M273.6 331.2h0M274.2 334.8h0M274.5 335.5h0M290.1 324.1h0M266.8 328.5h0M285 331.6h0M286.2 332h0M285.6 320.9h0M284.8 321.9h0M269.2 324.5h0M287.7 326.5h0M287.9 327.8h0M277.6 331.2h0M270.9 327.2h0M276.7 334.2h0M275 334.6h0M276.3 334.8h0M270.3 332h0M270 333.3h0M271.7 326.4h0M284.1 324.8h0M285.2 325.4h0M278.8 322.3h0M277.7 322.3h0M283.6 332h0M289.2 328.1h0M287.5 323.5h0M286.6 323.1h0M274.7 334.9h0M273.2 334.7h0M276.7 331.4h0M264.5 327.6h0M265.5 328.4h0M275.5 335.9h0M274.7 336h0M275.3 335h0M275.5 335.7h0M272.4 330.8h0M273.3 331.7h0M290.4 327.1h0M290.4 326.6h0M271.5 332h0M273.3 334.4h0M267.8 323.3h0M273 331.8h0M275.7 334.6h0M269.7 327.7h0M270.6 329.1h0M270.2 329.8h0M288.6 325.8h0M289.2 325.4h0M271.3 331.3h0M288.5 322.1h0M288.7 321.2h0M284.6 329.5h0M268.1 324.3h0M281.8 322.3h0M278.2 334.1h0M285 322.9h0M270.7 331.8h0M265.6 328.4h0M264.8 327.7h0M271.3 325.1h0M275.4 332h0M275.3 335.6h0M274.4 335.7h0M272 332.8h0M277.4 333.7h0M276.7 334.1h0M275.8 319.7h0M276.6 320.5h0M264.7 325.8h0M281 335.3h0M281.3 334.4h0M287.9 328.1h0M286.9 329.3h0M270.4 332.2h0M270.9 321.1h0M283.4 321.5h0M282.5 321.8h0M279.1 332.6h0M273.4 332h0M268.7 332.1h0M278.6 332.2h0M283.6 326h0M282.5 326.3h0M266.6 327.2h0M280 322.8h0M280.3 323.7h0M267 331.4h0M271.8 333.4h0M272.6 333.4h0M270.6 329.7h0M271.1 330.2h0M266.4 330.5h0M269.3 332.6h0M268.7 331.6h0M284.6 331.2h0M285.6 330.7h0M281.3 320.3h0M288.2 332.5h0M272.8 323.3h0M273.3 324.1h0M272.6 326.8h0M272.1 325.6h0M271.6 334.7h0M270.5 322.6h0M269.7 323h0M269.3 324.7h0M288.9 327.5h0M270.7 331.1h0M269.7 331h0M274.4 323.3h0M274.9 323.2h0M270.5 328.9h0M273.1 329.9h0M287.1 326h0M286.1 326h0M286.7 325.9h0M265.3 325.9h0M272.3 333h0M273.3 333.3h0M264.7 329.3h0M268.1 332.8h0M283.2 320.4h0M273.8 324.1h0M288.2 333.5h0M288 325.3h0M288.5 325h0M283.9 334.4h0M284.4 335.3h0M269.6 329.6h0M289.7 327h0M288.6 327.4h0M263.7 343h0M262.3 342.5h0M254.6 343.6h0M264 339.9h0M257.9 338.5h0M255.8 344.6h0M255.4 344.8h0M260.5 339.7h0M256.9 342.3h0M262.5 343.5h0M261.5 343.6h0M264.5 339h0M260.7 341.3h0M261.9 341.7h0M261.6 340.3h0M262.9 340.7h0M258.9 343.7h0M259.7 343.4h0M254 343.9h0M255.1 343.5h0M257.8 341.3h0M257.6 344.7h0M256.6 345.5h0M260.2 342h0M260.1 342.8h0M258.9 339.3h0M258.5 340.2h0M266 349.1h0" stroke="#4c72b0" stroke-width="0.9" stroke-linecap="round" fill="none" stroke-opacity="0.5"/>
<path d="M294.6 294.8h0M294.3 303.2h0M294.1 302.4h0M291.2 304.9h0M292.3 304.7h0M281.9 294h0M282.1 293.1h0M292.9 297.8h0M293.5 297.3h0M292 297.9h0M273.3 295.1h0M273 295.6h0M285.1 294.7h0M284.9 295.5h0M294 297.3h0M270.4 297.5h0M273.1 300.2h0M272.4 299.6h0M272.7 305.4h0M272 305.3h0M280.4 306.9h0M288 306.3h0M298.8 303.3h0M289.2 304.9h0M294.2 301.1h0M293.2 300.9h0M289.9 293.4h0M296.5 302.6h0M295.6 303.2h0M286.2 294.7h0M286.4 293.6h0M279.1 294.5h0M280.1 294.8h0M273.1 305.4h0M273.4 306.7h0M298.1 296.6h0M281.2 307.9h0M280.4 308.9h0M282.9 291.8h0M283.2 292.8h0M279.1 292.4h0M293.7 298h0M292.9 298.1h0M290.1 306.3h0M290.8 305.9h0M290.3 292.9h0M290.6 294.1h0M276.3 295.8h0M281.7 307.5h0M279.2 292.2h0M296.7 303.4h0M296.2 302.4h0M273.7 295.4h0M271.6 302.2h0M282.6 295.1h0M281.6 295h0M284 295.3h0M291.5 295.5h0M276.7 304.3h0M284.7 305.4h0M285 306.3h0M272.9 297.2h0M281.6 308.9h0M282.3 308.1h0M295.8 302.3h0M295 302.4h0M278.6 305.4h0M278.3 306h0M273.8 296.5h0M273.6 295.5h0M290.1 306.4h0M289.4 305.9h0M291.3 293.3h0M298.3 303.6h0M291.8 305.6h0M272.4 304.2h0M285.2 293h0M295.5 298.8h0M296.3 298.9h0M273.4 298.6h0M289.7 307.3h0M290.6 307.1h0M293.5 299.5h0M292.3 294.4h0M292.6 297h0M268.9 300.9h0M277.2 298.2h0M276.1 297.6h0M293.7 296.3h0M294.7 296.3h0M295.4 297.7h0M296.2 297.8h0M276.7 296.1h0M275.4 296.2h0M276.1 294.2h0M276.9 293.6h0M285.2 305.8h0M285 306.5h0M280.5 307.2h0M269.3 300.3h0M268.8 300.4h0M292.1 295.7h0M293 295.6h0M292.6 304.9h0M287.8 293.4h0M287.8 292.6h0M271.4 296.4h0M277.2 303.2h0M281.2 306.5h0M287.8 306.3h0M287.2 306.6h0M296.2 294.5h0M283.8 292.3h0M283.4 291.4h0M277.3 306.8h0M289.3 295.3h0M288.3 294.8h0M274.9 304.6h0M291.8 295.4h0M292.3 296.2h0M297.2 303.9h0M296.4 304.6h0M279.9 296.1h0M279.2 295.5h0M273.6 302.6h0M292.2 307.4h0M292.8 307.6h0M289.1 304.6h0M299.5 305.3h0M304.3 309.2h0M305 308.4h0M307 310.9h0M307.8 310.4h0M301.1 308h0M302.2 306.1h0M306.1 310.4h0M305.8 311.4h0M308.7 310.8h0M308.5 310.4h0M299.6 304.5h0M300.2 303.8h0M309 311.8h0M307.3 308.9h0M304.6 312.7h0M303.5 310.1h0M307.4 310.9h0M306.5 311.8h0M280.1 300.6h0M280.5 301.2h0M280.8 302.1h0M284.1 298.9h0M285.1 298.4h0M280.2 299.6h0M284 301.1h0M278.9 301.2h0M277.8 301.5h0" stroke="#64b5cd" stroke-width="0.9" stroke-linecap="round" fill="none" stroke-opacity="0.5"/>
<path d="M266.3 338.5h0M271.4 345.3h0M266.2 342.8h0M273.3 343.2h0M273.9 340.2h0M273.2 344.7h0M267.6 341.7h0M270.4 344.7h0M267.7 340.4h0M256.7 351.9h0M261.4 354.7h0M263.3 345.7h0M298.8 353.7h0M302.9 354.2h0M304.1 354.4h0M291.3 358h0M290.2 357.4h0M304.6 356.9h0M305.4 356.6h0M306.4 348.7h0M305.7 349.4h0M283.4 354.5h0M283.8 355.4h0M301.2 341.7h0M313.3 348.7h0M291.5 353.5h0M289.2 347.1h0M300.8 342.2h0M300.4 342.8h0M316.3 350.3h0M289.8 343.9h0M290.9 343.5h0M304 356.6h0M293.3 343.8h0M304.9 342.8h0M317.2 350.1h0M318 349.7h0M298.9 341.1h0M299.8 341.5h0M308.1 355.2h0M299.1 358.9h0M285.5 346.2h0M281 348.3h0M290.6 354h0M297.1 358.4h0M293.7 344.5h0M288.1 350.6h0M289.1 350h0M293.8 343.1h0M294.2 342.5h0M288.6 343.5h0M289.6 342.8h0M289.2 351h0M289.1 348.7h0M293 345.4h0M301 359.5h0M297.1 340.9h0M296.6 341.9h0M287 343.2h0M287.2 343.7h0M282.3 347.1h0M305.9 346.1h0M301.8 343.9h0M291.1 356.1h0M290.8 355.5h0M297 353.3h0M308.7 352.1h0M310 351.8h0M313.1 348.7h0M314 348.4h0M297.9 359.6h0M299.1 359.9h0M290 343.9h0M289.1 347.6h0M288.2 347.9h0M289.2 346.8h0M304.5 347.1h0M304.2 346h0M307 350.9h0M309.6 357h0M303.8 354.8h0M318.3 352.9h0M287.7 356.9h0M305.2 345.7h0M285.3 354.3h0M312.9 355h0M295.5 358.2h0M296 357.5h0M308.8 342.7h0M306.5 344.7h0M306.6 345.3h0M283.1 350.3h0M299.6 340.8h0M292.3 342.7h0M293 342.9h0M293 359.1h0M294.8 353.1h0M294 353h0M301 347.2h0M300.4 342.9h0M290.1 356h0M316.5 347.7h0M303.8 344.2h0M290.7 356.5h0M301.6 343.2h0M301.2 342.9h0M298.1 354.5h0M299.3 354.8h0M311.2 355.1h0M312.1 355h0M283.4 346.1h0M313.6 353.6h0M314.5 353h0M307.6 348.8h0M286.2 356.1h0M287.6 356.1h0M293 352.5h0M294 351.5h0M292.6 353.9h0M314.8 350.2h0M284.6 351.9h0M285.9 351.8h0M292.1 350h0M292 350.8h0M316.2 350.6h0M305.8 348.1h0M311.4 343.8h0M312.3 344.2h0M299.9 357.9h0M291.4 355.8h0M291.1 356.8h0M310.3 349.6h0M296 341.4h0M296.1 358.3h0M295.2 357.5h0M316.9 349.6h0M316 349h0M300.4 346.7h0M299.7 346h0M288.3 350.1h0M289 349.8h0M297.2 356.3h0M296.6 356.7h0M289 348.7h0M289.5 349.4h0M314.8 355.5h0M313.7 355.2h0M312.4 345.4h0M285.8 343.4h0M303.3 359.1h0" stroke="#55a868" stroke-width="0.9" stroke-linecap="round" fill="none" stroke-opacity="0.5"/>
<path d="M209.7 334h0M204.2 332.2h0M204.7 334.1h0M205.7 334.9h0M204.7 333.4h0M205.4 332.7h0M203.7 334h0M203 334.6h0M203 333.7h0M203.5 334.6h0M214.3 330.3h0M213.5 330.9h0M218 330.1h0M217.6 329.3h0M215.4 329.5h0M218.7 330.7h0M215.8 329.5h0M215.2 330.1h0M216.3 333h0M215.1 333.1h0M218.1 332.8h0M225.9 330.8h0M226.5 330.2h0M226.8 331.1h0M224.6 330.8h0M223.8 329.9h0M225.5 329.5h0M230.9 330.4h0M230.3 331h0M225.7 330.7h0M227.1 331.5h0M228.1 331.3h0M226.9 331.5h0M221.2 338.5h0M225.8 340.5h0M226.7 340.9h0M220.2 338.8h0M220.9 338.4h0M226.7 339.9h0M226.2 340.7h0M221.1 340.2h0M224.5 337.1h0M224.9 337h0M221.3 339.2h0M220.7 339.4h0M220.1 346.8h0M220.2 346.2h0M219.7 342.6h0M218.4 343.4h0M220 342.9h0M219 343.4h0M217 344.2h0M221.5 345.5h0M222.8 344h0M222.1 346.2h0M224.6 347.3h0M225.2 348.6h0M222.3 348.9h0M221.7 350h0M225.8 349.8h0M226.2 351.1h0M227 350.4h0M225.9 347.2h0M222.6 348.7h0M238.3 337.1h0M234.5 338.6h0M234.2 338.3h0M234.3 339.6h0M238.3 338.2h0M238.9 339.2h0M235.1 338.2h0M234.5 337.6h0M236.6 338.2h0M237.5 336.9h0M234.1 338.1h0M235.3 337.5h0M236.4 337.2h0M237.5 337.8h0M238.9 344.7h0M241.7 343.4h0M240.8 345.3h0M243 344.5h0M242.9 343.8h0M238.5 345.4h0M240.1 344.5h0M241 344.4h0M240.3 344.7h0M237.8 344.1h0M234.4 352.7h0M234.6 351.5h0M236.8 352.9h0M236.4 352.2h0M236.9 353.4h0M235.4 353.1h0M233.9 353.2h0M236.3 351.3h0M237.7 351.6h0M236.9 352.9h0M233.5 351.9h0M233.5 352.9h0M208.5 336.9h0M212.4 336.6h0M209.2 337.2h0M210.7 335.5h0M213.9 335.5h0M213.3 337.1h0M213.7 337.8h0M212.3 335.7h0M211.2 335.2h0M227 333.3h0M231.5 333h0M230.8 332.6h0M230.6 334h0M230 334.6h0M227.2 333.8h0M228.7 333h0M231.9 335.2h0M231.5 335.2h0M229.9 332.5h0M233.6 334.2h0M221.2 341.4h0M220.4 341.2h0M216.5 342.7h0M221.3 340.4h0M220.9 341.2h0M218.6 340.2h0M217 342.3h0M218.1 342.6h0M216.2 342.9h0M217.4 342.4h0M217.5 339.8h0M216.4 339.5h0M216 339.4h0M202.9 334.9h0M201.4 335.1h0M202 333.4h0M202.7 332.5h0M205 333.2h0M205.8 332.8h0M205.9 336.3h0M201 334.7h0M205.2 334.4h0M206 334.1h0M204 335.8h0M206.9 335.5h0M240.6 349.5h0M242.9 348.8h0M243.8 351.5h0M243.6 352.7h0M239.8 350.3h0M240.1 349.8h0M241.5 348.7h0M243.7 349.1h0M244.6 349.5h0M244.1 350.5h0M245.1 349.9h0" stroke="#8172b2" stroke-width="0.9" stroke-linecap="round" fill="none" stroke-opacity="0.5"/>
<path d="M245.9 308h0M246.4 307.3h0M228 302.8h0M227.4 303h0M252.7 303.7h0M254.1 297.3h0M255.2 297.6h0M228.9 302.6h0M227.9 302h0M224 297.9h0M224.7 298.6h0M224.1 294.9h0M223 294.3h0M235.9 305.6h0M235.7 304.5h0M250.9 303.3h0M225.9 303h0M250.6 302.6h0M251.8 303h0M222 299.8h0M221 299.5h0M224.9 294h0M252.1 302h0M223.3 298.9h0M250.8 305.2h0M250 305.7h0M232.4 292.4h0M233.4 293.3h0M225.8 304.9h0M246 308.6h0M250.3 304.2h0M253.4 296.8h0M252.6 296.9h0M233.7 306.8h0M230.5 292.5h0M229.6 292.1h0M255.1 299.7h0M233.8 304.9h0M222.6 300.5h0M244.7 306.9h0M245.5 308.1h0M228.5 291.5h0M227.5 291.7h0M230.5 304h0M252.2 303.7h0M228 303.1h0M227.7 302.4h0M257.5 298.2h0M224.4 295.3h0M222.2 299.3h0M229.8 294h0M230.1 294.4h0M253.1 305.5h0M238.7 306.3h0M238.1 305.4h0M225 300.3h0M225.7 301.7h0M249.1 305.4h0M225.5 299.5h0M230.6 293.2h0M226.4 296.1h0M234.8 292.3h0M250.8 302.1h0M226.5 295.2h0M239 307h0M237.8 306.3h0M246.8 307.9h0M225.2 299.7h0M224.5 300.4h0M252.4 296.5h0M242.5 306.8h0M241.4 306.1h0M224.7 302.5h0M225.6 301.8h0M254.8 301.9h0M227.5 297.1h0M228.3 297.1h0M244.2 306.2h0M244 305.4h0M225.9 294.8h0M222.7 298.3h0M222.3 299.3h0M227.5 294.8h0M227.5 294.1h0M223 297.4h0M222.3 298.3h0M254.4 295.5h0M224.3 301.9h0M230.2 293h0M224.3 301.5h0M225.4 301.5h0M232.5 307.3h0M245.5 307.5h0M245.2 306.7h0M235.3 306.9h0M252.4 304.3h0M229.5 293.6h0M228.5 293.4h0M229.9 293.8h0M235 290.7h0M238.9 308.5h0M239.9 309h0M252.7 299.7h0M253.7 300.6h0M227.7 295.1h0M228.8 294.8h0M243.8 308.3h0M243 308.8h0M224.8 303.1h0M225.1 304h0M235.3 291.7h0M236.6 305.2h0M226.9 291.8h0M225.7 298h0M224.6 297.7h0M224 300.3h0M223.8 301.3h0M235.6 306.5h0M235.5 306.2h0M252.2 295.9h0M251.7 295.8h0M256.4 296.7h0M256.1 297.3h0M231.5 292.9h0M231.3 292h0M226.9 296.2h0M226.4 295.9h0M253.9 299.7h0M255.2 299.3h0M227.5 296.3h0M255.2 303h0M257.2 298.4h0M256.1 298.4h0M228.2 292.3h0M229 291.6h0M247.2 306.9h0M226.5 299.6h0M225.4 299.4h0M254.7 298.3h0M227.4 306.2h0M226.7 305h0M225.8 293.6h0M235.1 296.3h0M238.1 296.9h0M245.1 292.3h0M245.8 291.6h0M245.8 292.4h0M236.9 296.1h0M235.7 296.2h0M241.9 292.6h0M242.5 293.4h0M239.7 295.7h0M241 296.2h0M244.9 293.2h0M244.2 295.5h0M242.4 295.2h0M246.4 295.7h0M236.4 296.9h0M235.2 296.9h0M234.5 295.9h0M233.3 295.4h0M241.6 297.3h0M245.2 293.9h0M248.9 294.7h0M237.5 294.8h0M236.9 294.5h0M236.3 295.3h0M236.3 294.5h0M244.1 294.5h0M244.7 294.8h0M229.9 291.4h0M230.9 291.5h0M234.5 289.3h0M224.6 292.9h0M225.4 292.7h0M225.2 291.3h0M225.4 291.7h0M236.8 288.6h0M237.3 287.9h0M224.8 292.4h0M224.9 292.9h0M227.8 291.8h0M228.4 291.6h0M236.6 288h0M230.7 290h0M239.6 288.6h0M238.6 287.5h0M233.2 291.1h0M240.8 289.1h0M228.1 292.3h0M228.9 291.5h0M252.6 296.8h0M254.2 299.7h0M255.1 300.2h0M256.3 300.7h0M254 300.1h0M255.2 300.7h0M254.5 299.8h0M251.2 299.2h0M266 288h0M266.4 288.2h0" stroke="#c44e52" stroke-width="0.9" stroke-linecap="round" fill="none" stroke-opacity="0.5"/>
<path d="M316.7 321.9h0M315.7 321.6h0M332 323.5h0M330.7 322.9h0M326.8 327.2h0M327.9 328.1h0M314.9 322.9h0M311.4 326.7h0M324.3 320.6h0M318 330.7h0M312.9 323.6h0M313.5 323.1h0M312.3 321.7h0M312.5 320.8h0M328.5 325.8h0M327.5 329.4h0M326.7 328.7h0M318.3 322.1h0M318.7 321.3h0M323.4 327.9h0M327.8 324.1h0M327 324.6h0M320.6 330.9h0M321.7 330.5h0M328.3 323.6h0M329.1 323.1h0M321.3 319.7h0M322.3 318.9h0M327.2 326.8h0M327.5 327.6h0M318.4 327.1h0M330.1 320.4h0M329.4 319.6h0M324.5 321.2h0M328.8 321h0M330.6 326.4h0M315.2 328.2h0M315.7 328.5h0M331.9 326.5h0M330 320.6h0M325.2 327.2h0M317 318.6h0M317.1 319.6h0M311.8 327.2h0M313.3 322h0M313 322.8h0M314.2 326.8h0M315 326.2h0M327.2 323.7h0M327.8 323.5h0M324.9 329.7h0M325.3 331h0M326.7 327.1h0M327.7 327.1h0M322.8 319.5h0M322.8 318.3h0M325.5 318.4h0M325.8 319.5h0M313.6 322.5h0M314.9 328.9h0M326.1 330.3h0M320.5 327.9h0M321.2 327.3h0M315.3 327.8h0M315.5 326.9h0M317.1 321.2h0M313.3 324.1h0M312.7 323.1h0M314.2 326.1h0M325.2 320.4h0M325 319.5h0M327.5 328.5h0M327 329.2h0M330.7 328.1h0M331.2 327.3h0M320.5 327.6h0M320 328.6h0M318.8 321h0M312.9 321h0M323.9 321h0M328.8 325.9h0M314.1 328.4h0M322.9 320.4h0M321.7 320.8h0M315.3 328.5h0M319.8 318.6h0M320.6 318h0M319 329.5h0M316.9 326.1h0M317.4 326.9h0M326 329.7h0M328.2 321.5h0M327.1 321.7h0M320.7 328.2h0M320.8 329h0M326.5 322.2h0M326.4 323.3h0M324.6 331.1h0M325.5 331.8h0M322.9 329.1h0M321.3 328.2h0M322 328.5h0M323.3 330.8h0M323.9 331h0M316.1 327.1h0M317.4 326.5h0M319.6 320.5h0M320.8 329.6h0M320.1 330.3h0M311.8 327.1h0M330.7 322.2h0M318.7 330.4h0M311 322.6h0M311.6 323.2h0M331 326.4h0M319.3 320.9h0M320.2 321.6h0M327.3 325.2h0M327 325.9h0M329.8 322.8h0M330.2 323.3h0M315 329h0M313.6 329.4h0M324.2 320.9h0M323.7 320.2h0M306.2 320.5h0M305.6 320.3h0M310.3 323h0M307.6 322.3h0M306.9 322.1h0M309.5 321.8h0M306.9 322.2h0M303.2 322h0M308.2 322.9h0M307.3 322.4h0M340.1 325.6h0M343.2 326.2h0M342.7 326.1h0M336.5 324.8h0M337.3 324.3h0M340.2 326.6h0M341 325.6h0M344 324.7h0M334.8 324.5h0M336.3 323.9h0M332 324.3h0M331.5 324.4h0M339.1 325.6h0M341.1 323.8h0M332.6 325h0M331.2 324.8h0M331.4 324h0M332.8 323.8h0M333.5 324.3h0M335.4 325h0M333.9 323.4h0M335 323.1h0M341.5 325h0M331.7 325.4h0M332.7 325.3h0" stroke="#ccb974" stroke-width="0.9" stroke-linecap="round" fill="none" stroke-opacity="0.5"/>
<circle cx="237.6" cy="299" r="1.4" fill="#1f0c0d" stroke="#c44e52" stroke-width="0.4" stroke-opacity="0.55"/>
<circle cx="289.4" cy="301" r="1.4" fill="#101c20" stroke="#64b5cd" stroke-width="0.4" stroke-opacity="0.55"/>
<circle cx="262" cy="321.6" r="1.4" fill="#0c121c" stroke="#4c72b0" stroke-width="0.4" stroke-opacity="0.55"/>
<circle cx="226.6" cy="339" r="1.4" fill="#14121c" stroke="#8172b2" stroke-width="0.4" stroke-opacity="0.55"/>
<circle cx="324.4" cy="324.4" r="1.4" fill="#201d12" stroke="#ccb974" stroke-width="0.4" stroke-opacity="0.55"/>
<circle cx="299.4" cy="350" r="1.4" fill="#0d1a10" stroke="#55a868" stroke-width="0.4" stroke-opacity="0.55"/>
</g>
<g>
<rect x="394.5" y="284.2" width="152.3" height="79.4" fill="#eaeaf2"/>
<g stroke="#fff" stroke-width="0.5" stroke-opacity="0.36">
<line x1="395.4" y1="284.2" x2="395.4" y2="363.6"/>
<line x1="418.2" y1="284.2" x2="418.2" y2="363.6"/>
<line x1="441" y1="284.2" x2="441" y2="363.6"/>
<line x1="463.8" y1="284.2" x2="463.8" y2="363.6"/>
<line x1="486.6" y1="284.2" x2="486.6" y2="363.6"/>
<line x1="509.4" y1="284.2" x2="509.4" y2="363.6"/>
<line x1="532.2" y1="284.2" x2="532.2" y2="363.6"/>
<line x1="394.5" y1="288" x2="546.8" y2="288"/>
<line x1="394.5" y1="301.2" x2="546.8" y2="301.2"/>
<line x1="394.5" y1="314.4" x2="546.8" y2="314.4"/>
<line x1="394.5" y1="327.6" x2="546.8" y2="327.6"/>
<line x1="394.5" y1="340.8" x2="546.8" y2="340.8"/>
<line x1="394.5" y1="354" x2="546.8" y2="354"/>
</g>
<text x="442.9" y="280.8" textLength="50.8" lengthAdjust="spacingAndGlyphs" font-family="'Liberation Serif', serif" font-size="8" fill="#222">ICA + t-SNE: 4</text>
<g font-family="'Liberation Sans', sans-serif" font-size="2.4" font-weight="bold" fill="#111">
<text x="395.4" y="367" text-anchor="middle">-30</text>
<text x="418.2" y="367" text-anchor="middle">-20</text>
<text x="441" y="367" text-anchor="middle">-10</text>
<text x="463.8" y="367" text-anchor="middle">0</text>
<text x="486.6" y="367" text-anchor="middle">10</text>
<text x="509.4" y="367" text-anchor="middle">20</text>
<text x="532.2" y="367" text-anchor="middle">30</text>
<text x="393.3" y="289.1" text-anchor="end">30</text>
<text x="393.3" y="302.3" text-anchor="end">20</text>
<text x="393.3" y="315.5" text-anchor="end">10</text>
<text x="393.3" y="328.7" text-anchor="end">0</text>
<text x="393.3" y="341.9" text-anchor="end">-10</text>
<text x="393.3" y="355.1" text-anchor="end">-20</text>
</g>
<path d="M446.3 325.5h0M458.3 322.7h0M459 323.8h0M449 323.9h0M447 328.6h0M447.8 328.2h0M451.3 328.1h0M444 328.5h0M443.9 332.4h0M457.9 321.7h0M446.5 327.9h0M445.6 325.8h0M444.5 329.4h0M444.4 328.4h0M444.7 327.3h0M444.1 328.9h0M456.9 321.9h0M457 322.7h0M448.6 327.8h0M447.7 327h0M448.6 324.9h0M463.3 321.9h0M463.9 322.9h0M451.1 320.2h0M450.4 320.8h0M453.4 323.9h0M453.4 324.8h0M446 327.9h0M443.9 327.2h0M443.4 331.2h0M444.3 331.1h0M451.4 325.9h0M446.8 328.7h0M445.5 328.8h0M450.2 320.4h0M448.7 326.7h0M452.4 323.2h0M452.1 322.7h0M453.7 320.9h0M441.5 328.6h0M440.5 324.5h0M440.3 323.5h0M442.8 326.2h0M443.8 326.3h0M450.4 325.2h0M451.6 325.3h0M453.4 321.9h0M450.4 324.2h0M448.2 327.9h0M448.2 324h0M462.3 323.4h0M449.7 325.2h0M448.7 324.6h0M443.2 331.8h0M442.5 330.7h0M451.4 325.3h0M457.3 322.2h0M456.6 322h0M446.4 328.3h0M447.6 328.7h0M446.1 325.9h0M453.2 320.5h0M452.1 321h0M444.8 330.6h0M444.5 329.8h0M442.9 324.7h0M441.8 325h0M446.4 330h0M444.7 329.8h0M455.2 322.9h0M454.3 323.3h0M454.3 322.5h0M455.1 322.8h0M459.8 322.8h0M460.8 323.7h0M441.2 329.3h0M432.5 318.9h0M463.2 326.8h0M468.5 324.1h0M469.7 332.3h0M469.5 331.5h0M465.7 325.2h0M466.3 324.7h0M467.6 332.4h0M467.9 329.2h0M465.4 324.7h0M465.2 322.5h0M466.3 323h0M464.1 331.6h0M464 329.6h0M463 329.6h0M464.6 328.5h0M467 324.5h0M468.7 327.2h0M468.1 332h0M467.8 333.3h0M469.5 326.4h0M462.3 327.6h0M463.3 328.4h0M470.2 330.8h0M469.3 332h0M465.6 323.3h0M467.5 327.7h0M468.4 329.1h0M468 329.8h0M469.1 331.3h0M465.9 324.3h0M468.5 331.8h0M463.4 328.4h0M462.6 327.7h0M469.1 325.1h0M469.8 332.8h0M462.5 325.8h0M468.2 332.2h0M466.5 332.1h0M464.4 327.2h0M464.8 331.4h0M468.4 329.7h0M468.9 330.2h0M464.2 330.5h0M467.1 332.6h0M466.5 331.6h0M470.4 326.8h0M467.5 323h0M467.1 324.7h0M468.5 331.1h0M467.5 331h0M468.3 328.9h0M470.9 329.9h0M463.1 325.9h0M462.5 329.3h0M465.9 332.8h0M467.4 329.6h0M407.5 334h0M402 332.2h0M402.5 334.1h0M403.5 334.9h0M402.5 333.4h0M403.2 332.7h0M401.5 334h0M400.8 334.6h0M400.8 333.7h0M401.3 334.6h0M412.1 330.3h0M411.3 330.9h0M415.8 330.1h0M415.4 329.3h0M413.2 329.5h0M416.5 330.7h0M413.6 329.5h0M413 330.1h0M414.1 333h0M412.9 333.1h0M415.9 332.8h0M423.7 330.8h0M424.3 330.2h0M424.6 331.1h0M422.4 330.8h0M421.6 329.9h0M423.3 329.5h0M428.7 330.4h0M428.1 331h0M423.5 330.7h0M424.9 331.5h0M425.9 331.3h0M424.7 331.5h0M419 338.5h0M423.6 340.5h0M424.5 340.9h0M418 338.8h0M418.7 338.4h0M424.5 339.9h0M424 340.7h0M418.9 340.2h0M422.3 337.1h0M422.7 337h0M419.1 339.2h0M418.5 339.4h0M417.9 346.8h0M418 346.2h0M417.5 342.6h0M416.2 343.4h0M417.8 342.9h0M416.8 343.4h0M414.8 344.2h0M419.3 345.5h0M420.6 344h0M419.9 346.2h0M422.4 347.3h0M423 348.6h0M420.1 348.9h0M419.5 350h0M423.6 349.8h0M424 351.1h0M424.8 350.4h0M423.7 347.2h0M420.4 348.7h0M436.1 337.1h0M432.3 338.6h0M432 338.3h0M432.1 339.6h0M436.1 338.2h0M436.7 339.2h0M432.9 338.2h0M432.3 337.6h0M434.4 338.2h0M435.3 336.9h0M431.9 338.1h0M433.1 337.5h0M434.2 337.2h0M435.3 337.8h0M436.7 344.7h0M439.5 343.4h0M438.6 345.3h0M440.8 344.5h0M440.7 343.8h0M436.3 345.4h0M437.9 344.5h0M438.8 344.4h0M438.1 344.7h0M435.6 344.1h0M432.2 352.7h0M432.4 351.5h0M434.6 352.9h0M434.2 352.2h0M434.7 353.4h0M433.2 353.1h0M431.7 353.2h0M434.1 351.3h0M435.5 351.6h0M434.7 352.9h0M431.3 351.9h0M431.3 352.9h0M406.3 336.9h0M410.2 336.6h0M407 337.2h0M408.5 335.5h0M411.7 335.5h0M411.1 337.1h0M411.5 337.8h0M410.1 335.7h0M409 335.2h0M424.8 333.3h0M429.3 333h0M428.6 332.6h0M428.4 334h0M427.8 334.6h0M425 333.8h0M426.5 333h0M429.7 335.2h0M429.3 335.2h0M427.7 332.5h0M431.4 334.2h0M419 341.4h0M418.2 341.2h0M414.3 342.7h0M419.1 340.4h0M418.7 341.2h0M416.4 340.2h0M414.8 342.3h0M415.9 342.6h0M414 342.9h0M415.2 342.4h0M415.3 339.8h0M414.2 339.5h0M413.8 339.4h0M400.7 334.9h0M399.2 335.1h0M399.8 333.4h0M400.5 332.5h0M402.8 333.2h0M403.6 332.8h0M403.7 336.3h0M398.8 334.7h0M403 334.4h0M403.8 334.1h0M401.8 335.8h0M404.7 335.5h0M438.4 349.5h0M440.7 348.8h0M441.6 351.5h0M441.4 352.7h0M437.6 350.3h0M437.9 349.8h0M439.3 348.7h0M441.5 349.1h0M442.4 349.5h0M441.9 350.5h0M442.9 349.9h0M461.5 343h0M460.1 342.5h0M452.4 343.6h0M461.8 339.9h0M455.7 338.5h0M453.6 344.6h0M453.2 344.8h0M458.3 339.7h0M454.7 342.3h0M460.3 343.5h0M459.3 343.6h0M462.3 339h0M458.5 341.3h0M459.7 341.7h0M459.4 340.3h0M460.7 340.7h0M456.7 343.7h0M457.5 343.4h0M451.8 343.9h0M452.9 343.5h0M455.6 341.3h0M455.4 344.7h0M454.4 345.5h0M458 342h0M457.9 342.8h0M456.7 339.3h0M456.3 340.2h0M464.1 338.5h0M454.5 351.9h0" stroke="#4c72b0" stroke-width="0.9" stroke-linecap="round" fill="none" stroke-opacity="0.5"/>
<path d="M492.1 303.2h0M491.9 302.4h0M489 304.9h0M490.1 304.7h0M490.7 297.8h0M491.3 297.3h0M491.8 297.3h0M485.8 306.3h0M496.6 303.3h0M487 304.9h0M492 301.1h0M491 300.9h0M494.3 302.6h0M493.4 303.2h0M495.9 296.6h0M491.5 298h0M490.7 298.1h0M487.9 306.3h0M488.6 305.9h0M494.5 303.4h0M494 302.4h0M482.8 306.3h0M493.6 302.3h0M492.8 302.4h0M487.9 306.4h0M487.2 305.9h0M496.1 303.6h0M489.6 305.6h0M493.3 298.8h0M494.1 298.9h0M487.5 307.3h0M488.4 307.1h0M491.3 299.5h0M492.5 296.3h0M493.2 297.7h0M494 297.8h0M483 305.8h0M482.8 306.5h0M490.4 304.9h0M485.6 306.3h0M485 306.6h0M494 294.5h0M495 303.9h0M494.2 304.6h0M490 307.4h0M490.6 307.6h0M486.9 304.6h0M497.3 305.3h0M502.1 309.2h0M502.8 308.4h0M504.8 310.9h0M505.6 310.4h0M498.9 308h0M500 306.1h0M503.9 310.4h0M503.6 311.4h0M506.5 310.8h0M506.3 310.4h0M497.4 304.5h0M498 303.8h0M506.8 311.8h0M505.1 308.9h0M502.4 312.7h0M501.3 310.1h0M505.2 310.9h0M504.3 311.8h0M470.5 320.5h0M470 323.8h0M471 323.9h0M469.2 324.6h0M477.5 322.6h0M480.7 323h0M482.9 324.1h0M473.5 321.7h0M482.8 323.6h0M470.5 324.7h0M487.9 331.2h0M484 323.1h0M482.8 322.9h0M483.7 329.8h0M482.2 328.5h0M487.9 324.1h0M483.4 320.9h0M482.6 321.9h0M485.5 326.5h0M485.7 327.8h0M481.9 324.8h0M483 325.4h0M476.6 322.3h0M475.5 322.3h0M487 328.1h0M485.3 323.5h0M484.4 323.1h0M488.2 327.1h0M488.2 326.6h0M486.4 325.8h0M487 325.4h0M486.3 322.1h0M486.5 321.2h0M482.4 329.5h0M479.6 322.3h0M482.8 322.9h0M473.6 319.7h0M474.4 320.5h0M485.7 328.1h0M484.7 329.3h0M468.7 321.1h0M481.2 321.5h0M480.3 321.8h0M481.4 326h0M480.3 326.3h0M477.8 322.8h0M478.1 323.7h0M483.4 330.7h0M479.1 320.3h0M470.6 323.3h0M471.1 324.1h0M469.9 325.6h0M468.3 322.6h0M486.7 327.5h0M472.2 323.3h0M472.7 323.2h0M484.9 326h0M483.9 326h0M484.5 325.9h0M481 320.4h0M471.6 324.1h0M485.8 325.3h0M486.3 325h0M487.5 327h0M486.4 327.4h0M514.5 321.9h0M513.5 321.6h0M529.8 323.5h0M528.5 322.9h0M524.6 327.2h0M525.7 328.1h0M512.7 322.9h0M509.2 326.7h0M522.1 320.6h0M515.8 330.7h0M510.7 323.6h0M511.3 323.1h0M510.1 321.7h0M510.3 320.8h0M526.3 325.8h0M525.3 329.4h0M524.5 328.7h0M516.1 322.1h0M516.5 321.3h0M521.2 327.9h0M525.6 324.1h0M524.8 324.6h0M518.4 330.9h0M519.5 330.5h0M526.1 323.6h0M526.9 323.1h0M519.1 319.7h0M520.1 318.9h0M525 326.8h0M525.3 327.6h0M516.2 327.1h0M527.9 320.4h0M527.2 319.6h0M522.3 321.2h0M526.6 321h0M528.4 326.4h0M513 328.2h0M513.5 328.5h0M529.7 326.5h0M527.8 320.6h0M523 327.2h0M514.8 318.6h0M514.9 319.6h0M509.6 327.2h0M511.1 322h0M510.8 322.8h0M512 326.8h0M512.8 326.2h0M525 323.7h0M525.6 323.5h0M522.7 329.7h0M523.1 331h0M524.5 327.1h0M525.5 327.1h0M520.6 319.5h0M520.6 318.3h0M523.3 318.4h0M523.6 319.5h0M511.4 322.5h0M512.7 328.9h0M523.9 330.3h0M518.3 327.9h0M519 327.3h0M513.1 327.8h0M513.3 326.9h0M514.9 321.2h0M511.1 324.1h0M510.5 323.1h0M512 326.1h0M523 320.4h0M522.8 319.5h0M525.3 328.5h0M524.8 329.2h0M528.5 328.1h0M529 327.3h0M518.3 327.6h0M517.8 328.6h0M516.6 321h0M510.7 321h0M521.7 321h0M526.6 325.9h0M511.9 328.4h0M520.7 320.4h0M519.5 320.8h0M513.1 328.5h0M517.6 318.6h0M518.4 318h0M516.8 329.5h0M514.7 326.1h0M515.2 326.9h0M523.8 329.7h0M526 321.5h0M524.9 321.7h0M518.5 328.2h0M518.6 329h0M524.3 322.2h0M524.2 323.3h0M522.4 331.1h0M523.3 331.8h0M520.7 329.1h0M519.1 328.2h0M519.8 328.5h0M521.1 330.8h0M521.7 331h0M513.9 327.1h0M515.2 326.5h0M517.4 320.5h0M518.6 329.6h0M517.9 330.3h0M509.6 327.1h0M528.5 322.2h0M516.5 330.4h0M508.8 322.6h0M509.4 323.2h0M528.8 326.4h0M517.1 320.9h0M518 321.6h0M525.1 325.2h0M524.8 325.9h0M527.6 322.8h0M528 323.3h0M512.8 329h0M511.4 329.4h0M522 320.9h0M521.5 320.2h0M504 320.5h0M503.4 320.3h0M508.1 323h0M505.4 322.3h0M504.7 322.1h0M507.3 321.8h0M504.7 322.2h0M501 322h0M506 322.9h0M505.1 322.4h0M537.9 325.6h0M541 326.2h0M540.5 326.1h0M534.3 324.8h0M535.1 324.3h0M538 326.6h0M538.8 325.6h0M541.8 324.7h0M532.6 324.5h0M534.1 323.9h0M529.8 324.3h0M529.3 324.4h0M536.9 325.6h0M538.9 323.8h0M530.4 325h0M529 324.8h0M529.2 324h0M530.6 323.8h0M531.3 324.3h0M533.2 325h0M531.7 323.4h0M532.8 323.1h0M539.3 325h0M529.5 325.4h0M530.5 325.3h0" stroke="#64b5cd" stroke-width="0.9" stroke-linecap="round" fill="none" stroke-opacity="0.5"/>
<path d="M478.8 330.6h0M478.6 335.7h0M477.6 335.8h0M475.7 331.8h0M476.8 331.1h0M485.4 332.3h0M484.6 331.7h0M472.3 331.4h0M471.4 331.2h0M472 334.8h0M472.3 335.5h0M482.8 331.6h0M484 332h0M475.4 331.2h0M474.5 334.2h0M472.8 334.6h0M474.1 334.8h0M481.4 332h0M472.5 334.9h0M471 334.7h0M474.5 331.4h0M473.3 335.9h0M472.5 336h0M473.1 335h0M473.3 335.7h0M471.1 331.7h0M471.1 334.4h0M470.8 331.8h0M473.5 334.6h0M476 334.1h0M473.2 332h0M473.1 335.6h0M472.2 335.7h0M475.2 333.7h0M474.5 334.1h0M478.8 335.3h0M479.1 334.4h0M476.9 332.6h0M471.2 332h0M476.4 332.2h0M469.6 333.4h0M470.4 333.4h0M482.4 331.2h0M486 332.5h0M469.4 334.7h0M470.1 333h0M471.1 333.3h0M486 333.5h0M481.7 334.4h0M482.2 335.3h0M463.8 349.1h0M469.2 345.3h0M464 342.8h0M471.1 343.2h0M471.7 340.2h0M471 344.7h0M465.4 341.7h0M468.2 344.7h0M465.5 340.4h0M459.2 354.7h0M461.1 345.7h0M496.6 353.7h0M500.7 354.2h0M501.9 354.4h0M489.1 358h0M488 357.4h0M502.4 356.9h0M503.2 356.6h0M504.2 348.7h0M503.5 349.4h0M481.2 354.5h0M481.6 355.4h0M499 341.7h0M511.1 348.7h0M489.3 353.5h0M487 347.1h0M498.6 342.2h0M498.2 342.8h0M514.1 350.3h0M487.6 343.9h0M488.7 343.5h0M501.8 356.6h0M491.1 343.8h0M502.7 342.8h0M515 350.1h0M515.8 349.7h0M496.7 341.1h0M497.6 341.5h0M505.9 355.2h0M496.9 358.9h0M483.3 346.2h0M478.8 348.3h0M488.4 354h0M494.9 358.4h0M491.5 344.5h0M485.9 350.6h0M486.9 350h0M491.6 343.1h0M492 342.5h0M486.4 343.5h0M487.4 342.8h0M487 351h0M486.9 348.7h0M490.8 345.4h0M498.8 359.5h0M494.9 340.9h0M494.4 341.9h0M484.8 343.2h0M485 343.7h0M480.1 347.1h0M503.7 346.1h0M499.6 343.9h0M488.9 356.1h0M488.6 355.5h0M494.8 353.3h0M506.5 352.1h0M507.8 351.8h0M510.9 348.7h0M511.8 348.4h0M495.7 359.6h0M496.9 359.9h0M487.8 343.9h0M486.9 347.6h0M486 347.9h0M487 346.8h0M502.3 347.1h0M502 346h0M504.8 350.9h0M507.4 357h0M501.6 354.8h0M516.1 352.9h0M485.5 356.9h0M503 345.7h0M483.1 354.3h0M510.7 355h0M493.3 358.2h0M493.8 357.5h0M506.6 342.7h0M504.3 344.7h0M504.4 345.3h0M480.9 350.3h0M497.4 340.8h0M490.1 342.7h0M490.8 342.9h0M490.8 359.1h0M492.6 353.1h0M491.8 353h0M498.8 347.2h0M498.2 342.9h0M487.9 356h0M514.3 347.7h0M501.6 344.2h0M488.5 356.5h0M499.4 343.2h0M499 342.9h0M495.9 354.5h0M497.1 354.8h0M509 355.1h0M509.9 355h0M481.2 346.1h0M511.4 353.6h0M512.3 353h0M505.4 348.8h0M484 356.1h0M485.4 356.1h0M490.8 352.5h0M491.8 351.5h0M490.4 353.9h0M512.6 350.2h0M482.4 351.9h0M483.7 351.8h0M489.9 350h0M489.8 350.8h0M514 350.6h0M503.6 348.1h0M509.2 343.8h0M510.1 344.2h0M497.7 357.9h0M489.2 355.8h0M488.9 356.8h0M508.1 349.6h0M493.8 341.4h0M493.9 358.3h0M493 357.5h0M514.7 349.6h0M513.8 349h0M498.2 346.7h0M497.5 346h0M486.1 350.1h0M486.8 349.8h0M495 356.3h0M494.4 356.7h0M486.8 348.7h0M487.3 349.4h0M512.6 355.5h0M511.5 355.2h0M510.2 345.4h0M483.6 343.4h0M501.1 359.1h0" stroke="#55a868" stroke-width="0.9" stroke-linecap="round" fill="none" stroke-opacity="0.5"/>
<path d="M443.7 308h0M444.2 307.3h0M425.8 302.8h0M425.2 303h0M450.5 303.7h0M451.9 297.3h0M453 297.6h0M426.7 302.6h0M425.7 302h0M421.8 297.9h0M422.5 298.6h0M421.9 294.9h0M420.8 294.3h0M433.7 305.6h0M433.5 304.5h0M448.7 303.3h0M423.7 303h0M448.4 302.6h0M449.6 303h0M419.8 299.8h0M418.8 299.5h0M422.7 294h0M449.9 302h0M421.1 298.9h0M448.6 305.2h0M447.8 305.7h0M430.2 292.4h0M431.2 293.3h0M423.6 304.9h0M443.8 308.6h0M448.1 304.2h0M451.2 296.8h0M450.4 296.9h0M431.5 306.8h0M428.3 292.5h0M427.4 292.1h0M452.9 299.7h0M431.6 304.9h0M420.4 300.5h0M442.5 306.9h0M443.3 308.1h0M426.3 291.5h0M425.3 291.7h0M428.3 304h0M450 303.7h0M425.8 303.1h0M425.5 302.4h0M455.3 298.2h0M422.2 295.3h0M420 299.3h0M427.6 294h0M427.9 294.4h0M450.9 305.5h0M436.5 306.3h0M435.9 305.4h0M422.8 300.3h0M423.5 301.7h0M446.9 305.4h0M423.3 299.5h0M428.4 293.2h0M424.2 296.1h0M432.6 292.3h0M448.6 302.1h0M424.3 295.2h0M436.8 307h0M435.6 306.3h0M444.6 307.9h0M423 299.7h0M422.3 300.4h0M450.2 296.5h0M440.3 306.8h0M439.2 306.1h0M422.5 302.5h0M423.4 301.8h0M452.6 301.9h0M425.3 297.1h0M426.1 297.1h0M442 306.2h0M441.8 305.4h0M423.7 294.8h0M420.5 298.3h0M420.1 299.3h0M425.3 294.8h0M425.3 294.1h0M420.8 297.4h0M420.1 298.3h0M452.2 295.5h0M422.1 301.9h0M428 293h0M422.1 301.5h0M423.2 301.5h0M430.3 307.3h0M443.3 307.5h0M443 306.7h0M433.1 306.9h0M450.2 304.3h0M427.3 293.6h0M426.3 293.4h0M427.7 293.8h0M432.8 290.7h0M436.7 308.5h0M437.7 309h0M450.5 299.7h0M451.5 300.6h0M425.5 295.1h0M426.6 294.8h0M441.6 308.3h0M440.8 308.8h0M422.6 303.1h0M422.9 304h0M433.1 291.7h0M434.4 305.2h0M424.7 291.8h0M423.5 298h0M422.4 297.7h0M421.8 300.3h0M421.6 301.3h0M433.4 306.5h0M433.3 306.2h0M450 295.9h0M449.5 295.8h0M454.2 296.7h0M453.9 297.3h0M429.3 292.9h0M429.1 292h0M424.7 296.2h0M424.2 295.9h0M451.7 299.7h0M453 299.3h0M425.3 296.3h0M453 303h0M455 298.4h0M453.9 298.4h0M426 292.3h0M426.8 291.6h0M445 306.9h0M424.3 299.6h0M423.2 299.4h0M452.5 298.3h0M425.2 306.2h0M424.5 305h0M423.6 293.6h0M432.9 296.3h0M435.9 296.9h0M442.9 292.3h0M443.6 291.6h0M443.6 292.4h0M434.7 296.1h0M433.5 296.2h0M439.7 292.6h0M440.3 293.4h0M437.5 295.7h0M438.8 296.2h0M442.7 293.2h0M442 295.5h0M440.2 295.2h0M444.2 295.7h0M434.2 296.9h0M433 296.9h0M432.3 295.9h0M431.1 295.4h0M439.4 297.3h0M443 293.9h0M446.7 294.7h0M435.3 294.8h0M434.7 294.5h0M434.1 295.3h0M434.1 294.5h0M441.9 294.5h0M442.5 294.8h0M427.7 291.4h0M428.7 291.5h0M432.3 289.3h0M422.4 292.9h0M423.2 292.7h0M423 291.3h0M423.2 291.7h0M434.6 288.6h0M435.1 287.9h0M422.6 292.4h0M422.7 292.9h0M425.6 291.8h0M426.2 291.6h0M434.4 288h0M428.5 290h0M437.4 288.6h0M436.4 287.5h0M431 291.1h0M438.6 289.1h0M425.9 292.3h0M426.7 291.5h0M450.4 296.8h0M452 299.7h0M452.9 300.2h0M454.1 300.7h0M451.8 300.1h0M453 300.7h0M452.3 299.8h0M449 299.2h0M492.4 294.8h0M479.7 294h0M479.9 293.1h0M489.8 297.9h0M471.1 295.1h0M470.8 295.6h0M482.9 294.7h0M482.7 295.5h0M468.2 297.5h0M470.9 300.2h0M470.2 299.6h0M470.5 305.4h0M469.8 305.3h0M478.2 306.9h0M487.7 293.4h0M484 294.7h0M484.2 293.6h0M476.9 294.5h0M477.9 294.8h0M470.9 305.4h0M471.2 306.7h0M479 307.9h0M478.2 308.9h0M480.7 291.8h0M481 292.8h0M476.9 292.4h0M488.1 292.9h0M488.4 294.1h0M474.1 295.8h0M479.5 307.5h0M477 292.2h0M471.5 295.4h0M469.4 302.2h0M480.4 295.1h0M479.4 295h0M481.8 295.3h0M489.3 295.5h0M474.5 304.3h0M482.5 305.4h0M470.7 297.2h0M479.4 308.9h0M480.1 308.1h0M476.4 305.4h0M476.1 306h0M471.6 296.5h0M471.4 295.5h0M489.1 293.3h0M470.2 304.2h0M483 293h0M471.2 298.6h0M490.1 294.4h0M490.4 297h0M466.7 300.9h0M475 298.2h0M473.9 297.6h0M491.5 296.3h0M474.5 296.1h0M473.2 296.2h0M473.9 294.2h0M474.7 293.6h0M478.3 307.2h0M467.1 300.3h0M466.6 300.4h0M489.9 295.7h0M490.8 295.6h0M485.6 293.4h0M485.6 292.6h0M469.2 296.4h0M475 303.2h0M479 306.5h0M481.6 292.3h0M481.2 291.4h0M475.1 306.8h0M487.1 295.3h0M486.1 294.8h0M472.7 304.6h0M489.6 295.4h0M490.1 296.2h0M477.7 296.1h0M477 295.5h0M471.4 302.6h0M477.9 300.6h0M478.3 301.2h0M478.6 302.1h0M481.9 298.9h0M482.9 298.4h0M478 299.6h0M481.8 301.1h0M476.7 301.2h0M475.6 301.5h0M463.8 288h0M464.2 288.2h0M466.6 314.1h0M467.4 313.4h0M470 317.9h0M468.3 317.1h0M469.3 316.6h0M463.3 321.6h0M457.2 318.8h0M463.8 317h0M454 317.2h0M460.4 320.3h0M457.4 319h0M457.7 318.1h0M466 309.8h0M464.9 309.6h0M464.1 316.3h0M464.6 315.8h0M458.1 319.3h0M457.9 320h0M463.4 310.9h0M463.6 311.7h0M467 314h0M468 314.1h0M461.6 318.8h0M470 314.8h0M454.4 318.3h0M453 318.4h0M459.1 318.9h0M457.1 314h0M456 314.2h0M458 317.8h0M457.1 318.5h0M459.2 319.4h0M465.5 318.7h0M464.8 318.7h0M469.6 320h0M459.6 320.7h0M459 320.2h0M458 317.1h0M468 317.3h0M462.6 316.9h0M465.3 312.4h0M466.5 313.3h0M460.4 320.3h0M449.7 317.2h0M449.8 316.5h0M463 320.1h0M467.9 313.2h0M468.9 312.6h0M469.6 318.4h0M470.3 318.4h0M467.1 314.8h0M466.2 310.3h0M465.5 310.9h0M453.8 318.6h0M459.5 317.3h0M458.6 317.6h0M458.1 316.2h0M459.3 315.5h0M457.6 319h0M463.3 318.5h0M464.4 318.4h0M460 318.3h0M465.9 320.1h0M458.4 320.4h0M470 316.1h0M469.6 315.2h0M460.5 318.3h0M461.7 318.8h0M468.2 317.5h0M467.6 315.8h0M467.5 315h0M462.6 321.2h0M461.6 321h0M453 317.3h0" stroke="#c44e52" stroke-width="0.9" stroke-linecap="round" fill="none" stroke-opacity="0.5"/>
<circle cx="452.8" cy="303.6" r="1.4" fill="#1f0c0d" stroke="#c44e52" stroke-width="0.4" stroke-opacity="0.55"/>
<circle cx="438.4" cy="334.4" r="1.4" fill="#0c121c" stroke="#4c72b0" stroke-width="0.4" stroke-opacity="0.55"/>
<circle cx="502.4" cy="319" r="1.4" fill="#101c20" stroke="#64b5cd" stroke-width="0.4" stroke-opacity="0.55"/>
<circle cx="490.8" cy="346.6" r="1.4" fill="#0d1a10" stroke="#55a868" stroke-width="0.4" stroke-opacity="0.55"/>
</g>
<g>
<g stroke="#f6f7fb" stroke-width="0.5">
<line x1="15.4" y1="403" x2="15.4" y2="477"/>
<line x1="34.9" y1="403" x2="34.9" y2="477"/>
<line x1="73.9" y1="403" x2="73.9" y2="477"/>
<line x1="93.4" y1="403" x2="93.4" y2="477"/>
<line x1="112.9" y1="403" x2="112.9" y2="477"/>
<line x1="13.5" y1="415.2" x2="130.5" y2="415.2"/>
<line x1="13.5" y1="427.1" x2="130.5" y2="427.1"/>
<line x1="13.5" y1="438.9" x2="130.5" y2="438.9"/>
<line x1="13.5" y1="450.8" x2="130.5" y2="450.8"/>
<line x1="13.5" y1="474.5" x2="130.5" y2="474.5"/>
</g>
<g stroke="#ebeff7" stroke-width="0.6">
<line x1="54.4" y1="403" x2="54.4" y2="477"/>
<line x1="13.5" y1="462.6" x2="130.5" y2="462.6"/>
</g>
<g font-family="'Liberation Sans', sans-serif" font-size="3.3" fill="#b0b9ca">
<text x="15.4" y="479.8" text-anchor="middle">−10</text>
<text x="34.9" y="479.8" text-anchor="middle">−5</text>
<text x="54.4" y="479.8" text-anchor="middle">0</text>
<text x="73.9" y="479.8" text-anchor="middle">5</text>
<text x="93.4" y="479.8" text-anchor="middle">10</text>
<text x="112.9" y="479.8" text-anchor="middle">15</text>
<text x="10.8" y="416.4" text-anchor="end">20</text>
<text x="10.8" y="428.2" text-anchor="end">15</text>
<text x="10.8" y="440.1" text-anchor="end">10</text>
<text x="10.8" y="451.9" text-anchor="end">5</text>
<text x="10.8" y="463.8" text-anchor="end">0</text>
<text x="10.8" y="475.7" text-anchor="end">−5</text>
</g>
<path d="M21.1 434.5h0M20.9 434.3h0M20.4 434.4h0M20 434.7h0M19.4 434.2h0M19.2 434.4h0M18.4 434.6h0M18.3 434.2h0M17.8 434.4h0M18 434.2h0M17.8 434h0M18.2 433.8h0M18.1 433.7h0M18.1 433.3h0M18.1 433.3h0M18.1 433.1h0M18 432.8h0M17.9 432.8h0M18.4 432.2h0M18.8 432.1h0M19.2 432.4h0M19.6 431.9h0M19.9 432h0M20.3 431.9h0M20.5 432h0M21.1 431.6h0M21.8 431.6h0M21.6 431.1h0M22.6 431.2h0M22.8 431.3h0M23.4 431.3h0M23.7 431.2h0M24.1 431.5h0M24.5 431.3h0M24.3 431.7h0M24.6 431.8h0M24.7 432.3h0M24.9 432.4h0M25.1 431.9h0M25.5 432.4h0M25.7 432.4h0M26.4 432.6h0M26.1 432.5h0M26.5 433h0M26 433.1h0M26 433.4h0M25.9 433.8h0M25.4 433.3h0M25.3 433.9h0M24.9 433.8h0M25 434.1h0M25 434.3h0M25 434.7h0M24.2 434.5h0M23.7 435.2h0M23 435.3h0M22.7 435.1h0M22.1 435h0M21.3 434.7h0M21.2 434.6h0M20.5 433.5h0M23.8 432.8h0M24 433h0M21.3 433.2h0M20.7 433.3h0M23.5 433.1h0M21.8 432.9h0M20.4 433.1h0M22.2 433.1h0M21.8 433.2h0" stroke="#e3d38f" stroke-width="1.7" stroke-linecap="round" fill="none"/>
<path d="M66.7 452.8h0M66.8 452.7h0M66.3 452.6h0M66.6 452.4h0M66.1 452.2h0M66.3 451.7h0M65.6 452h0M65.6 451.3h0M65.9 451.5h0M66.4 451.2h0M66.7 451.1h0M66.6 450.7h0M67.3 450.8h0M67.3 450h0M67.4 450.2h0M67.8 450h0M68 450.1h0M68.4 450.1h0M68.4 449.4h0M68.7 449.6h0M68.6 449.3h0M69.2 449.4h0M69.6 449.3h0M69.4 449h0M70 449.2h0M70.4 449h0M70.7 449.6h0M71.3 449.3h0M71.1 449.2h0M71 449.8h0M71.8 449.8h0M71.8 449.8h0M71.7 449.7h0M72.1 449.7h0M72.5 450h0M72.8 450.5h0M73.2 450h0M72.9 450.5h0M73.1 450.8h0M73.2 450.9h0M73.2 451h0M73 451.5h0M73.4 451.3h0M72.7 451.6h0M72.9 451.8h0M72.8 452h0M72.7 452.4h0M72.8 452.7h0M72.4 452.4h0M72.2 452.8h0M71.9 453.2h0M71.8 453.2h0M71.2 453.2h0M71.1 453.4h0M71 453.4h0M70.6 453.7h0M70.7 453.6h0M70.6 453.9h0M69.8 454.2h0M69.9 454.3h0M69.5 453.7h0M68.9 453.8h0M68.7 453.7h0M68.5 453.5h0M68.3 453.1h0M68.3 453.1h0M68 453.1h0M68.1 452.8h0M67.4 452.6h0M67.4 453.2h0" stroke="#3557ee" stroke-width="1.7" stroke-linecap="round" fill="none"/>
<path d="M87.1 440h0M87 439.8h0M87.4 440.2h0M87.7 439.7h0M88.2 440h0M88.2 439.9h0M88.3 440.2h0M88.7 440.3h0M88.5 440.8h0M88.6 440.9h0M88.8 441.1h0M88.8 441.3h0M88.6 441.5h0M88.5 442.2h0M88.3 442.1h0M88 442.6h0M87.7 442.4h0M87.4 442.6h0M87.3 442.6h0M87 442.5h0M87.1 443h0M86.2 443.1h0M86.3 443.2h0M85.9 443.4h0M85.7 443.7h0M85.1 443.8h0M85 444.2h0M84.7 444h0M84.5 443.9h0M84.1 443.7h0M84.2 443.9h0M84.1 443.1h0M84.1 443h0M83.8 442.6h0M84.1 442.5h0M84 442.7h0M83.4 442.8h0M83 442.7h0M82.7 442.7h0M82.4 442.8h0M82.2 442.4h0M82.1 441.7h0M82.1 441.5h0M82 441.6h0M82.9 441h0M83 441h0M83.5 440.6h0M83.7 440.6h0M83.9 440.3h0M84.1 440.4h0M84.4 439.9h0M84.7 440.3h0M85 439.8h0M84.8 439.6h0M85.5 439.5h0M85.9 439.7h0M86 440.1h0M86.2 439.7h0M86.4 440.3h0M86.8 440.2h0M84.3 441.4h0M85.5 441.5h0M86.1 441.5h0M85.2 441.4h0M85.5 441.9h0" stroke="#9bedae" stroke-width="1.7" stroke-linecap="round" fill="none"/>
<path d="M101.1 455.8h0M101.2 455.2h0M100.8 454.9h0M100.5 455.2h0M100.6 455.1h0M100.4 454.9h0M100.1 454.8h0M99.9 454.3h0M100.1 454.3h0M99.7 454.3h0M100.4 453.7h0M100.6 453.6h0M101.1 453.4h0M101.2 453.5h0M101.6 453.2h0M101.5 452.9h0M101.8 452.7h0M102 452.8h0M102.6 452.5h0M102.4 452.5h0M102.6 452.2h0M103.3 452h0M103.7 451.9h0M103.8 451.7h0M104.4 451.5h0M104.5 451.7h0M104.6 451.8h0M105.1 452.1h0M105.6 451.9h0M105.9 451.9h0M105.7 452.2h0M105.8 452.3h0M105.7 452.3h0M105.5 452.9h0M105.4 453.3h0M105.4 453.1h0M105.5 453.4h0M105.6 453.4h0M105.3 453.8h0M105.4 454.1h0M105.4 453.5h0M105.6 454.4h0M105.3 454.6h0M105.1 454.5h0M105.1 455h0M104.5 455.2h0M104.4 455.5h0M104 455.3h0M103.5 455.4h0M103.5 455.5h0M103.1 455.9h0M102.9 455.7h0M102.6 456.1h0M102.2 456.4h0M101.6 456.4h0M101.1 456.7h0M100.8 456.2h0M100.8 456.4h0M100.7 456h0M100.8 455.7h0M102.3 453.8h0M103.5 453.7h0M104.5 453.7h0M102.6 454.1h0M103.3 453.7h0M102.1 454.2h0M103.4 453.9h0M101.4 454.8h0M102.2 454.8h0M103.9 453.7h0" stroke="#36df8d" stroke-width="1.7" stroke-linecap="round" fill="none"/>
<path d="M114.2 432.3h0M114 432.2h0M113.5 432h0M113.7 431.8h0M113.2 431.7h0M113.7 431.7h0M113.4 431.5h0M113.8 431.2h0M113.3 430.7h0M113.7 430.8h0M113.6 430.6h0M114.3 430.5h0M114.2 430.2h0M114.7 430.5h0M115.1 429.9h0M115.5 429.7h0M115.6 429.9h0M115.7 429.5h0M115.8 429.4h0M116.6 429.3h0M117 429h0M117.7 428.7h0M117.5 428.6h0M118.2 429h0M118.9 428.9h0M118.7 428.5h0M118.8 429.2h0M119.4 429.3h0M119.7 429.4h0M120.2 429.1h0M120.6 429.6h0M120.9 429.6h0M121.2 429.5h0M121.6 430h0M121.4 429.9h0M121.7 430h0M121.7 430.1h0M121.8 430.2h0M121.8 430.1h0M121.8 430.6h0M121.5 431.1h0M121.7 431.1h0M121.7 431.2h0M121.4 431.5h0M121.6 431.7h0M121.4 431.7h0M121.2 432.2h0M120.9 432.2h0M120.6 432.1h0M120.3 432.2h0M119.9 432.5h0M119.4 432.5h0M119.2 432.6h0M118.6 432.7h0M118.3 432.5h0M118.1 432.7h0M118 432.9h0M117.4 433.4h0M117.2 432.8h0M116.3 433.2h0M116.3 433.3h0M115.6 433.5h0M115.3 433.5h0M114.8 433.5h0M114.7 433.5h0M114.3 433.2h0M114.1 433.2h0M114.4 432.7h0M114.1 432.4h0M114.3 432.2h0M120.6 430.2h0M122.9 430.2h0M121.2 430.2h0M122.6 430.3h0M120.7 429.5h0M121.8 430.1h0M123.1 430.4h0M120.9 430.4h0M120.2 430.3h0M121.5 430.4h0" stroke="#c13be3" stroke-width="1.7" stroke-linecap="round" fill="none"/>
<path d="M88.7 412h0M88.1 412.1h0M87.6 411.9h0M87.7 411.4h0M87.5 412.1h0M87.2 411.4h0M86.6 411.2h0M87.1 411h0M86.5 411.2h0M86.6 410.8h0M86.7 410.5h0M86 410.6h0M85.5 410h0M85.2 410.4h0M85.3 409.7h0M85 409.8h0M85.8 409.2h0M85.4 409.1h0M85.9 409.1h0M86.1 408.6h0M86.5 408.7h0M87 409.1h0M86.8 408.8h0M86.9 408.7h0M87 408.5h0M87.5 408.6h0M87.2 408.4h0M87.8 408.7h0M88.4 408.7h0M88.8 408.8h0M88.9 408.9h0M89.2 409.4h0M89.3 409.2h0M89.3 409.8h0M89.7 409.7h0M89.9 409.8h0M90.1 410.2h0M90.3 410.3h0M90 411h0M90.3 410.9h0M90.5 410.9h0M90.3 411.3h0M90.3 411.6h0M90.4 411.6h0M90.1 411.6h0M90.1 411.7h0M89.7 411.9h0M89.3 412.5h0M88.9 412.2h0M89.1 412h0M96.2 414h0M95.6 414.2h0M95.5 414.4h0M95.5 414.3h0M94.7 414.3h0M95 414.4h0M94.6 414.4h0M94.3 414.5h0M94.2 414.7h0M93.3 414.9h0M93.4 414.3h0M92.8 414.3h0M92.7 414.3h0M92.4 413.8h0M92.5 413.6h0M92.1 413.4h0M92 413.6h0M91.8 413.3h0M91.3 413h0M91.4 413h0M90.9 412.6h0M91.3 412.3h0M91.1 412h0M91.1 412.1h0M91.5 411.9h0M91.6 411.9h0M91.8 411.9h0M91.7 411.6h0M91.6 411.4h0M92.3 411.2h0M92.1 411.4h0M92.6 411.2h0M92.9 411h0M93.2 410.9h0M93.9 411.1h0M94.2 411.3h0M94 411.3h0M94.3 411.5h0M94.7 411.6h0M95 412h0M94.9 411.8h0M95.3 412.5h0M94.9 412.7h0M95.5 412.6h0M95.8 412.8h0M95.8 413.1h0M96.2 413.3h0M96.3 413.7h0M96.5 413.7h0M96.6 413.8h0M91.7 412.2h0M90.2 410.7h0M91.5 411.8h0M91.7 411.8h0M91.4 412.3h0M91.5 411.6h0M90.4 411.1h0M91.1 411.5h0" stroke="#5023e6" stroke-width="1.7" stroke-linecap="round" fill="none"/>
<path d="M75.7 448.4h0M75.6 449.3h0M75.7 448.8h0M75.5 447.6h0M73.9 448.9h0M73.9 448.6h0M75.8 449.1h0M75.5 449.3h0M75.4 448.5h0M74.5 449.1h0M74.9 448.1h0M73.7 448.4h0M75.1 448.7h0M74.5 448.3h0M76.7 448.5h0M74.8 448.6h0M84.4 471.9h0M84.1 472.4h0M84 472.3h0M83.8 472.5h0M83.6 472.6h0M83 472.8h0M82.7 472.7h0M82.5 471.9h0M82.4 472.1h0M81.9 472.1h0M81.5 472.5h0M81.4 472.1h0M81.2 471.9h0M80.8 471.5h0M81 471.4h0M80.8 471.7h0M80.6 470.9h0M80.9 470.5h0M81.1 470.4h0M81.3 470.1h0M81.4 470.3h0M81.2 470.2h0M81 469.5h0M81.1 469.6h0M81.3 468.8h0M80.9 468.9h0M81.1 468.6h0M81.8 468.6h0M82.3 468.1h0M82.6 468.5h0M82.4 468.7h0M82.6 468.5h0M83.3 468.2h0M83.6 468.2h0M84.1 467.9h0M84.5 467.7h0M85 468h0M84.7 468.4h0M85.1 468.4h0M85.2 469h0M85 469.4h0M84.4 469.7h0M84.7 470h0M84.7 470h0M84.9 470.1h0M85.4 470.2h0M85.8 470.6h0M85.9 470.4h0M85.8 470.9h0M85.8 471.2h0M85.6 471.6h0M85.1 471.9h0M85.3 471.7h0M84.7 471.9h0M84.8 471.9h0M83.8 470.7h0M84.6 471h0M83.7 470.9h0M83.1 468.7h0M83.8 470.1h0M83.3 470.1h0M81.5 469.9h0M85.1 471.4h0M84.3 468.8h0" stroke="#e4212f" stroke-width="1.7" stroke-linecap="round" fill="none"/>
<g font-family="'Liberation Sans', sans-serif" font-size="3.0" fill="#a7b0c3">
<circle cx="137" cy="407" r="0.8" fill="#e3d38f"/>
<text x="141.5" y="408.3">UAV1</text>
<circle cx="137" cy="411.3" r="0.8" fill="#3557ee"/>
<text x="141.5" y="412.6">UAV2</text>
<circle cx="137" cy="415.7" r="0.8" fill="#9bedae"/>
<text x="141.5" y="417">UAV3</text>
<circle cx="137" cy="420" r="0.8" fill="#36df8d"/>
<text x="141.5" y="421.3">UAV4</text>
<circle cx="137" cy="424.4" r="0.8" fill="#c13be3"/>
<text x="141.5" y="425.7">UAV5</text>
<circle cx="137" cy="428.7" r="0.8" fill="#5023e6"/>
<text x="141.5" y="430">UAV6</text>
<circle cx="137" cy="433" r="0.8" fill="#e4212f"/>
<text x="141.5" y="434.3">UAV7</text>
</g>
</g>
<g>
<rect x="196" y="404" width="152.8" height="79.5" fill="#eaeaf2"/>
<g stroke="#fff" stroke-width="0.5" stroke-opacity="0.36">
<line x1="199.4" y1="404" x2="199.4" y2="483.5"/>
<line x1="225.4" y1="404" x2="225.4" y2="483.5"/>
<line x1="251.4" y1="404" x2="251.4" y2="483.5"/>
<line x1="277.4" y1="404" x2="277.4" y2="483.5"/>
<line x1="303.4" y1="404" x2="303.4" y2="483.5"/>
<line x1="329.4" y1="404" x2="329.4" y2="483.5"/>
<line x1="196" y1="415.2" x2="348.8" y2="415.2"/>
<line x1="196" y1="428.6" x2="348.8" y2="428.6"/>
<line x1="196" y1="442.1" x2="348.8" y2="442.1"/>
<line x1="196" y1="455.6" x2="348.8" y2="455.6"/>
<line x1="196" y1="469" x2="348.8" y2="469"/>
<line x1="196" y1="482.4" x2="348.8" y2="482.4"/>
</g>
<text x="243.5" y="400.8" textLength="54" lengthAdjust="spacingAndGlyphs" font-family="'Liberation Serif', serif" font-size="8" fill="#222">ICA + UMAP: 7</text>
<g font-family="'Liberation Sans', sans-serif" font-size="2.4" font-weight="bold" fill="#111">
<text x="199.4" y="486.9" text-anchor="middle">-10</text>
<text x="225.4" y="486.9" text-anchor="middle">-5</text>
<text x="251.4" y="486.9" text-anchor="middle">0</text>
<text x="277.4" y="486.9" text-anchor="middle">5</text>
<text x="303.4" y="486.9" text-anchor="middle">10</text>
<text x="329.4" y="486.9" text-anchor="middle">15</text>
<text x="194.8" y="416.3" text-anchor="end">20</text>
<text x="194.8" y="429.8" text-anchor="end">15</text>
<text x="194.8" y="443.2" text-anchor="end">10</text>
<text x="194.8" y="456.7" text-anchor="end">5</text>
<text x="194.8" y="470.1" text-anchor="end">0</text>
<text x="194.8" y="483.6" text-anchor="end">-5</text>
</g>
<path d="M267.9 457.8h0M267.9 457.8h0M267.3 457.7h0M267.7 457.4h0M267 457.2h0M267.3 456.6h0M266.4 456.9h0M266.3 456.2h0M266.8 456.4h0M267.5 456h0M267.9 456h0M267.7 455.5h0M268.6 455.6h0M268.6 454.7h0M268.8 454.9h0M269.3 454.8h0M269.5 454.8h0M270.1 454.8h0M270 454.1h0M270.5 454.2h0M270.3 453.9h0M271.1 454h0M271.7 453.9h0M271.3 453.6h0M272.2 453.8h0M272.8 453.5h0M273.1 454.2h0M274 453.9h0M273.6 453.8h0M273.6 454.4h0M274.5 454.5h0M274.6 454.5h0M274.5 454.4h0M275 454.4h0M275.5 454.7h0M276 455.2h0M276.4 454.7h0M276.1 455.2h0M276.4 455.6h0M276.5 455.8h0M276.5 455.9h0M276.2 456.4h0M276.7 456.2h0M275.8 456.5h0M276.1 456.8h0M275.9 457h0M275.8 457.4h0M275.9 457.7h0M275.4 457.4h0M275.1 457.8h0M274.7 458.4h0M274.6 458.3h0M273.7 458.3h0M273.7 458.6h0M273.6 458.6h0M273.1 458.9h0M273.1 458.8h0M273 459.2h0M272 459.5h0M272.1 459.6h0M271.5 458.9h0M270.7 459h0M270.5 458.9h0M270.2 458.7h0M269.9 458.2h0M270 458.2h0M269.5 458.3h0M269.7 457.8h0M268.8 457.7h0M268.7 458.3h0M279.7 452.9h0M279.6 453.9h0M279.8 453.3h0M279.5 452h0M277.4 453.5h0M277.4 453.2h0M280 453.7h0M279.5 454h0M279.5 453h0M278.2 453.7h0M278.7 452.6h0M277.2 452.8h0M278.9 453.2h0M278.2 452.8h0M281.1 453h0M278.6 453.1h0" stroke="#4c72b0" stroke-width="0.92" stroke-linecap="round" fill="none" stroke-opacity="0.85"/>
<path d="M291.4 479.6h0M291.1 480.1h0M290.8 480h0M290.6 480.3h0M290.3 480.4h0M289.5 480.5h0M289.1 480.5h0M288.9 479.6h0M288.7 479.8h0M288 479.7h0M287.5 480.2h0M287.4 479.8h0M287.1 479.6h0M286.6 479.1h0M286.9 479h0M286.6 479.3h0M286.4 478.4h0M286.7 477.9h0M287 477.9h0M287.2 477.5h0M287.4 477.7h0M287.1 477.6h0M286.9 476.9h0M287 476.9h0M287.3 476.1h0M286.8 476.1h0M287 475.8h0M288 475.8h0M288.6 475.2h0M289 475.7h0M288.8 475.9h0M289.1 475.7h0M289.9 475.4h0M290.3 475.4h0M291 475.1h0M291.6 474.8h0M292.2 475.2h0M291.9 475.6h0M292.4 475.6h0M292.5 476.2h0M292.3 476.7h0M291.4 477.1h0M291.8 477.4h0M291.8 477.4h0M292.1 477.5h0M292.7 477.7h0M293.3 478.1h0M293.4 477.9h0M293.3 478.5h0M293.3 478.8h0M293.1 479.2h0M292.4 479.5h0M292.6 479.3h0M291.8 479.5h0M291.9 479.6h0M290.6 478.2h0M291.7 478.6h0M290.5 478.4h0M289.7 475.9h0M290.6 477.5h0M290 477.5h0M287.6 477.3h0M292.4 478.9h0M291.3 476h0" stroke="#4c72b0" stroke-width="0.92" stroke-linecap="round" fill="none" stroke-opacity="0.85"/>
<path d="M207 437.1h0M206.7 436.9h0M206 437h0M205.5 437.3h0M204.7 436.8h0M204.4 437h0M203.3 437.2h0M203.3 436.7h0M202.6 436.9h0M202.9 436.7h0M202.6 436.5h0M203.1 436.3h0M203 436.2h0M203 435.7h0M203 435.7h0M203 435.5h0M202.9 435.1h0M202.8 435.1h0M203.5 434.5h0M203.9 434.4h0M204.5 434.7h0M204.9 434.1h0M205.4 434.2h0M206 434.2h0M206.2 434.3h0M207 433.8h0M207.9 433.8h0M207.7 433.3h0M209 433.3h0M209.3 433.5h0M210.1 433.4h0M210.4 433.4h0M211 433.7h0M211.5 433.5h0M211.3 433.9h0M211.6 434h0M211.8 434.6h0M212.1 434.7h0M212.4 434.2h0M212.9 434.7h0M213.2 434.7h0M214 435h0M213.7 434.8h0M214.2 435.4h0M213.6 435.5h0M213.6 435.9h0M213.5 436.3h0M212.7 435.7h0M212.6 436.5h0M212.1 436.3h0M212.2 436.7h0M212.2 436.8h0M212.1 437.3h0M211.2 437.1h0M210.5 437.9h0M209.6 438h0M209.1 437.8h0M208.4 437.6h0M207.3 437.3h0M207.2 437.2h0M206.1 435.9h0M210.7 435.2h0M210.9 435.4h0M207.2 435.6h0M206.4 435.8h0M210.2 435.5h0M208 435.3h0M206 435.5h0M208.5 435.5h0M207.9 435.7h0" stroke="#64b5cd" stroke-width="0.92" stroke-linecap="round" fill="none" stroke-opacity="0.85"/>
<path d="M331.1 434.7h0M330.9 434.5h0M330.3 434.2h0M330.5 434.1h0M329.8 433.9h0M330.4 433.9h0M330 433.7h0M330.6 433.4h0M330 432.8h0M330.5 432.9h0M330.4 432.7h0M331.2 432.5h0M331.1 432.3h0M331.8 432.6h0M332.3 431.9h0M332.8 431.6h0M332.9 431.9h0M333.1 431.4h0M333.3 431.3h0M334.4 431.2h0M334.9 430.9h0M335.8 430.5h0M335.5 430.4h0M336.5 430.9h0M337.4 430.7h0M337.2 430.3h0M337.3 431.1h0M338.1 431.2h0M338.5 431.3h0M339.1 430.9h0M339.7 431.5h0M340 431.6h0M340.5 431.4h0M340.9 432h0M340.8 431.9h0M341.1 432h0M341.2 432.1h0M341.3 432.3h0M341.2 432.2h0M341.3 432.6h0M340.9 433.2h0M341.2 433.3h0M341.1 433.4h0M340.7 433.7h0M341 433.9h0M340.7 434h0M340.4 434.5h0M340.1 434.5h0M339.7 434.4h0M339.3 434.5h0M338.7 434.8h0M338.1 434.9h0M337.8 434.9h0M337 435.1h0M336.6 434.9h0M336.3 435.1h0M336.2 435.3h0M335.5 435.9h0M335.2 435.2h0M334 435.7h0M334 435.7h0M333 436h0M332.7 436h0M331.9 436h0M331.7 436h0M331.3 435.6h0M331 435.7h0M331.4 435.1h0M331 434.7h0M331.3 434.5h0M339.6 432.2h0M342.7 432.2h0M340.5 432.2h0M342.3 432.3h0M339.8 431.4h0M341.2 432.2h0M343 432.5h0M340 432.4h0M339.1 432.3h0M340.9 432.4h0" stroke="#55a868" stroke-width="0.92" stroke-linecap="round" fill="none" stroke-opacity="0.85"/>
<path d="M297.2 411.6h0M296.4 411.7h0M295.7 411.5h0M295.8 410.9h0M295.5 411.7h0M295.2 410.8h0M294.4 410.7h0M295.1 410.4h0M294.2 410.7h0M294.3 410.2h0M294.4 409.9h0M293.5 410h0M292.9 409.3h0M292.4 409.7h0M292.6 408.9h0M292.2 409.1h0M293.3 408.4h0M292.8 408.3h0M293.4 408.2h0M293.7 407.7h0M294.2 407.9h0M294.9 408.2h0M294.6 408h0M294.7 407.8h0M294.9 407.6h0M295.6 407.7h0M295.2 407.5h0M296 407.8h0M296.7 407.8h0M297.2 407.9h0M297.5 408.1h0M297.8 408.6h0M297.9 408.4h0M298 409.1h0M298.4 408.9h0M298.8 409.1h0M299 409.5h0M299.3 409.7h0M298.9 410.4h0M299.3 410.3h0M299.5 410.3h0M299.3 410.8h0M299.3 411.1h0M299.4 411.1h0M299 411.1h0M299.1 411.2h0M298.5 411.5h0M297.9 412.1h0M297.5 411.8h0M297.7 411.6h0M307.1 413.9h0M306.3 414.1h0M306.2 414.3h0M306.2 414.2h0M305.2 414.2h0M305.5 414.3h0M305 414.3h0M304.6 414.4h0M304.4 414.6h0M303.3 414.8h0M303.4 414.2h0M302.6 414.2h0M302.5 414.2h0M302 413.6h0M302.2 413.4h0M301.6 413.1h0M301.5 413.4h0M301.2 413h0M300.6 412.7h0M300.8 412.7h0M300.1 412.3h0M300.6 411.9h0M300.3 411.6h0M300.4 411.6h0M300.9 411.4h0M301 411.5h0M301.2 411.4h0M301.2 411.1h0M301 410.9h0M301.9 410.6h0M301.7 410.9h0M302.3 410.7h0M302.7 410.5h0M303.1 410.3h0M304.1 410.5h0M304.4 410.7h0M304.2 410.8h0M304.6 411h0M305.2 411.1h0M305.6 411.6h0M305.5 411.3h0M305.9 412.1h0M305.4 412.3h0M306.3 412.2h0M306.6 412.5h0M306.5 412.8h0M307.1 413.1h0M307.3 413.5h0M307.5 413.5h0M307.7 413.7h0M301.2 411.8h0M299.1 410.1h0M300.9 411.3h0M301.1 411.3h0M300.8 411.9h0M300.8 411.1h0M299.3 410.5h0M300.3 411h0" stroke="#8172b2" stroke-width="0.92" stroke-linecap="round" fill="none" stroke-opacity="0.85"/>
<path d="M295 443.3h0M294.9 443.1h0M295.4 443.6h0M295.8 443h0M296.4 443.4h0M296.4 443.2h0M296.6 443.6h0M297.1 443.6h0M296.8 444.2h0M297.1 444.4h0M297.3 444.6h0M297.3 444.8h0M297 445.1h0M296.9 445.8h0M296.6 445.7h0M296.2 446.3h0M295.8 446h0M295.3 446.4h0M295.2 446.3h0M294.8 446.2h0M295 446.8h0M293.9 446.9h0M293.9 446.9h0M293.4 447.2h0M293.2 447.5h0M292.4 447.7h0M292.2 448.1h0M291.7 447.9h0M291.6 447.7h0M291 447.5h0M291.1 447.8h0M290.9 446.8h0M291 446.7h0M290.6 446.3h0M291 446.1h0M290.8 446.4h0M290 446.5h0M289.5 446.4h0M289.1 446.4h0M288.8 446.5h0M288.5 446h0M288.4 445.3h0M288.4 445h0M288.3 445.1h0M289.3 444.5h0M289.5 444.5h0M290.2 444h0M290.5 444h0M290.7 443.7h0M291 443.8h0M291.4 443.2h0M291.7 443.6h0M292.2 443.1h0M292 442.9h0M292.9 442.8h0M293.3 443h0M293.6 443.4h0M293.8 443h0M294.1 443.7h0M294.6 443.5h0M291.3 445h0M292.9 445.1h0M293.7 445.1h0M292.5 445h0M292.9 445.5h0" stroke="#c44e52" stroke-width="0.92" stroke-linecap="round" fill="none" stroke-opacity="0.85"/>
<path d="M313.7 461.2h0M313.8 460.7h0M313.3 460.3h0M312.9 460.6h0M313 460.5h0M312.7 460.3h0M312.3 460.1h0M312.1 459.6h0M312.4 459.6h0M311.8 459.6h0M312.7 458.9h0M313 458.8h0M313.7 458.6h0M313.8 458.7h0M314.3 458.4h0M314.3 458h0M314.6 457.7h0M314.8 457.9h0M315.6 457.6h0M315.4 457.6h0M315.6 457.2h0M316.6 457h0M317.1 456.8h0M317.3 456.6h0M318 456.4h0M318.2 456.7h0M318.3 456.8h0M318.9 457.1h0M319.7 456.8h0M320.1 456.8h0M319.7 457.2h0M319.9 457.3h0M319.8 457.3h0M319.6 458h0M319.4 458.4h0M319.4 458.2h0M319.6 458.5h0M319.6 458.6h0M319.3 459h0M319.4 459.4h0M319.4 458.7h0M319.6 459.6h0M319.2 459.9h0M319 459.8h0M318.9 460.4h0M318.2 460.6h0M318.1 460.9h0M317.5 460.7h0M316.9 460.8h0M316.9 461h0M316.4 461.4h0M316 461.1h0M315.6 461.6h0M315.1 462h0M314.3 462h0M313.7 462.3h0M313.3 461.8h0M313.3 462h0M313.2 461.5h0M313.3 461.1h0M315.3 459h0M316.9 458.9h0M318.1 458.9h0M315.6 459.3h0M316.6 458.9h0M315 459.5h0M316.8 459.1h0M314.1 460.2h0M315.2 460.1h0M317.4 458.9h0" stroke="#ccb974" stroke-width="0.92" stroke-linecap="round" fill="none" stroke-opacity="0.85"/>
<circle cx="300" cy="411.1" r="1.15" fill="#14121c" stroke="#8172b2" stroke-width="0.4" stroke-opacity="0.55"/>
<circle cx="208.2" cy="435.6" r="1.15" fill="#101c20" stroke="#64b5cd" stroke-width="0.4" stroke-opacity="0.55"/>
<circle cx="293" cy="445.2" r="1.15" fill="#1f0c0d" stroke="#c44e52" stroke-width="0.4" stroke-opacity="0.55"/>
<circle cx="273.2" cy="455.8" r="1.15" fill="#0c121c" stroke="#4c72b0" stroke-width="0.4" stroke-opacity="0.55"/>
<circle cx="316.2" cy="459.2" r="1.15" fill="#201d12" stroke="#ccb974" stroke-width="0.4" stroke-opacity="0.55"/>
<circle cx="289.9" cy="477.8" r="1.15" fill="#0c121c" stroke="#4c72b0" stroke-width="0.4" stroke-opacity="0.55"/>
<circle cx="336.3" cy="433.2" r="1.15" fill="#0d1a10" stroke="#55a868" stroke-width="0.4" stroke-opacity="0.55"/>
</g>
<g>
<rect x="393.8" y="404" width="152.8" height="79.5" fill="#eaeaf2"/>
<g stroke="#fff" stroke-width="0.5" stroke-opacity="0.36">
<line x1="397.2" y1="404" x2="397.2" y2="483.5"/>
<line x1="423.2" y1="404" x2="423.2" y2="483.5"/>
<line x1="449.2" y1="404" x2="449.2" y2="483.5"/>
<line x1="475.2" y1="404" x2="475.2" y2="483.5"/>
<line x1="501.2" y1="404" x2="501.2" y2="483.5"/>
<line x1="527.2" y1="404" x2="527.2" y2="483.5"/>
<line x1="393.8" y1="415.2" x2="546.6" y2="415.2"/>
<line x1="393.8" y1="428.6" x2="546.6" y2="428.6"/>
<line x1="393.8" y1="442.1" x2="546.6" y2="442.1"/>
<line x1="393.8" y1="455.6" x2="546.6" y2="455.6"/>
<line x1="393.8" y1="469" x2="546.6" y2="469"/>
<line x1="393.8" y1="482.4" x2="546.6" y2="482.4"/>
</g>
<text x="441.3" y="400.8" textLength="54" lengthAdjust="spacingAndGlyphs" font-family="'Liberation Serif', serif" font-size="8" fill="#222">ICA + UMAP: 8</text>
<g font-family="'Liberation Sans', sans-serif" font-size="2.4" font-weight="bold" fill="#111">
<text x="397.2" y="486.9" text-anchor="middle">-10</text>
<text x="423.2" y="486.9" text-anchor="middle">-5</text>
<text x="449.2" y="486.9" text-anchor="middle">0</text>
<text x="475.2" y="486.9" text-anchor="middle">5</text>
<text x="501.2" y="486.9" text-anchor="middle">10</text>
<text x="527.2" y="486.9" text-anchor="middle">15</text>
<text x="392.6" y="416.3" text-anchor="end">20</text>
<text x="392.6" y="429.8" text-anchor="end">15</text>
<text x="392.6" y="443.2" text-anchor="end">10</text>
<text x="392.6" y="456.7" text-anchor="end">5</text>
<text x="392.6" y="470.1" text-anchor="end">0</text>
<text x="392.6" y="483.6" text-anchor="end">-5</text>
</g>
<path d="M495 411.6h0M494.2 411.7h0M493.5 411.5h0M493.6 410.9h0M493.3 411.7h0M493 410.8h0M492.2 410.7h0M492.9 410.4h0M492 410.7h0M492.1 410.2h0M492.2 409.9h0M491.3 410h0M490.7 409.3h0M490.2 409.7h0M490.4 408.9h0M490 409.1h0M491.1 408.4h0M490.6 408.3h0M491.2 408.2h0M491.5 407.7h0M492 407.9h0M492.7 408.2h0M492.4 408h0M492.5 407.8h0M492.7 407.6h0M493.4 407.7h0M493 407.5h0M493.8 407.8h0M494.5 407.8h0M495 407.9h0M495.3 408.1h0M495.6 408.6h0M495.7 408.4h0M495.8 409.1h0M496.2 408.9h0M496.6 409.1h0M496.8 409.5h0M497.1 409.7h0M496.7 410.4h0M497.1 410.3h0M497.3 410.3h0M497.1 410.8h0M497.1 411.1h0M497.2 411.1h0M496.8 411.1h0M496.9 411.2h0M496.3 411.5h0M495.7 412.1h0M495.3 411.8h0M495.5 411.6h0" stroke="#4c72b0" stroke-width="0.92" stroke-linecap="round" fill="none" stroke-opacity="0.85"/>
<path d="M465.7 457.8h0M465.7 457.8h0M465.1 457.7h0M465.5 457.4h0M464.8 457.2h0M465.1 456.6h0M464.2 456.9h0M464.1 456.2h0M464.6 456.4h0M465.3 456h0M465.7 456h0M465.5 455.5h0M466.4 455.6h0M466.4 454.7h0M466.6 454.9h0M467.1 454.8h0M467.3 454.8h0M467.9 454.8h0M467.8 454.1h0M468.3 454.2h0M468.1 453.9h0M468.9 454h0M469.5 453.9h0M469.1 453.6h0M470 453.8h0M470.6 453.5h0M470.9 454.2h0M471.8 453.9h0M471.4 453.8h0M471.4 454.4h0M472.3 454.5h0M472.4 454.5h0M472.3 454.4h0M472.8 454.4h0M473.3 454.7h0M473.8 455.2h0M474.2 454.7h0M473.9 455.2h0M474.2 455.6h0M474.3 455.8h0M474.3 455.9h0M474 456.4h0M474.5 456.2h0M473.6 456.5h0M473.9 456.8h0M473.7 457h0M473.6 457.4h0M473.7 457.7h0M473.2 457.4h0M472.9 457.8h0M472.5 458.4h0M472.4 458.3h0M471.5 458.3h0M471.5 458.6h0M471.4 458.6h0M470.9 458.9h0M470.9 458.8h0M470.8 459.2h0M469.8 459.5h0M469.9 459.6h0M469.3 458.9h0M468.5 459h0M468.3 458.9h0M468 458.7h0M467.7 458.2h0M467.8 458.2h0M467.3 458.3h0M467.5 457.8h0M466.6 457.7h0M466.5 458.3h0M477.5 452.9h0M477.4 453.9h0M477.6 453.3h0M477.3 452h0M475.2 453.5h0M475.2 453.2h0M477.8 453.7h0M477.3 454h0M477.3 453h0M476 453.7h0M476.5 452.6h0M475 452.8h0M476.7 453.2h0M476 452.8h0M478.9 453h0M476.4 453.1h0" stroke="#4c72b0" stroke-width="0.92" stroke-linecap="round" fill="none" stroke-opacity="0.85"/>
<path d="M404.8 437.1h0M404.5 436.9h0M403.8 437h0M403.3 437.3h0M402.5 436.8h0M402.2 437h0M401.1 437.2h0M401.1 436.7h0M400.4 436.9h0M400.7 436.7h0M400.4 436.5h0M400.9 436.3h0M400.8 436.2h0M400.8 435.7h0M400.8 435.7h0M400.8 435.5h0M400.7 435.1h0M400.6 435.1h0M401.3 434.5h0M401.7 434.4h0M402.3 434.7h0M402.7 434.1h0M403.2 434.2h0M403.8 434.2h0M404 434.3h0M404.8 433.8h0M405.7 433.8h0M405.5 433.3h0M406.8 433.3h0M407.1 433.5h0M407.9 433.4h0M408.2 433.4h0M408.8 433.7h0M409.3 433.5h0M409.1 433.9h0M409.4 434h0M409.6 434.6h0M409.9 434.7h0M410.2 434.2h0M410.7 434.7h0M411 434.7h0M411.8 435h0M411.5 434.8h0M412 435.4h0M411.4 435.5h0M411.4 435.9h0M411.3 436.3h0M410.5 435.7h0M410.4 436.5h0M409.9 436.3h0M410 436.7h0M410 436.8h0M409.9 437.3h0M409 437.1h0M408.3 437.9h0M407.4 438h0M406.9 437.8h0M406.2 437.6h0M405.1 437.3h0M405 437.2h0M403.9 435.9h0M408.5 435.2h0M408.7 435.4h0M405 435.6h0M404.2 435.8h0M408 435.5h0M405.8 435.3h0M403.8 435.5h0M406.3 435.5h0M405.7 435.7h0" stroke="#64b5cd" stroke-width="0.92" stroke-linecap="round" fill="none" stroke-opacity="0.85"/>
<path d="M504.9 413.9h0M504.1 414.1h0M504 414.3h0M504 414.2h0M503 414.2h0M503.3 414.3h0M502.8 414.3h0M502.4 414.4h0M502.2 414.6h0M501.1 414.8h0M501.2 414.2h0M500.4 414.2h0M500.3 414.2h0M499.8 413.6h0M500 413.4h0M499.4 413.1h0M499.3 413.4h0M499 413h0M498.4 412.7h0M498.6 412.7h0M497.9 412.3h0M498.4 411.9h0M498.1 411.6h0M498.2 411.6h0M498.7 411.4h0M498.8 411.5h0M499 411.4h0M499 411.1h0M498.8 410.9h0M499.7 410.6h0M499.5 410.9h0M500.1 410.7h0M500.5 410.5h0M500.9 410.3h0M501.9 410.5h0M502.2 410.7h0M502 410.8h0M502.4 411h0M503 411.1h0M503.4 411.6h0M503.3 411.3h0M503.7 412.1h0M503.2 412.3h0M504.1 412.2h0M504.4 412.5h0M504.3 412.8h0M504.9 413.1h0M505.1 413.5h0M505.3 413.5h0M505.5 413.7h0M499 411.8h0M496.9 410.1h0M498.7 411.3h0M498.9 411.3h0M498.6 411.9h0M498.6 411.1h0M497.1 410.5h0M498.1 411h0" stroke="#55a868" stroke-width="0.92" stroke-linecap="round" fill="none" stroke-opacity="0.85"/>
<path d="M489.2 479.6h0M488.9 480.1h0M488.6 480h0M488.4 480.3h0M488.1 480.4h0M487.3 480.5h0M486.9 480.5h0M486.7 479.6h0M486.5 479.8h0M485.8 479.7h0M485.3 480.2h0M485.2 479.8h0M484.9 479.6h0M484.4 479.1h0M484.7 479h0M484.4 479.3h0M484.2 478.4h0M484.5 477.9h0M484.8 477.9h0M485 477.5h0M485.2 477.7h0M484.9 477.6h0M484.7 476.9h0M484.8 476.9h0M485.1 476.1h0M484.6 476.1h0M484.8 475.8h0M485.8 475.8h0M486.4 475.2h0M486.8 475.7h0M486.6 475.9h0M486.9 475.7h0M487.7 475.4h0M488.1 475.4h0M488.8 475.1h0M489.4 474.8h0M490 475.2h0M489.7 475.6h0M490.2 475.6h0M490.3 476.2h0M490.1 476.7h0M489.2 477.1h0M489.6 477.4h0M489.6 477.4h0M489.9 477.5h0M490.5 477.7h0M491.1 478.1h0M491.2 477.9h0M491.1 478.5h0M491.1 478.8h0M490.9 479.2h0M490.2 479.5h0M490.4 479.3h0M489.6 479.5h0M489.7 479.6h0M488.4 478.2h0M489.5 478.6h0M488.3 478.4h0M487.5 475.9h0M488.4 477.5h0M487.8 477.5h0M485.4 477.3h0M490.2 478.9h0M489.1 476h0" stroke="#55a868" stroke-width="0.92" stroke-linecap="round" fill="none" stroke-opacity="0.85"/>
<path d="M492.8 443.3h0M492.7 443.1h0M493.2 443.6h0M493.6 443h0M494.2 443.4h0M494.2 443.2h0M494.4 443.6h0M494.9 443.6h0M494.6 444.2h0M494.9 444.4h0M495.1 444.6h0M495.1 444.8h0M494.8 445.1h0M494.7 445.8h0M494.4 445.7h0M494 446.3h0M493.6 446h0M493.1 446.4h0M493 446.3h0M492.6 446.2h0M492.8 446.8h0M491.7 446.9h0M491.7 446.9h0M491.2 447.2h0M491 447.5h0M490.2 447.7h0M490 448.1h0M489.5 447.9h0M489.4 447.7h0M488.8 447.5h0M488.9 447.8h0M488.7 446.8h0M488.8 446.7h0M488.4 446.3h0M488.8 446.1h0M488.6 446.4h0M487.8 446.5h0M487.3 446.4h0M486.9 446.4h0M486.6 446.5h0M486.3 446h0M486.2 445.3h0M486.2 445h0M486.1 445.1h0M487.1 444.5h0M487.3 444.5h0M488 444h0M488.3 444h0M488.5 443.7h0M488.8 443.8h0M489.2 443.2h0M489.5 443.6h0M490 443.1h0M489.8 442.9h0M490.7 442.8h0M491.1 443h0M491.4 443.4h0M491.6 443h0M491.9 443.7h0M492.4 443.5h0M489.1 445h0M490.7 445.1h0M491.5 445.1h0M490.3 445h0M490.7 445.5h0" stroke="#8172b2" stroke-width="0.92" stroke-linecap="round" fill="none" stroke-opacity="0.85"/>
<path d="M511.5 461.2h0M511.6 460.7h0M511.1 460.3h0M510.7 460.6h0M510.8 460.5h0M510.5 460.3h0M510.1 460.1h0M509.9 459.6h0M510.2 459.6h0M509.6 459.6h0M510.5 458.9h0M510.8 458.8h0M511.5 458.6h0M511.6 458.7h0M512.1 458.4h0M512.1 458h0M512.4 457.7h0M512.6 457.9h0M513.4 457.6h0M513.2 457.6h0M513.4 457.2h0M514.4 457h0M514.9 456.8h0M515.1 456.6h0M515.8 456.4h0M516 456.7h0M516.1 456.8h0M516.7 457.1h0M517.5 456.8h0M517.9 456.8h0M517.5 457.2h0M517.7 457.3h0M517.6 457.3h0M517.4 458h0M517.2 458.4h0M517.2 458.2h0M517.4 458.5h0M517.4 458.6h0M517.1 459h0M517.2 459.4h0M517.2 458.7h0M517.4 459.6h0M517 459.9h0M516.8 459.8h0M516.7 460.4h0M516 460.6h0M515.9 460.9h0M515.3 460.7h0M514.7 460.8h0M514.7 461h0M514.2 461.4h0M513.8 461.1h0M513.4 461.6h0M512.9 462h0M512.1 462h0M511.5 462.3h0M511.1 461.8h0M511.1 462h0M511 461.5h0M511.1 461.1h0M513.1 459h0M514.7 458.9h0M515.9 458.9h0M513.4 459.3h0M514.4 458.9h0M512.8 459.5h0M514.6 459.1h0M511.9 460.2h0M513 460.1h0M515.2 458.9h0" stroke="#c44e52" stroke-width="0.92" stroke-linecap="round" fill="none" stroke-opacity="0.85"/>
<path d="M528.9 434.7h0M528.7 434.5h0M528.1 434.2h0M528.3 434.1h0M527.6 433.9h0M528.2 433.9h0M527.8 433.7h0M528.4 433.4h0M527.8 432.8h0M528.3 432.9h0M528.2 432.7h0M529 432.5h0M528.9 432.3h0M529.6 432.6h0M530.1 431.9h0M530.6 431.6h0M530.7 431.9h0M530.9 431.4h0M531.1 431.3h0M532.2 431.2h0M532.7 430.9h0M533.6 430.5h0M533.3 430.4h0M534.3 430.9h0M535.2 430.7h0M535 430.3h0M535.1 431.1h0M535.9 431.2h0M536.3 431.3h0M536.9 430.9h0M537.5 431.5h0M537.8 431.6h0M538.3 431.4h0M538.7 432h0M538.6 431.9h0M538.9 432h0M539 432.1h0M539.1 432.3h0M539 432.2h0M539.1 432.6h0M538.7 433.2h0M539 433.3h0M538.9 433.4h0M538.5 433.7h0M538.8 433.9h0M538.5 434h0M538.2 434.5h0M537.9 434.5h0M537.5 434.4h0M537.1 434.5h0M536.5 434.8h0M535.9 434.9h0M535.6 434.9h0M534.8 435.1h0M534.4 434.9h0M534.1 435.1h0M534 435.3h0M533.3 435.9h0M533 435.2h0M531.8 435.7h0M531.8 435.7h0M530.8 436h0M530.5 436h0M529.7 436h0M529.5 436h0M529.1 435.6h0M528.8 435.7h0M529.2 435.1h0M528.8 434.7h0M529.1 434.5h0M537.4 432.2h0M540.5 432.2h0M538.3 432.2h0M540.1 432.3h0M537.6 431.4h0M539 432.2h0M540.8 432.5h0M537.8 432.4h0M536.9 432.3h0M538.7 432.4h0" stroke="#ccb974" stroke-width="0.92" stroke-linecap="round" fill="none" stroke-opacity="0.85"/>
<circle cx="494" cy="409.7" r="1.15" fill="#0c121c" stroke="#4c72b0" stroke-width="0.4" stroke-opacity="0.55"/>
<circle cx="501" cy="412.3" r="1.15" fill="#0d1a10" stroke="#55a868" stroke-width="0.4" stroke-opacity="0.55"/>
<circle cx="406" cy="435.6" r="1.15" fill="#101c20" stroke="#64b5cd" stroke-width="0.4" stroke-opacity="0.55"/>
<circle cx="490.8" cy="445.2" r="1.15" fill="#14121c" stroke="#8172b2" stroke-width="0.4" stroke-opacity="0.55"/>
<circle cx="471" cy="455.8" r="1.15" fill="#0c121c" stroke="#4c72b0" stroke-width="0.4" stroke-opacity="0.55"/>
<circle cx="514" cy="459.2" r="1.15" fill="#1f0c0d" stroke="#c44e52" stroke-width="0.4" stroke-opacity="0.55"/>
<circle cx="487.7" cy="477.8" r="1.15" fill="#0d1a10" stroke="#55a868" stroke-width="0.4" stroke-opacity="0.55"/>
<circle cx="534.1" cy="433.2" r="1.15" fill="#201d12" stroke="#ccb974" stroke-width="0.4" stroke-opacity="0.55"/>
</g>
</svg>
</body></html>
